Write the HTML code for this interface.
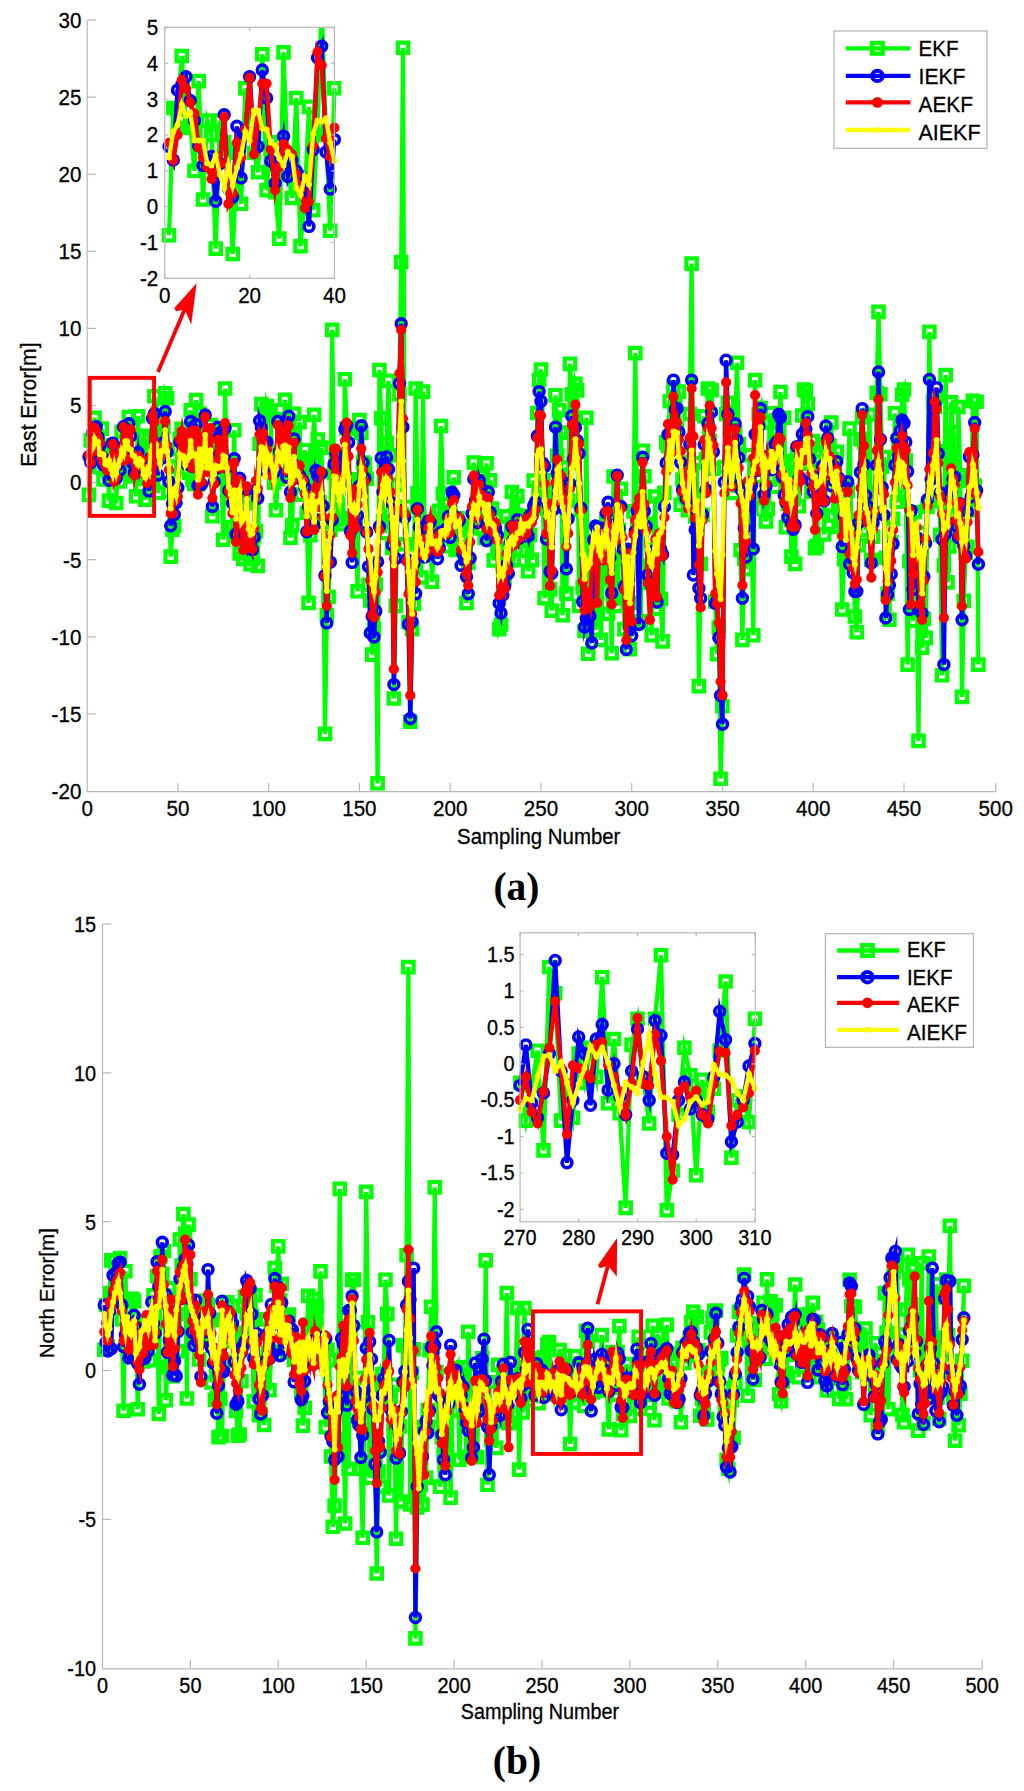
<!DOCTYPE html>
<html><head><meta charset="utf-8"><title>Error comparison</title>
<style>html,body{margin:0;padding:0;background:#fff}svg{display:block}</style></head>
<body>
<svg width="1024" height="1791" viewBox="0 0 1024 1791">
<rect width="1024" height="1791" fill="#fff"/>
<g id="chartA">
<clipPath id="mcA"><rect x="79.2" y="12" width="924.9" height="787.7"/></clipPath>
<g clip-path="url(#mcA)">
<polyline points="89,494.9 90.8,440.2 92.6,441 94.5,417.8 96.3,448.7 98.1,447.1 99.9,467.2 101.7,428.6 103.5,479.5 105.3,445.6 107.2,451.8 109,500.6 110.8,445.6 112.6,454.8 114.4,457.9 116.2,503 118.1,459.5 119.9,481.4 121.7,431.7 123.5,451.8 125.3,459.5 127.1,467.8 128.9,417.1 130.8,475.5 132.6,454.8 134.4,476.4 136.2,496.3 138,416.3 139.8,467.2 141.7,478.9 143.5,435.9 145.3,499.6 147.1,478 148.9,439.7 150.7,484.1 152.5,448.7 154.4,396.2 156.2,451.8 158,492.9 159.8,431.7 161.6,408.8 163.4,427 165.2,393.2 167.1,398.3 168.9,491.4 170.7,556.6 172.5,529.6 174.3,525.6 176.1,466.6 177.9,449.3 179.8,438.8 181.6,428.9 183.4,440.2 185.2,438 187,447.1 188.8,472.8 190.7,410.3 192.5,479.8 194.3,483.9 196.1,400.1 197.9,484.5 199.7,413.8 201.5,465.6 203.4,453.7 205.2,437.8 207,458.4 208.8,459.1 210.6,425.1 212.4,516.3 214.2,436 216.1,440.8 217.9,429.8 219.7,462.5 221.5,474 223.3,539.7 225.1,388.5 227,476.4 228.8,497.4 230.6,478.4 232.4,527.2 234.2,430.2 236,535 237.8,528.9 239.7,553.5 241.5,500.4 243.3,558.9 245.1,494.4 246.9,503.1 248.7,541.9 250.6,564.3 252.4,537.6 254.2,535.7 256,531.3 257.8,565.9 259.6,443.8 261.4,404.1 263.3,449.6 265.1,460.5 266.9,406 268.7,413.2 270.5,410.6 272.3,465.2 274.1,482.8 276,510.3 277.8,479.1 279.6,419.1 281.4,472.4 283.2,456.9 285,399.8 286.9,451 288.7,425.8 290.5,537.7 292.3,525.1 294.1,413.9 295.9,473.7 297.7,476.2 299.6,422.2 301.4,494.6 303.2,470.3 305,450.2 306.8,513 308.6,602.9 310.4,535.1 312.3,460.9 314.1,414.8 315.9,460.5 317.7,439.6 319.5,502.2 321.3,447.6 323.1,521.7 325,733.9 326.8,615.4 328.6,597 330.4,529.8 332.2,329.9 334,473.1 335.9,458.7 337.7,519.5 339.5,518.7 341.3,455.4 343.1,524.1 344.9,379.3 346.7,428.6 348.6,480.4 350.4,479.2 352.2,518.2 354,521.2 355.8,520 357.6,591.3 359.4,420 361.3,432.9 363.1,462.5 364.9,464.4 366.7,478.6 368.5,584.8 370.3,600.5 372.2,654.6 374,629.4 375.8,584.5 377.6,783.3 379.4,370 381.2,418.2 383,521.5 384.9,533 386.7,443.1 388.5,380.8 390.3,455.1 392.1,547.9 393.9,698.5 395.8,605.9 397.6,485 399.4,394.2 401.2,262.1 403,47.8 404.8,544.3 406.6,506.7 408.5,622.1 410.3,721.6 412.1,629.1 413.9,604 415.7,388.5 417.5,493.4 419.3,540.6 421.2,577.5 423,391.6 424.8,555.2 426.6,550.7 428.4,533.8 430.2,531.9 432,581.8 433.9,547.8 435.7,537.2 437.5,526.7 439.3,510.9 441.1,426 442.9,493.9 444.8,531.7 446.6,512.2 448.4,546.3 450.2,513.5 452,522.3 453.8,477.4 455.6,549.9 457.5,518.2 459.3,527.3 461.1,541.2 462.9,546.7 464.7,557.3 466.5,602.9 468.3,563 470.2,528.2 472,525.9 473.8,462.6 475.6,519.4 477.4,507.5 479.2,480.7 481.1,491.3 482.9,476 484.7,538 486.5,463.3 488.3,531.3 490.1,480.4 491.9,508.6 493.8,560.4 495.6,516.8 497.4,549 499.2,629.2 501,624.5 502.8,563.2 504.6,578.3 506.5,516.4 508.3,560.9 510.1,547.9 511.9,492 513.7,559.9 515.5,515.3 517.4,496.1 519.2,526.1 521,521.2 522.8,515.8 524.6,517.7 526.4,550.6 528.2,571.3 530.1,534.9 531.9,559.9 533.7,480.6 535.5,508.4 537.3,413 539.1,380.1 541,369.5 542.8,485.8 544.6,598.2 546.4,496.9 548.2,490.6 550,589.4 551.8,610.6 553.7,480.4 555.5,395.2 557.3,455.7 559.1,410.3 560.9,432.6 562.7,615.2 564.5,467.6 566.4,593.6 568.2,500.5 570,363.9 571.8,394.3 573.6,463 575.4,383.9 577.2,390.4 579.1,606 580.9,509.9 582.7,587.2 584.5,631 586.3,417.8 588.1,653.8 590,622.6 591.8,612.4 593.6,621.4 595.4,571.5 597.2,573.3 599,562.6 600.8,639.9 602.7,578.1 604.5,567.5 606.3,518.7 608.1,613.7 609.9,555.3 611.7,653.2 613.6,476.5 615.4,585.8 617.2,606 619,529.9 620.8,488.7 622.6,559.8 624.4,629.1 626.3,598.2 628.1,575.1 629.9,649.1 631.7,602.9 633.5,511.4 635.3,353.1 637.1,524.7 639,519.9 640.8,621.4 642.6,450.7 644.4,476.3 646.2,523.8 648,582.9 649.9,565.9 651.7,635.3 653.5,549.6 655.3,496.5 657.1,609 658.9,534.6 660.7,598.9 662.6,641.4 664.4,492.7 666.2,442.4 668,446 669.8,401.2 671.6,446.7 673.4,387 675.3,405.3 677.1,428.8 678.9,391.6 680.7,504.8 682.5,479.6 684.3,491 686.1,455 688,510.3 689.8,414 691.6,263.6 693.4,496 695.2,516.5 697,463 698.9,686.1 700.7,563.9 702.5,514.9 704.3,416.3 706.1,458.9 707.9,388.5 709.7,441.1 711.6,390.1 713.4,468.8 715.2,601.5 717,654.1 718.8,627.5 720.6,778.7 722.5,706.2 724.3,467 726.1,414.2 727.9,402.7 729.7,429 731.5,445.1 733.3,493 735.2,432.8 737,362.8 738.8,444 740.6,550.3 742.4,639.9 744.2,558.7 746,569.2 747.9,507.9 749.7,455.3 751.5,508.7 753.3,635.3 755.1,380.1 756.9,476.7 758.8,414.2 760.6,408 762.4,460 764.2,498.3 766,521.5 767.8,508.7 769.6,422.6 771.5,413.2 773.3,451.8 775.1,486.8 776.9,446.6 778.7,443 780.5,392 782.3,475.1 784.2,417.8 786,527.1 787.8,503.9 789.6,461.4 791.4,556.6 793.2,465.5 795.1,563.9 796.9,454.2 798.7,506.3 800.5,463.8 802.3,415.5 804.1,389.5 805.9,390.9 807.8,404.1 809.6,458 811.4,491.8 813.2,441.1 815,548.1 816.8,545.9 818.6,494.8 820.5,461.5 822.3,445.3 824.1,534.4 825.9,479.4 827.7,452 829.5,445.6 831.4,422.5 833.2,515.5 835,464.9 836.8,451.8 838.6,527 840.4,520.8 842.2,609.5 844.1,559.1 845.9,541.8 847.7,490.4 849.5,428.6 851.3,520.8 853.1,528.3 854.9,616.5 856.8,632.2 858.6,545.1 860.4,439.1 862.2,417.5 864,442.2 865.8,530 867.6,492.3 869.5,414.8 871.3,559.7 873.1,536.6 874.9,512.8 876.7,392.9 878.5,311.9 880.4,394.3 882.2,466.8 884,457.1 885.8,557.7 887.6,593.6 889.4,619.8 891.2,542 893.1,518.9 894.9,413.2 896.7,501.8 898.5,448.8 900.3,495.3 902.1,394.8 904,389.5 905.8,460.2 907.6,664.6 909.4,561.3 911.2,522.9 913,620.8 914.8,512 916.7,553 918.5,740.9 920.3,532.8 922.1,647.7 923.9,619 925.7,637.9 927.5,506.8 929.4,331.9 931.2,501.1 933,401.6 934.8,406.8 936.6,396.2 938.4,451.3 940.2,534.9 942.1,675.4 943.9,565.4 945.7,375.1 947.5,582.4 949.3,546.4 951.1,402.4 953,432.2 954.8,528.4 956.6,506 958.4,407 960.2,475.3 962,696.9 963.8,600.9 965.7,552.7 967.5,546.7 969.3,481 971.1,510.4 972.9,400.8 974.7,485.5 976.6,401.8 978.4,664.6" fill="none" stroke="#00ff00" stroke-width="4.3" stroke-linejoin="miter" stroke-miterlimit="8"/>
<path d="M83.8,489.7h10.4v10.4h-10.4zM85.6,435h10.4v10.4h-10.4zM87.4,435.8h10.4v10.4h-10.4zM89.3,412.6h10.4v10.4h-10.4zM91.1,443.5h10.4v10.4h-10.4zM92.9,441.9h10.4v10.4h-10.4zM94.7,462h10.4v10.4h-10.4zM96.5,423.4h10.4v10.4h-10.4zM98.3,474.3h10.4v10.4h-10.4zM100.1,440.4h10.4v10.4h-10.4zM102,446.6h10.4v10.4h-10.4zM103.8,495.4h10.4v10.4h-10.4zM105.6,440.4h10.4v10.4h-10.4zM107.4,449.6h10.4v10.4h-10.4zM109.2,452.7h10.4v10.4h-10.4zM111,497.8h10.4v10.4h-10.4zM112.9,454.3h10.4v10.4h-10.4zM114.7,476.2h10.4v10.4h-10.4zM116.5,426.5h10.4v10.4h-10.4zM118.3,446.6h10.4v10.4h-10.4zM120.1,454.3h10.4v10.4h-10.4zM121.9,462.6h10.4v10.4h-10.4zM123.7,411.9h10.4v10.4h-10.4zM125.6,470.3h10.4v10.4h-10.4zM127.4,449.6h10.4v10.4h-10.4zM129.2,471.2h10.4v10.4h-10.4zM131,491.1h10.4v10.4h-10.4zM132.8,411.1h10.4v10.4h-10.4zM134.6,462h10.4v10.4h-10.4zM136.5,473.7h10.4v10.4h-10.4zM138.3,430.7h10.4v10.4h-10.4zM140.1,494.4h10.4v10.4h-10.4zM141.9,472.8h10.4v10.4h-10.4zM143.7,434.5h10.4v10.4h-10.4zM145.5,478.9h10.4v10.4h-10.4zM147.3,443.5h10.4v10.4h-10.4zM149.2,391h10.4v10.4h-10.4zM151,446.6h10.4v10.4h-10.4zM152.8,487.7h10.4v10.4h-10.4zM154.6,426.5h10.4v10.4h-10.4zM156.4,403.6h10.4v10.4h-10.4zM158.2,421.8h10.4v10.4h-10.4zM160,388h10.4v10.4h-10.4zM161.9,393.1h10.4v10.4h-10.4zM163.7,486.2h10.4v10.4h-10.4zM165.5,551.4h10.4v10.4h-10.4zM167.3,524.4h10.4v10.4h-10.4zM169.1,520.4h10.4v10.4h-10.4zM170.9,461.4h10.4v10.4h-10.4zM172.8,444.1h10.4v10.4h-10.4zM174.6,433.6h10.4v10.4h-10.4zM176.4,423.7h10.4v10.4h-10.4zM178.2,435h10.4v10.4h-10.4zM180,432.8h10.4v10.4h-10.4zM181.8,441.9h10.4v10.4h-10.4zM183.6,467.6h10.4v10.4h-10.4zM185.5,405.1h10.4v10.4h-10.4zM187.3,474.6h10.4v10.4h-10.4zM189.1,478.7h10.4v10.4h-10.4zM190.9,394.9h10.4v10.4h-10.4zM192.7,479.3h10.4v10.4h-10.4zM194.5,408.6h10.4v10.4h-10.4zM196.3,460.4h10.4v10.4h-10.4zM198.2,448.5h10.4v10.4h-10.4zM200,432.6h10.4v10.4h-10.4zM201.8,453.2h10.4v10.4h-10.4zM203.6,453.9h10.4v10.4h-10.4zM205.4,419.9h10.4v10.4h-10.4zM207.2,511.1h10.4v10.4h-10.4zM209.1,430.8h10.4v10.4h-10.4zM210.9,435.6h10.4v10.4h-10.4zM212.7,424.6h10.4v10.4h-10.4zM214.5,457.3h10.4v10.4h-10.4zM216.3,468.8h10.4v10.4h-10.4zM218.1,534.5h10.4v10.4h-10.4zM219.9,383.3h10.4v10.4h-10.4zM221.8,471.2h10.4v10.4h-10.4zM223.6,492.2h10.4v10.4h-10.4zM225.4,473.2h10.4v10.4h-10.4zM227.2,522h10.4v10.4h-10.4zM229,425h10.4v10.4h-10.4zM230.8,529.8h10.4v10.4h-10.4zM232.6,523.7h10.4v10.4h-10.4zM234.5,548.3h10.4v10.4h-10.4zM236.3,495.2h10.4v10.4h-10.4zM238.1,553.7h10.4v10.4h-10.4zM239.9,489.2h10.4v10.4h-10.4zM241.7,497.9h10.4v10.4h-10.4zM243.5,536.7h10.4v10.4h-10.4zM245.4,559.1h10.4v10.4h-10.4zM247.2,532.4h10.4v10.4h-10.4zM249,530.5h10.4v10.4h-10.4zM250.8,526.1h10.4v10.4h-10.4zM252.6,560.7h10.4v10.4h-10.4zM254.4,438.6h10.4v10.4h-10.4zM256.2,398.9h10.4v10.4h-10.4zM258.1,444.4h10.4v10.4h-10.4zM259.9,455.3h10.4v10.4h-10.4zM261.7,400.8h10.4v10.4h-10.4zM263.5,408h10.4v10.4h-10.4zM265.3,405.4h10.4v10.4h-10.4zM267.1,460h10.4v10.4h-10.4zM268.9,477.6h10.4v10.4h-10.4zM270.8,505.1h10.4v10.4h-10.4zM272.6,473.9h10.4v10.4h-10.4zM274.4,413.9h10.4v10.4h-10.4zM276.2,467.2h10.4v10.4h-10.4zM278,451.7h10.4v10.4h-10.4zM279.8,394.6h10.4v10.4h-10.4zM281.7,445.8h10.4v10.4h-10.4zM283.5,420.6h10.4v10.4h-10.4zM285.3,532.5h10.4v10.4h-10.4zM287.1,519.9h10.4v10.4h-10.4zM288.9,408.7h10.4v10.4h-10.4zM290.7,468.5h10.4v10.4h-10.4zM292.5,471h10.4v10.4h-10.4zM294.4,417h10.4v10.4h-10.4zM296.2,489.4h10.4v10.4h-10.4zM298,465.1h10.4v10.4h-10.4zM299.8,445h10.4v10.4h-10.4zM301.6,507.8h10.4v10.4h-10.4zM303.4,597.7h10.4v10.4h-10.4zM305.2,529.9h10.4v10.4h-10.4zM307.1,455.7h10.4v10.4h-10.4zM308.9,409.6h10.4v10.4h-10.4zM310.7,455.3h10.4v10.4h-10.4zM312.5,434.4h10.4v10.4h-10.4zM314.3,497h10.4v10.4h-10.4zM316.1,442.4h10.4v10.4h-10.4zM317.9,516.5h10.4v10.4h-10.4zM319.8,728.7h10.4v10.4h-10.4zM321.6,610.2h10.4v10.4h-10.4zM323.4,591.8h10.4v10.4h-10.4zM325.2,524.6h10.4v10.4h-10.4zM327,324.7h10.4v10.4h-10.4zM328.8,467.9h10.4v10.4h-10.4zM330.7,453.5h10.4v10.4h-10.4zM332.5,514.3h10.4v10.4h-10.4zM334.3,513.5h10.4v10.4h-10.4zM336.1,450.2h10.4v10.4h-10.4zM337.9,518.9h10.4v10.4h-10.4zM339.7,374.1h10.4v10.4h-10.4zM341.5,423.4h10.4v10.4h-10.4zM343.4,475.2h10.4v10.4h-10.4zM345.2,474h10.4v10.4h-10.4zM347,513h10.4v10.4h-10.4zM348.8,516h10.4v10.4h-10.4zM350.6,514.8h10.4v10.4h-10.4zM352.4,586.1h10.4v10.4h-10.4zM354.2,414.8h10.4v10.4h-10.4zM356.1,427.7h10.4v10.4h-10.4zM357.9,457.3h10.4v10.4h-10.4zM359.7,459.2h10.4v10.4h-10.4zM361.5,473.4h10.4v10.4h-10.4zM363.3,579.6h10.4v10.4h-10.4zM365.1,595.3h10.4v10.4h-10.4zM367,649.4h10.4v10.4h-10.4zM368.8,624.2h10.4v10.4h-10.4zM370.6,579.3h10.4v10.4h-10.4zM372.4,778.1h10.4v10.4h-10.4zM374.2,364.8h10.4v10.4h-10.4zM376,413h10.4v10.4h-10.4zM377.8,516.3h10.4v10.4h-10.4zM379.7,527.8h10.4v10.4h-10.4zM381.5,437.9h10.4v10.4h-10.4zM383.3,375.6h10.4v10.4h-10.4zM385.1,449.9h10.4v10.4h-10.4zM386.9,542.7h10.4v10.4h-10.4zM388.7,693.3h10.4v10.4h-10.4zM390.6,600.7h10.4v10.4h-10.4zM392.4,479.8h10.4v10.4h-10.4zM394.2,389h10.4v10.4h-10.4zM396,256.9h10.4v10.4h-10.4zM397.8,42.6h10.4v10.4h-10.4zM399.6,539.1h10.4v10.4h-10.4zM401.4,501.5h10.4v10.4h-10.4zM403.3,616.9h10.4v10.4h-10.4zM405.1,716.4h10.4v10.4h-10.4zM406.9,623.9h10.4v10.4h-10.4zM408.7,598.8h10.4v10.4h-10.4zM410.5,383.3h10.4v10.4h-10.4zM412.3,488.2h10.4v10.4h-10.4zM414.1,535.4h10.4v10.4h-10.4zM416,572.3h10.4v10.4h-10.4zM417.8,386.4h10.4v10.4h-10.4zM419.6,550h10.4v10.4h-10.4zM421.4,545.5h10.4v10.4h-10.4zM423.2,528.6h10.4v10.4h-10.4zM425,526.7h10.4v10.4h-10.4zM426.8,576.6h10.4v10.4h-10.4zM428.7,542.6h10.4v10.4h-10.4zM430.5,532h10.4v10.4h-10.4zM432.3,521.5h10.4v10.4h-10.4zM434.1,505.7h10.4v10.4h-10.4zM435.9,420.8h10.4v10.4h-10.4zM437.7,488.7h10.4v10.4h-10.4zM439.6,526.5h10.4v10.4h-10.4zM441.4,507h10.4v10.4h-10.4zM443.2,541.1h10.4v10.4h-10.4zM445,508.3h10.4v10.4h-10.4zM446.8,517.1h10.4v10.4h-10.4zM448.6,472.2h10.4v10.4h-10.4zM450.4,544.7h10.4v10.4h-10.4zM452.3,513h10.4v10.4h-10.4zM454.1,522.1h10.4v10.4h-10.4zM455.9,536h10.4v10.4h-10.4zM457.7,541.5h10.4v10.4h-10.4zM459.5,552.1h10.4v10.4h-10.4zM461.3,597.7h10.4v10.4h-10.4zM463.1,557.8h10.4v10.4h-10.4zM465,523h10.4v10.4h-10.4zM466.8,520.7h10.4v10.4h-10.4zM468.6,457.4h10.4v10.4h-10.4zM470.4,514.2h10.4v10.4h-10.4zM472.2,502.3h10.4v10.4h-10.4zM474,475.5h10.4v10.4h-10.4zM475.9,486.1h10.4v10.4h-10.4zM477.7,470.8h10.4v10.4h-10.4zM479.5,532.8h10.4v10.4h-10.4zM481.3,458.1h10.4v10.4h-10.4zM483.1,526.1h10.4v10.4h-10.4zM484.9,475.2h10.4v10.4h-10.4zM486.7,503.4h10.4v10.4h-10.4zM488.6,555.2h10.4v10.4h-10.4zM490.4,511.6h10.4v10.4h-10.4zM492.2,543.8h10.4v10.4h-10.4zM494,624h10.4v10.4h-10.4zM495.8,619.3h10.4v10.4h-10.4zM497.6,558h10.4v10.4h-10.4zM499.4,573.1h10.4v10.4h-10.4zM501.3,511.2h10.4v10.4h-10.4zM503.1,555.7h10.4v10.4h-10.4zM504.9,542.7h10.4v10.4h-10.4zM506.7,486.8h10.4v10.4h-10.4zM508.5,554.7h10.4v10.4h-10.4zM510.3,510.1h10.4v10.4h-10.4zM512.2,490.9h10.4v10.4h-10.4zM514,520.9h10.4v10.4h-10.4zM515.8,516h10.4v10.4h-10.4zM517.6,510.6h10.4v10.4h-10.4zM519.4,512.5h10.4v10.4h-10.4zM521.2,545.4h10.4v10.4h-10.4zM523,566.1h10.4v10.4h-10.4zM524.9,529.7h10.4v10.4h-10.4zM526.7,554.7h10.4v10.4h-10.4zM528.5,475.4h10.4v10.4h-10.4zM530.3,503.2h10.4v10.4h-10.4zM532.1,407.8h10.4v10.4h-10.4zM533.9,374.9h10.4v10.4h-10.4zM535.8,364.3h10.4v10.4h-10.4zM537.6,480.6h10.4v10.4h-10.4zM539.4,593h10.4v10.4h-10.4zM541.2,491.7h10.4v10.4h-10.4zM543,485.4h10.4v10.4h-10.4zM544.8,584.2h10.4v10.4h-10.4zM546.6,605.4h10.4v10.4h-10.4zM548.5,475.2h10.4v10.4h-10.4zM550.3,390h10.4v10.4h-10.4zM552.1,450.5h10.4v10.4h-10.4zM553.9,405.1h10.4v10.4h-10.4zM555.7,427.4h10.4v10.4h-10.4zM557.5,610h10.4v10.4h-10.4zM559.3,462.4h10.4v10.4h-10.4zM561.2,588.4h10.4v10.4h-10.4zM563,495.3h10.4v10.4h-10.4zM564.8,358.7h10.4v10.4h-10.4zM566.6,389.1h10.4v10.4h-10.4zM568.4,457.8h10.4v10.4h-10.4zM570.2,378.7h10.4v10.4h-10.4zM572,385.2h10.4v10.4h-10.4zM573.9,600.8h10.4v10.4h-10.4zM575.7,504.7h10.4v10.4h-10.4zM577.5,582h10.4v10.4h-10.4zM579.3,625.8h10.4v10.4h-10.4zM581.1,412.6h10.4v10.4h-10.4zM582.9,648.6h10.4v10.4h-10.4zM584.8,617.4h10.4v10.4h-10.4zM586.6,607.2h10.4v10.4h-10.4zM588.4,616.2h10.4v10.4h-10.4zM590.2,566.3h10.4v10.4h-10.4zM592,568.1h10.4v10.4h-10.4zM593.8,557.4h10.4v10.4h-10.4zM595.6,634.7h10.4v10.4h-10.4zM597.5,572.9h10.4v10.4h-10.4zM599.3,562.3h10.4v10.4h-10.4zM601.1,513.5h10.4v10.4h-10.4zM602.9,608.5h10.4v10.4h-10.4zM604.7,550.1h10.4v10.4h-10.4zM606.5,648h10.4v10.4h-10.4zM608.4,471.3h10.4v10.4h-10.4zM610.2,580.6h10.4v10.4h-10.4zM612,600.8h10.4v10.4h-10.4zM613.8,524.7h10.4v10.4h-10.4zM615.6,483.5h10.4v10.4h-10.4zM617.4,554.6h10.4v10.4h-10.4zM619.2,623.9h10.4v10.4h-10.4zM621.1,593h10.4v10.4h-10.4zM622.9,569.9h10.4v10.4h-10.4zM624.7,643.9h10.4v10.4h-10.4zM626.5,597.7h10.4v10.4h-10.4zM628.3,506.2h10.4v10.4h-10.4zM630.1,347.9h10.4v10.4h-10.4zM631.9,519.5h10.4v10.4h-10.4zM633.8,514.7h10.4v10.4h-10.4zM635.6,616.2h10.4v10.4h-10.4zM637.4,445.5h10.4v10.4h-10.4zM639.2,471.1h10.4v10.4h-10.4zM641,518.6h10.4v10.4h-10.4zM642.8,577.7h10.4v10.4h-10.4zM644.6,560.7h10.4v10.4h-10.4zM646.5,630.1h10.4v10.4h-10.4zM648.3,544.4h10.4v10.4h-10.4zM650.1,491.3h10.4v10.4h-10.4zM651.9,603.8h10.4v10.4h-10.4zM653.7,529.4h10.4v10.4h-10.4zM655.5,593.7h10.4v10.4h-10.4zM657.4,636.2h10.4v10.4h-10.4zM659.2,487.5h10.4v10.4h-10.4zM661,437.2h10.4v10.4h-10.4zM662.8,440.8h10.4v10.4h-10.4zM664.6,396h10.4v10.4h-10.4zM666.4,441.5h10.4v10.4h-10.4zM668.2,381.8h10.4v10.4h-10.4zM670.1,400.1h10.4v10.4h-10.4zM671.9,423.6h10.4v10.4h-10.4zM673.7,386.4h10.4v10.4h-10.4zM675.5,499.6h10.4v10.4h-10.4zM677.3,474.4h10.4v10.4h-10.4zM679.1,485.8h10.4v10.4h-10.4zM680.9,449.8h10.4v10.4h-10.4zM682.8,505.1h10.4v10.4h-10.4zM684.6,408.8h10.4v10.4h-10.4zM686.4,258.4h10.4v10.4h-10.4zM688.2,490.8h10.4v10.4h-10.4zM690,511.3h10.4v10.4h-10.4zM691.8,457.8h10.4v10.4h-10.4zM693.7,680.9h10.4v10.4h-10.4zM695.5,558.7h10.4v10.4h-10.4zM697.3,509.7h10.4v10.4h-10.4zM699.1,411.1h10.4v10.4h-10.4zM700.9,453.7h10.4v10.4h-10.4zM702.7,383.3h10.4v10.4h-10.4zM704.5,435.9h10.4v10.4h-10.4zM706.4,384.9h10.4v10.4h-10.4zM708.2,463.6h10.4v10.4h-10.4zM710,596.3h10.4v10.4h-10.4zM711.8,648.9h10.4v10.4h-10.4zM713.6,622.3h10.4v10.4h-10.4zM715.4,773.5h10.4v10.4h-10.4zM717.2,701h10.4v10.4h-10.4zM719.1,461.8h10.4v10.4h-10.4zM720.9,409h10.4v10.4h-10.4zM722.7,397.5h10.4v10.4h-10.4zM724.5,423.8h10.4v10.4h-10.4zM726.3,439.9h10.4v10.4h-10.4zM728.1,487.8h10.4v10.4h-10.4zM730,427.6h10.4v10.4h-10.4zM731.8,357.6h10.4v10.4h-10.4zM733.6,438.8h10.4v10.4h-10.4zM735.4,545.1h10.4v10.4h-10.4zM737.2,634.7h10.4v10.4h-10.4zM739,553.5h10.4v10.4h-10.4zM740.8,564h10.4v10.4h-10.4zM742.7,502.7h10.4v10.4h-10.4zM744.5,450.1h10.4v10.4h-10.4zM746.3,503.5h10.4v10.4h-10.4zM748.1,630.1h10.4v10.4h-10.4zM749.9,374.9h10.4v10.4h-10.4zM751.7,471.5h10.4v10.4h-10.4zM753.5,409h10.4v10.4h-10.4zM755.4,402.8h10.4v10.4h-10.4zM757.2,454.8h10.4v10.4h-10.4zM759,493.1h10.4v10.4h-10.4zM760.8,516.3h10.4v10.4h-10.4zM762.6,503.5h10.4v10.4h-10.4zM764.4,417.4h10.4v10.4h-10.4zM766.3,408h10.4v10.4h-10.4zM768.1,446.6h10.4v10.4h-10.4zM769.9,481.6h10.4v10.4h-10.4zM771.7,441.4h10.4v10.4h-10.4zM773.5,437.8h10.4v10.4h-10.4zM775.3,386.8h10.4v10.4h-10.4zM777.1,469.9h10.4v10.4h-10.4zM779,412.6h10.4v10.4h-10.4zM780.8,521.9h10.4v10.4h-10.4zM782.6,498.7h10.4v10.4h-10.4zM784.4,456.2h10.4v10.4h-10.4zM786.2,551.4h10.4v10.4h-10.4zM788,460.3h10.4v10.4h-10.4zM789.9,558.7h10.4v10.4h-10.4zM791.7,449h10.4v10.4h-10.4zM793.5,501.1h10.4v10.4h-10.4zM795.3,458.6h10.4v10.4h-10.4zM797.1,410.3h10.4v10.4h-10.4zM798.9,384.3h10.4v10.4h-10.4zM800.7,385.7h10.4v10.4h-10.4zM802.6,398.9h10.4v10.4h-10.4zM804.4,452.8h10.4v10.4h-10.4zM806.2,486.6h10.4v10.4h-10.4zM808,435.9h10.4v10.4h-10.4zM809.8,542.9h10.4v10.4h-10.4zM811.6,540.7h10.4v10.4h-10.4zM813.4,489.6h10.4v10.4h-10.4zM815.3,456.3h10.4v10.4h-10.4zM817.1,440.1h10.4v10.4h-10.4zM818.9,529.2h10.4v10.4h-10.4zM820.7,474.2h10.4v10.4h-10.4zM822.5,446.8h10.4v10.4h-10.4zM824.3,440.4h10.4v10.4h-10.4zM826.1,417.3h10.4v10.4h-10.4zM828,510.3h10.4v10.4h-10.4zM829.8,459.7h10.4v10.4h-10.4zM831.6,446.6h10.4v10.4h-10.4zM833.4,521.8h10.4v10.4h-10.4zM835.2,515.6h10.4v10.4h-10.4zM837,604.3h10.4v10.4h-10.4zM838.9,553.9h10.4v10.4h-10.4zM840.7,536.6h10.4v10.4h-10.4zM842.5,485.2h10.4v10.4h-10.4zM844.3,423.4h10.4v10.4h-10.4zM846.1,515.6h10.4v10.4h-10.4zM847.9,523.1h10.4v10.4h-10.4zM849.7,611.3h10.4v10.4h-10.4zM851.6,627h10.4v10.4h-10.4zM853.4,539.9h10.4v10.4h-10.4zM855.2,433.9h10.4v10.4h-10.4zM857,412.3h10.4v10.4h-10.4zM858.8,437h10.4v10.4h-10.4zM860.6,524.8h10.4v10.4h-10.4zM862.4,487.1h10.4v10.4h-10.4zM864.3,409.6h10.4v10.4h-10.4zM866.1,554.5h10.4v10.4h-10.4zM867.9,531.4h10.4v10.4h-10.4zM869.7,507.6h10.4v10.4h-10.4zM871.5,387.7h10.4v10.4h-10.4zM873.3,306.7h10.4v10.4h-10.4zM875.2,389.1h10.4v10.4h-10.4zM877,461.6h10.4v10.4h-10.4zM878.8,451.9h10.4v10.4h-10.4zM880.6,552.5h10.4v10.4h-10.4zM882.4,588.4h10.4v10.4h-10.4zM884.2,614.6h10.4v10.4h-10.4zM886,536.8h10.4v10.4h-10.4zM887.9,513.7h10.4v10.4h-10.4zM889.7,408h10.4v10.4h-10.4zM891.5,496.6h10.4v10.4h-10.4zM893.3,443.6h10.4v10.4h-10.4zM895.1,490.1h10.4v10.4h-10.4zM896.9,389.6h10.4v10.4h-10.4zM898.8,384.3h10.4v10.4h-10.4zM900.6,455h10.4v10.4h-10.4zM902.4,659.4h10.4v10.4h-10.4zM904.2,556.1h10.4v10.4h-10.4zM906,517.7h10.4v10.4h-10.4zM907.8,615.6h10.4v10.4h-10.4zM909.6,506.8h10.4v10.4h-10.4zM911.5,547.8h10.4v10.4h-10.4zM913.3,735.7h10.4v10.4h-10.4zM915.1,527.6h10.4v10.4h-10.4zM916.9,642.5h10.4v10.4h-10.4zM918.7,613.8h10.4v10.4h-10.4zM920.5,632.7h10.4v10.4h-10.4zM922.3,501.6h10.4v10.4h-10.4zM924.2,326.7h10.4v10.4h-10.4zM926,495.9h10.4v10.4h-10.4zM927.8,396.4h10.4v10.4h-10.4zM929.6,401.6h10.4v10.4h-10.4zM931.4,391h10.4v10.4h-10.4zM933.2,446.1h10.4v10.4h-10.4zM935,529.7h10.4v10.4h-10.4zM936.9,670.1h10.4v10.4h-10.4zM938.7,560.2h10.4v10.4h-10.4zM940.5,369.9h10.4v10.4h-10.4zM942.3,577.2h10.4v10.4h-10.4zM944.1,541.2h10.4v10.4h-10.4zM945.9,397.2h10.4v10.4h-10.4zM947.8,427h10.4v10.4h-10.4zM949.6,523.2h10.4v10.4h-10.4zM951.4,500.8h10.4v10.4h-10.4zM953.2,401.8h10.4v10.4h-10.4zM955,470.1h10.4v10.4h-10.4zM956.8,691.7h10.4v10.4h-10.4zM958.6,595.7h10.4v10.4h-10.4zM960.5,547.5h10.4v10.4h-10.4zM962.3,541.5h10.4v10.4h-10.4zM964.1,475.8h10.4v10.4h-10.4zM965.9,505.2h10.4v10.4h-10.4zM967.7,395.6h10.4v10.4h-10.4zM969.5,480.3h10.4v10.4h-10.4zM971.4,396.6h10.4v10.4h-10.4zM973.2,659.4h10.4v10.4h-10.4z" fill="none" stroke="#00ff00" stroke-width="4.2"/>
</g>
<g clip-path="url(#mcA)">
<polyline points="89,456.7 90.8,462.6 92.6,432.5 94.5,430.2 96.3,426.8 98.1,437 99.9,445.6 101.7,456.4 103.5,464.9 105.3,462.6 107.2,461 109,480.3 110.8,464.1 112.6,443.1 114.4,474.9 116.2,478.4 118.1,448.1 119.9,470.3 121.7,451.8 123.5,426.8 125.3,453.3 127.1,456.7 128.9,423.8 130.8,435.9 132.6,463 134.4,472.6 136.2,464.1 138,452.4 139.8,469.6 141.7,462.6 143.5,467.2 145.3,469.5 147.1,473.3 148.9,491.1 150.7,458.1 152.5,418.6 154.4,413.7 156.2,459.2 158,475 159.8,453.8 161.6,458.3 163.4,442.6 165.2,411.4 167.1,451.9 168.9,481.4 170.7,525.8 172.5,503.7 174.3,514.4 176.1,502.8 177.9,487.8 179.8,442 181.6,441.4 183.4,435.9 185.2,436.9 187,464.3 188.8,439.9 190.7,421.5 192.5,466.6 194.3,444.3 196.1,424.4 197.9,485.6 199.7,453.6 201.5,484.6 203.4,468.4 205.2,415 207,464.3 208.8,453.2 210.6,433.3 212.4,506.5 214.2,481.8 216.1,468.4 217.9,427.3 219.7,462.8 221.5,466.1 223.3,429.9 225.1,428 227,467 228.8,490.6 230.6,489.4 232.4,503 234.2,458.6 236,534.3 237.8,511.2 239.7,478.2 241.5,528 243.3,539.1 245.1,532.2 246.9,489.2 248.7,547.3 250.6,542.8 252.4,549.7 254.2,536.9 256,489.9 257.8,498.2 259.6,420.8 261.4,427.7 263.3,441.6 265.1,470.7 266.9,441.9 268.7,463.3 270.5,467.3 272.3,463.9 274.1,472.2 276,469.1 277.8,421.5 279.6,451.3 281.4,457 283.2,436.4 285,424 286.9,477.2 288.7,416.2 290.5,492.1 292.3,463.2 294.1,438.9 295.9,477.1 297.7,472.8 299.6,475.4 301.4,479.1 303.2,481.3 305,487.4 306.8,531.7 308.6,506.3 310.4,499.9 312.3,506.3 314.1,525.6 315.9,470.5 317.7,475.8 319.5,510.7 321.3,473.5 323.1,506 325,575.6 326.8,622.9 328.6,562.3 330.4,562.1 332.2,520 334,464 335.9,453.5 337.7,481.2 339.5,482.5 341.3,469.2 343.1,463.5 344.9,428.9 346.7,425.3 348.6,442.4 350.4,530.9 352.2,562.4 354,495.8 355.8,524.8 357.6,515.6 359.4,486.2 361.3,425.8 363.1,462.7 364.9,478 366.7,532 368.5,566.6 370.3,632.9 372.2,616.5 374,637.1 375.8,610.9 377.6,561.7 379.4,526.5 381.2,457.9 383,492.2 384.9,486.1 386.7,456.9 388.5,469.2 390.3,501.8 392.1,545.1 393.9,684.6 395.8,558.5 397.6,509.6 399.4,383.6 401.2,323.8 403,427.1 404.8,517.6 406.6,559.2 408.5,624.2 410.3,718.5 412.1,621.4 413.9,563.6 415.7,593.8 417.5,508.8 419.3,527 421.2,528.5 423,552.7 424.8,557.1 426.6,551.7 428.4,520.9 430.2,522.3 432,547.6 433.9,549 435.7,536 437.5,558.8 439.3,547.7 441.1,532.1 442.9,532.4 444.8,535.3 446.6,528.4 448.4,516.4 450.2,537.4 452,492.2 453.8,495.3 455.6,517.2 457.5,522.8 459.3,520.2 461.1,565.4 462.9,553.7 464.7,554.1 466.5,576.8 468.3,593.8 470.2,558 472,513.4 473.8,479.1 475.6,500.4 477.4,522.6 479.2,480.5 481.1,488.4 482.9,498.9 484.7,499.7 486.5,540.7 488.3,491.9 490.1,512.1 491.9,526 493.8,531 495.6,527.7 497.4,535.3 499.2,603.2 501,612.9 502.8,594.9 504.6,586.2 506.5,564.9 508.3,573.5 510.1,544 511.9,526.7 513.7,539.8 515.5,538.1 517.4,519.7 519.2,538.2 521,530.5 522.8,527.2 524.6,534.5 526.4,529.3 528.2,536.1 530.1,515.3 531.9,516.5 533.7,505.8 535.5,501.7 537.3,435.9 539.1,391.6 541,401.2 542.8,463.2 544.6,466.5 546.4,539 548.2,505.4 550,571.5 551.8,573.2 553.7,509.2 555.5,427.1 557.3,473 559.1,477.1 560.9,479.8 562.7,488 564.5,509.3 566.4,568.9 568.2,518.7 570,483.8 571.8,416 573.6,459.1 575.4,427.4 577.2,440.5 579.1,453.4 580.9,508 582.7,601.7 584.5,626.9 586.3,618.3 588.1,617.4 590,616 591.8,643 593.6,539.8 595.4,526 597.2,529.4 599,546.6 600.8,528.3 602.7,558.6 604.5,545 606.3,512.9 608.1,502.3 609.9,557.8 611.7,593.1 613.6,540.2 615.4,524.2 617.2,475.3 619,528.5 620.8,506.5 622.6,548.5 624.4,586.3 626.3,649.4 628.1,549.2 629.9,627.7 631.7,635.8 633.5,549.8 635.3,531.4 637.1,510.8 639,624.5 640.8,509.1 642.6,457.1 644.4,511 646.2,526.3 648,575 649.9,582.8 651.7,585.9 653.5,581.8 655.3,550.1 657.1,602.1 658.9,538.3 660.7,549 662.6,554.6 664.4,506.8 666.2,463 668,434.6 669.8,432.7 671.6,448.2 673.4,380.1 675.3,409.6 677.1,408.4 678.9,432 680.7,462.4 682.5,489.8 684.3,487.1 686.1,498.5 688,499.2 689.8,443.9 691.6,380.1 693.4,575.1 695.2,529.8 697,518.4 698.9,588.2 700.7,598.2 702.5,514.4 704.3,444.4 706.1,489.7 707.9,423.5 709.7,441.1 711.6,412 713.4,451.8 715.2,603.2 717,601.2 718.8,637.8 720.6,695.4 722.5,724.2 724.3,482.2 726.1,360.2 727.9,414 729.7,454.4 731.5,479.8 733.3,448.2 735.2,423.8 737,440.1 738.8,457.7 740.6,488.9 742.4,598.2 744.2,527.9 746,557.1 747.9,484.1 749.7,497.8 751.5,485.4 753.3,548.9 755.1,434.2 756.9,470.5 758.8,426.1 760.6,408.8 762.4,459.5 764.2,494.6 766,486.2 767.8,456.4 769.6,463.7 771.5,469.7 773.3,467.7 775.1,444.2 776.9,441.8 778.7,414.2 780.5,417.4 782.3,476.9 784.2,494.9 786,502.7 787.8,517.3 789.6,494.5 791.4,523 793.2,529.3 795.1,524.9 796.9,446.6 798.7,478.9 800.5,478.2 802.3,434.1 804.1,439.9 805.9,429 807.8,416.6 809.6,459.1 811.4,481.2 813.2,491.8 815,476.6 816.8,513.5 818.6,495.5 820.5,482.2 822.3,465.9 824.1,500.8 825.9,425.9 827.7,438 829.5,463.6 831.4,485.8 833.2,474.7 835,479.9 836.8,461.6 838.6,478 840.4,480.5 842.2,546.8 844.1,515.9 845.9,539.6 847.7,481.8 849.5,563.9 851.3,530.1 853.1,572.8 854.9,591.5 856.8,591.3 858.6,522.8 860.4,472.3 862.2,408.6 864,464.6 865.8,495.5 867.6,506.3 869.5,521.6 871.3,563.1 873.1,523 874.9,515.8 876.7,465.2 878.5,371.9 880.4,439.4 882.2,487.4 884,515 885.8,618 887.6,594.5 889.4,585 891.2,574 893.1,543.7 894.9,465.1 896.7,438.1 898.5,456 900.3,430.8 902.1,420 904,423.3 905.8,442.1 907.6,471.4 909.4,609.5 911.2,510.6 913,589.6 914.8,549.6 916.7,537.6 918.5,609.5 920.3,572.1 922.1,613.2 923.9,576.8 925.7,543.1 927.5,499.6 929.4,379.4 931.2,479.6 933,437.2 934.8,404.2 936.6,387.6 938.4,453.8 940.2,492.8 942.1,539.2 943.9,664.6 945.7,533.6 947.5,522.7 949.3,497.9 951.1,489.3 953,479.1 954.8,476.9 956.6,526.2 958.4,537.8 960.2,503.6 962,619.8 963.8,545.8 965.7,556 967.5,512 969.3,456.8 971.1,496.7 972.9,454.7 974.7,422.5 976.6,490.4 978.4,564.3" fill="none" stroke="#0000ff" stroke-width="4.3" stroke-linejoin="miter" stroke-miterlimit="8"/>
<g fill="none" stroke="#0000ff" stroke-width="3.6"><circle cx="89" cy="456.7" r="4.9"/><circle cx="90.8" cy="462.6" r="4.9"/><circle cx="92.6" cy="432.5" r="4.9"/><circle cx="94.5" cy="430.2" r="4.9"/><circle cx="96.3" cy="426.8" r="4.9"/><circle cx="98.1" cy="437" r="4.9"/><circle cx="99.9" cy="445.6" r="4.9"/><circle cx="101.7" cy="456.4" r="4.9"/><circle cx="103.5" cy="464.9" r="4.9"/><circle cx="105.3" cy="462.6" r="4.9"/><circle cx="107.2" cy="461" r="4.9"/><circle cx="109" cy="480.3" r="4.9"/><circle cx="110.8" cy="464.1" r="4.9"/><circle cx="112.6" cy="443.1" r="4.9"/><circle cx="114.4" cy="474.9" r="4.9"/><circle cx="116.2" cy="478.4" r="4.9"/><circle cx="118.1" cy="448.1" r="4.9"/><circle cx="119.9" cy="470.3" r="4.9"/><circle cx="121.7" cy="451.8" r="4.9"/><circle cx="123.5" cy="426.8" r="4.9"/><circle cx="125.3" cy="453.3" r="4.9"/><circle cx="127.1" cy="456.7" r="4.9"/><circle cx="128.9" cy="423.8" r="4.9"/><circle cx="130.8" cy="435.9" r="4.9"/><circle cx="132.6" cy="463" r="4.9"/><circle cx="134.4" cy="472.6" r="4.9"/><circle cx="136.2" cy="464.1" r="4.9"/><circle cx="138" cy="452.4" r="4.9"/><circle cx="139.8" cy="469.6" r="4.9"/><circle cx="141.7" cy="462.6" r="4.9"/><circle cx="143.5" cy="467.2" r="4.9"/><circle cx="145.3" cy="469.5" r="4.9"/><circle cx="147.1" cy="473.3" r="4.9"/><circle cx="148.9" cy="491.1" r="4.9"/><circle cx="150.7" cy="458.1" r="4.9"/><circle cx="152.5" cy="418.6" r="4.9"/><circle cx="154.4" cy="413.7" r="4.9"/><circle cx="156.2" cy="459.2" r="4.9"/><circle cx="158" cy="475" r="4.9"/><circle cx="159.8" cy="453.8" r="4.9"/><circle cx="161.6" cy="458.3" r="4.9"/><circle cx="163.4" cy="442.6" r="4.9"/><circle cx="165.2" cy="411.4" r="4.9"/><circle cx="167.1" cy="451.9" r="4.9"/><circle cx="168.9" cy="481.4" r="4.9"/><circle cx="170.7" cy="525.8" r="4.9"/><circle cx="172.5" cy="503.7" r="4.9"/><circle cx="174.3" cy="514.4" r="4.9"/><circle cx="176.1" cy="502.8" r="4.9"/><circle cx="177.9" cy="487.8" r="4.9"/><circle cx="179.8" cy="442" r="4.9"/><circle cx="181.6" cy="441.4" r="4.9"/><circle cx="183.4" cy="435.9" r="4.9"/><circle cx="185.2" cy="436.9" r="4.9"/><circle cx="187" cy="464.3" r="4.9"/><circle cx="188.8" cy="439.9" r="4.9"/><circle cx="190.7" cy="421.5" r="4.9"/><circle cx="192.5" cy="466.6" r="4.9"/><circle cx="194.3" cy="444.3" r="4.9"/><circle cx="196.1" cy="424.4" r="4.9"/><circle cx="197.9" cy="485.6" r="4.9"/><circle cx="199.7" cy="453.6" r="4.9"/><circle cx="201.5" cy="484.6" r="4.9"/><circle cx="203.4" cy="468.4" r="4.9"/><circle cx="205.2" cy="415" r="4.9"/><circle cx="207" cy="464.3" r="4.9"/><circle cx="208.8" cy="453.2" r="4.9"/><circle cx="210.6" cy="433.3" r="4.9"/><circle cx="212.4" cy="506.5" r="4.9"/><circle cx="214.2" cy="481.8" r="4.9"/><circle cx="216.1" cy="468.4" r="4.9"/><circle cx="217.9" cy="427.3" r="4.9"/><circle cx="219.7" cy="462.8" r="4.9"/><circle cx="221.5" cy="466.1" r="4.9"/><circle cx="223.3" cy="429.9" r="4.9"/><circle cx="225.1" cy="428" r="4.9"/><circle cx="227" cy="467" r="4.9"/><circle cx="228.8" cy="490.6" r="4.9"/><circle cx="230.6" cy="489.4" r="4.9"/><circle cx="232.4" cy="503" r="4.9"/><circle cx="234.2" cy="458.6" r="4.9"/><circle cx="236" cy="534.3" r="4.9"/><circle cx="237.8" cy="511.2" r="4.9"/><circle cx="239.7" cy="478.2" r="4.9"/><circle cx="241.5" cy="528" r="4.9"/><circle cx="243.3" cy="539.1" r="4.9"/><circle cx="245.1" cy="532.2" r="4.9"/><circle cx="246.9" cy="489.2" r="4.9"/><circle cx="248.7" cy="547.3" r="4.9"/><circle cx="250.6" cy="542.8" r="4.9"/><circle cx="252.4" cy="549.7" r="4.9"/><circle cx="254.2" cy="536.9" r="4.9"/><circle cx="256" cy="489.9" r="4.9"/><circle cx="257.8" cy="498.2" r="4.9"/><circle cx="259.6" cy="420.8" r="4.9"/><circle cx="261.4" cy="427.7" r="4.9"/><circle cx="263.3" cy="441.6" r="4.9"/><circle cx="265.1" cy="470.7" r="4.9"/><circle cx="266.9" cy="441.9" r="4.9"/><circle cx="268.7" cy="463.3" r="4.9"/><circle cx="270.5" cy="467.3" r="4.9"/><circle cx="272.3" cy="463.9" r="4.9"/><circle cx="274.1" cy="472.2" r="4.9"/><circle cx="276" cy="469.1" r="4.9"/><circle cx="277.8" cy="421.5" r="4.9"/><circle cx="279.6" cy="451.3" r="4.9"/><circle cx="281.4" cy="457" r="4.9"/><circle cx="283.2" cy="436.4" r="4.9"/><circle cx="285" cy="424" r="4.9"/><circle cx="286.9" cy="477.2" r="4.9"/><circle cx="288.7" cy="416.2" r="4.9"/><circle cx="290.5" cy="492.1" r="4.9"/><circle cx="292.3" cy="463.2" r="4.9"/><circle cx="294.1" cy="438.9" r="4.9"/><circle cx="295.9" cy="477.1" r="4.9"/><circle cx="297.7" cy="472.8" r="4.9"/><circle cx="299.6" cy="475.4" r="4.9"/><circle cx="301.4" cy="479.1" r="4.9"/><circle cx="303.2" cy="481.3" r="4.9"/><circle cx="305" cy="487.4" r="4.9"/><circle cx="306.8" cy="531.7" r="4.9"/><circle cx="308.6" cy="506.3" r="4.9"/><circle cx="310.4" cy="499.9" r="4.9"/><circle cx="312.3" cy="506.3" r="4.9"/><circle cx="314.1" cy="525.6" r="4.9"/><circle cx="315.9" cy="470.5" r="4.9"/><circle cx="317.7" cy="475.8" r="4.9"/><circle cx="319.5" cy="510.7" r="4.9"/><circle cx="321.3" cy="473.5" r="4.9"/><circle cx="323.1" cy="506" r="4.9"/><circle cx="325" cy="575.6" r="4.9"/><circle cx="326.8" cy="622.9" r="4.9"/><circle cx="328.6" cy="562.3" r="4.9"/><circle cx="330.4" cy="562.1" r="4.9"/><circle cx="332.2" cy="520" r="4.9"/><circle cx="334" cy="464" r="4.9"/><circle cx="335.9" cy="453.5" r="4.9"/><circle cx="337.7" cy="481.2" r="4.9"/><circle cx="339.5" cy="482.5" r="4.9"/><circle cx="341.3" cy="469.2" r="4.9"/><circle cx="343.1" cy="463.5" r="4.9"/><circle cx="344.9" cy="428.9" r="4.9"/><circle cx="346.7" cy="425.3" r="4.9"/><circle cx="348.6" cy="442.4" r="4.9"/><circle cx="350.4" cy="530.9" r="4.9"/><circle cx="352.2" cy="562.4" r="4.9"/><circle cx="354" cy="495.8" r="4.9"/><circle cx="355.8" cy="524.8" r="4.9"/><circle cx="357.6" cy="515.6" r="4.9"/><circle cx="359.4" cy="486.2" r="4.9"/><circle cx="361.3" cy="425.8" r="4.9"/><circle cx="363.1" cy="462.7" r="4.9"/><circle cx="364.9" cy="478" r="4.9"/><circle cx="366.7" cy="532" r="4.9"/><circle cx="368.5" cy="566.6" r="4.9"/><circle cx="370.3" cy="632.9" r="4.9"/><circle cx="372.2" cy="616.5" r="4.9"/><circle cx="374" cy="637.1" r="4.9"/><circle cx="375.8" cy="610.9" r="4.9"/><circle cx="377.6" cy="561.7" r="4.9"/><circle cx="379.4" cy="526.5" r="4.9"/><circle cx="381.2" cy="457.9" r="4.9"/><circle cx="383" cy="492.2" r="4.9"/><circle cx="384.9" cy="486.1" r="4.9"/><circle cx="386.7" cy="456.9" r="4.9"/><circle cx="388.5" cy="469.2" r="4.9"/><circle cx="390.3" cy="501.8" r="4.9"/><circle cx="392.1" cy="545.1" r="4.9"/><circle cx="393.9" cy="684.6" r="4.9"/><circle cx="395.8" cy="558.5" r="4.9"/><circle cx="397.6" cy="509.6" r="4.9"/><circle cx="399.4" cy="383.6" r="4.9"/><circle cx="401.2" cy="323.8" r="4.9"/><circle cx="403" cy="427.1" r="4.9"/><circle cx="404.8" cy="517.6" r="4.9"/><circle cx="406.6" cy="559.2" r="4.9"/><circle cx="408.5" cy="624.2" r="4.9"/><circle cx="410.3" cy="718.5" r="4.9"/><circle cx="412.1" cy="621.4" r="4.9"/><circle cx="413.9" cy="563.6" r="4.9"/><circle cx="415.7" cy="593.8" r="4.9"/><circle cx="417.5" cy="508.8" r="4.9"/><circle cx="419.3" cy="527" r="4.9"/><circle cx="421.2" cy="528.5" r="4.9"/><circle cx="423" cy="552.7" r="4.9"/><circle cx="424.8" cy="557.1" r="4.9"/><circle cx="426.6" cy="551.7" r="4.9"/><circle cx="428.4" cy="520.9" r="4.9"/><circle cx="430.2" cy="522.3" r="4.9"/><circle cx="432" cy="547.6" r="4.9"/><circle cx="433.9" cy="549" r="4.9"/><circle cx="435.7" cy="536" r="4.9"/><circle cx="437.5" cy="558.8" r="4.9"/><circle cx="439.3" cy="547.7" r="4.9"/><circle cx="441.1" cy="532.1" r="4.9"/><circle cx="442.9" cy="532.4" r="4.9"/><circle cx="444.8" cy="535.3" r="4.9"/><circle cx="446.6" cy="528.4" r="4.9"/><circle cx="448.4" cy="516.4" r="4.9"/><circle cx="450.2" cy="537.4" r="4.9"/><circle cx="452" cy="492.2" r="4.9"/><circle cx="453.8" cy="495.3" r="4.9"/><circle cx="455.6" cy="517.2" r="4.9"/><circle cx="457.5" cy="522.8" r="4.9"/><circle cx="459.3" cy="520.2" r="4.9"/><circle cx="461.1" cy="565.4" r="4.9"/><circle cx="462.9" cy="553.7" r="4.9"/><circle cx="464.7" cy="554.1" r="4.9"/><circle cx="466.5" cy="576.8" r="4.9"/><circle cx="468.3" cy="593.8" r="4.9"/><circle cx="470.2" cy="558" r="4.9"/><circle cx="472" cy="513.4" r="4.9"/><circle cx="473.8" cy="479.1" r="4.9"/><circle cx="475.6" cy="500.4" r="4.9"/><circle cx="477.4" cy="522.6" r="4.9"/><circle cx="479.2" cy="480.5" r="4.9"/><circle cx="481.1" cy="488.4" r="4.9"/><circle cx="482.9" cy="498.9" r="4.9"/><circle cx="484.7" cy="499.7" r="4.9"/><circle cx="486.5" cy="540.7" r="4.9"/><circle cx="488.3" cy="491.9" r="4.9"/><circle cx="490.1" cy="512.1" r="4.9"/><circle cx="491.9" cy="526" r="4.9"/><circle cx="493.8" cy="531" r="4.9"/><circle cx="495.6" cy="527.7" r="4.9"/><circle cx="497.4" cy="535.3" r="4.9"/><circle cx="499.2" cy="603.2" r="4.9"/><circle cx="501" cy="612.9" r="4.9"/><circle cx="502.8" cy="594.9" r="4.9"/><circle cx="504.6" cy="586.2" r="4.9"/><circle cx="506.5" cy="564.9" r="4.9"/><circle cx="508.3" cy="573.5" r="4.9"/><circle cx="510.1" cy="544" r="4.9"/><circle cx="511.9" cy="526.7" r="4.9"/><circle cx="513.7" cy="539.8" r="4.9"/><circle cx="515.5" cy="538.1" r="4.9"/><circle cx="517.4" cy="519.7" r="4.9"/><circle cx="519.2" cy="538.2" r="4.9"/><circle cx="521" cy="530.5" r="4.9"/><circle cx="522.8" cy="527.2" r="4.9"/><circle cx="524.6" cy="534.5" r="4.9"/><circle cx="526.4" cy="529.3" r="4.9"/><circle cx="528.2" cy="536.1" r="4.9"/><circle cx="530.1" cy="515.3" r="4.9"/><circle cx="531.9" cy="516.5" r="4.9"/><circle cx="533.7" cy="505.8" r="4.9"/><circle cx="535.5" cy="501.7" r="4.9"/><circle cx="537.3" cy="435.9" r="4.9"/><circle cx="539.1" cy="391.6" r="4.9"/><circle cx="541" cy="401.2" r="4.9"/><circle cx="542.8" cy="463.2" r="4.9"/><circle cx="544.6" cy="466.5" r="4.9"/><circle cx="546.4" cy="539" r="4.9"/><circle cx="548.2" cy="505.4" r="4.9"/><circle cx="550" cy="571.5" r="4.9"/><circle cx="551.8" cy="573.2" r="4.9"/><circle cx="553.7" cy="509.2" r="4.9"/><circle cx="555.5" cy="427.1" r="4.9"/><circle cx="557.3" cy="473" r="4.9"/><circle cx="559.1" cy="477.1" r="4.9"/><circle cx="560.9" cy="479.8" r="4.9"/><circle cx="562.7" cy="488" r="4.9"/><circle cx="564.5" cy="509.3" r="4.9"/><circle cx="566.4" cy="568.9" r="4.9"/><circle cx="568.2" cy="518.7" r="4.9"/><circle cx="570" cy="483.8" r="4.9"/><circle cx="571.8" cy="416" r="4.9"/><circle cx="573.6" cy="459.1" r="4.9"/><circle cx="575.4" cy="427.4" r="4.9"/><circle cx="577.2" cy="440.5" r="4.9"/><circle cx="579.1" cy="453.4" r="4.9"/><circle cx="580.9" cy="508" r="4.9"/><circle cx="582.7" cy="601.7" r="4.9"/><circle cx="584.5" cy="626.9" r="4.9"/><circle cx="586.3" cy="618.3" r="4.9"/><circle cx="588.1" cy="617.4" r="4.9"/><circle cx="590" cy="616" r="4.9"/><circle cx="591.8" cy="643" r="4.9"/><circle cx="593.6" cy="539.8" r="4.9"/><circle cx="595.4" cy="526" r="4.9"/><circle cx="597.2" cy="529.4" r="4.9"/><circle cx="599" cy="546.6" r="4.9"/><circle cx="600.8" cy="528.3" r="4.9"/><circle cx="602.7" cy="558.6" r="4.9"/><circle cx="604.5" cy="545" r="4.9"/><circle cx="606.3" cy="512.9" r="4.9"/><circle cx="608.1" cy="502.3" r="4.9"/><circle cx="609.9" cy="557.8" r="4.9"/><circle cx="611.7" cy="593.1" r="4.9"/><circle cx="613.6" cy="540.2" r="4.9"/><circle cx="615.4" cy="524.2" r="4.9"/><circle cx="617.2" cy="475.3" r="4.9"/><circle cx="619" cy="528.5" r="4.9"/><circle cx="620.8" cy="506.5" r="4.9"/><circle cx="622.6" cy="548.5" r="4.9"/><circle cx="624.4" cy="586.3" r="4.9"/><circle cx="626.3" cy="649.4" r="4.9"/><circle cx="628.1" cy="549.2" r="4.9"/><circle cx="629.9" cy="627.7" r="4.9"/><circle cx="631.7" cy="635.8" r="4.9"/><circle cx="633.5" cy="549.8" r="4.9"/><circle cx="635.3" cy="531.4" r="4.9"/><circle cx="637.1" cy="510.8" r="4.9"/><circle cx="639" cy="624.5" r="4.9"/><circle cx="640.8" cy="509.1" r="4.9"/><circle cx="642.6" cy="457.1" r="4.9"/><circle cx="644.4" cy="511" r="4.9"/><circle cx="646.2" cy="526.3" r="4.9"/><circle cx="648" cy="575" r="4.9"/><circle cx="649.9" cy="582.8" r="4.9"/><circle cx="651.7" cy="585.9" r="4.9"/><circle cx="653.5" cy="581.8" r="4.9"/><circle cx="655.3" cy="550.1" r="4.9"/><circle cx="657.1" cy="602.1" r="4.9"/><circle cx="658.9" cy="538.3" r="4.9"/><circle cx="660.7" cy="549" r="4.9"/><circle cx="662.6" cy="554.6" r="4.9"/><circle cx="664.4" cy="506.8" r="4.9"/><circle cx="666.2" cy="463" r="4.9"/><circle cx="668" cy="434.6" r="4.9"/><circle cx="669.8" cy="432.7" r="4.9"/><circle cx="671.6" cy="448.2" r="4.9"/><circle cx="673.4" cy="380.1" r="4.9"/><circle cx="675.3" cy="409.6" r="4.9"/><circle cx="677.1" cy="408.4" r="4.9"/><circle cx="678.9" cy="432" r="4.9"/><circle cx="680.7" cy="462.4" r="4.9"/><circle cx="682.5" cy="489.8" r="4.9"/><circle cx="684.3" cy="487.1" r="4.9"/><circle cx="686.1" cy="498.5" r="4.9"/><circle cx="688" cy="499.2" r="4.9"/><circle cx="689.8" cy="443.9" r="4.9"/><circle cx="691.6" cy="380.1" r="4.9"/><circle cx="693.4" cy="575.1" r="4.9"/><circle cx="695.2" cy="529.8" r="4.9"/><circle cx="697" cy="518.4" r="4.9"/><circle cx="698.9" cy="588.2" r="4.9"/><circle cx="700.7" cy="598.2" r="4.9"/><circle cx="702.5" cy="514.4" r="4.9"/><circle cx="704.3" cy="444.4" r="4.9"/><circle cx="706.1" cy="489.7" r="4.9"/><circle cx="707.9" cy="423.5" r="4.9"/><circle cx="709.7" cy="441.1" r="4.9"/><circle cx="711.6" cy="412" r="4.9"/><circle cx="713.4" cy="451.8" r="4.9"/><circle cx="715.2" cy="603.2" r="4.9"/><circle cx="717" cy="601.2" r="4.9"/><circle cx="718.8" cy="637.8" r="4.9"/><circle cx="720.6" cy="695.4" r="4.9"/><circle cx="722.5" cy="724.2" r="4.9"/><circle cx="724.3" cy="482.2" r="4.9"/><circle cx="726.1" cy="360.2" r="4.9"/><circle cx="727.9" cy="414" r="4.9"/><circle cx="729.7" cy="454.4" r="4.9"/><circle cx="731.5" cy="479.8" r="4.9"/><circle cx="733.3" cy="448.2" r="4.9"/><circle cx="735.2" cy="423.8" r="4.9"/><circle cx="737" cy="440.1" r="4.9"/><circle cx="738.8" cy="457.7" r="4.9"/><circle cx="740.6" cy="488.9" r="4.9"/><circle cx="742.4" cy="598.2" r="4.9"/><circle cx="744.2" cy="527.9" r="4.9"/><circle cx="746" cy="557.1" r="4.9"/><circle cx="747.9" cy="484.1" r="4.9"/><circle cx="749.7" cy="497.8" r="4.9"/><circle cx="751.5" cy="485.4" r="4.9"/><circle cx="753.3" cy="548.9" r="4.9"/><circle cx="755.1" cy="434.2" r="4.9"/><circle cx="756.9" cy="470.5" r="4.9"/><circle cx="758.8" cy="426.1" r="4.9"/><circle cx="760.6" cy="408.8" r="4.9"/><circle cx="762.4" cy="459.5" r="4.9"/><circle cx="764.2" cy="494.6" r="4.9"/><circle cx="766" cy="486.2" r="4.9"/><circle cx="767.8" cy="456.4" r="4.9"/><circle cx="769.6" cy="463.7" r="4.9"/><circle cx="771.5" cy="469.7" r="4.9"/><circle cx="773.3" cy="467.7" r="4.9"/><circle cx="775.1" cy="444.2" r="4.9"/><circle cx="776.9" cy="441.8" r="4.9"/><circle cx="778.7" cy="414.2" r="4.9"/><circle cx="780.5" cy="417.4" r="4.9"/><circle cx="782.3" cy="476.9" r="4.9"/><circle cx="784.2" cy="494.9" r="4.9"/><circle cx="786" cy="502.7" r="4.9"/><circle cx="787.8" cy="517.3" r="4.9"/><circle cx="789.6" cy="494.5" r="4.9"/><circle cx="791.4" cy="523" r="4.9"/><circle cx="793.2" cy="529.3" r="4.9"/><circle cx="795.1" cy="524.9" r="4.9"/><circle cx="796.9" cy="446.6" r="4.9"/><circle cx="798.7" cy="478.9" r="4.9"/><circle cx="800.5" cy="478.2" r="4.9"/><circle cx="802.3" cy="434.1" r="4.9"/><circle cx="804.1" cy="439.9" r="4.9"/><circle cx="805.9" cy="429" r="4.9"/><circle cx="807.8" cy="416.6" r="4.9"/><circle cx="809.6" cy="459.1" r="4.9"/><circle cx="811.4" cy="481.2" r="4.9"/><circle cx="813.2" cy="491.8" r="4.9"/><circle cx="815" cy="476.6" r="4.9"/><circle cx="816.8" cy="513.5" r="4.9"/><circle cx="818.6" cy="495.5" r="4.9"/><circle cx="820.5" cy="482.2" r="4.9"/><circle cx="822.3" cy="465.9" r="4.9"/><circle cx="824.1" cy="500.8" r="4.9"/><circle cx="825.9" cy="425.9" r="4.9"/><circle cx="827.7" cy="438" r="4.9"/><circle cx="829.5" cy="463.6" r="4.9"/><circle cx="831.4" cy="485.8" r="4.9"/><circle cx="833.2" cy="474.7" r="4.9"/><circle cx="835" cy="479.9" r="4.9"/><circle cx="836.8" cy="461.6" r="4.9"/><circle cx="838.6" cy="478" r="4.9"/><circle cx="840.4" cy="480.5" r="4.9"/><circle cx="842.2" cy="546.8" r="4.9"/><circle cx="844.1" cy="515.9" r="4.9"/><circle cx="845.9" cy="539.6" r="4.9"/><circle cx="847.7" cy="481.8" r="4.9"/><circle cx="849.5" cy="563.9" r="4.9"/><circle cx="851.3" cy="530.1" r="4.9"/><circle cx="853.1" cy="572.8" r="4.9"/><circle cx="854.9" cy="591.5" r="4.9"/><circle cx="856.8" cy="591.3" r="4.9"/><circle cx="858.6" cy="522.8" r="4.9"/><circle cx="860.4" cy="472.3" r="4.9"/><circle cx="862.2" cy="408.6" r="4.9"/><circle cx="864" cy="464.6" r="4.9"/><circle cx="865.8" cy="495.5" r="4.9"/><circle cx="867.6" cy="506.3" r="4.9"/><circle cx="869.5" cy="521.6" r="4.9"/><circle cx="871.3" cy="563.1" r="4.9"/><circle cx="873.1" cy="523" r="4.9"/><circle cx="874.9" cy="515.8" r="4.9"/><circle cx="876.7" cy="465.2" r="4.9"/><circle cx="878.5" cy="371.9" r="4.9"/><circle cx="880.4" cy="439.4" r="4.9"/><circle cx="882.2" cy="487.4" r="4.9"/><circle cx="884" cy="515" r="4.9"/><circle cx="885.8" cy="618" r="4.9"/><circle cx="887.6" cy="594.5" r="4.9"/><circle cx="889.4" cy="585" r="4.9"/><circle cx="891.2" cy="574" r="4.9"/><circle cx="893.1" cy="543.7" r="4.9"/><circle cx="894.9" cy="465.1" r="4.9"/><circle cx="896.7" cy="438.1" r="4.9"/><circle cx="898.5" cy="456" r="4.9"/><circle cx="900.3" cy="430.8" r="4.9"/><circle cx="902.1" cy="420" r="4.9"/><circle cx="904" cy="423.3" r="4.9"/><circle cx="905.8" cy="442.1" r="4.9"/><circle cx="907.6" cy="471.4" r="4.9"/><circle cx="909.4" cy="609.5" r="4.9"/><circle cx="911.2" cy="510.6" r="4.9"/><circle cx="913" cy="589.6" r="4.9"/><circle cx="914.8" cy="549.6" r="4.9"/><circle cx="916.7" cy="537.6" r="4.9"/><circle cx="918.5" cy="609.5" r="4.9"/><circle cx="920.3" cy="572.1" r="4.9"/><circle cx="922.1" cy="613.2" r="4.9"/><circle cx="923.9" cy="576.8" r="4.9"/><circle cx="925.7" cy="543.1" r="4.9"/><circle cx="927.5" cy="499.6" r="4.9"/><circle cx="929.4" cy="379.4" r="4.9"/><circle cx="931.2" cy="479.6" r="4.9"/><circle cx="933" cy="437.2" r="4.9"/><circle cx="934.8" cy="404.2" r="4.9"/><circle cx="936.6" cy="387.6" r="4.9"/><circle cx="938.4" cy="453.8" r="4.9"/><circle cx="940.2" cy="492.8" r="4.9"/><circle cx="942.1" cy="539.2" r="4.9"/><circle cx="943.9" cy="664.6" r="4.9"/><circle cx="945.7" cy="533.6" r="4.9"/><circle cx="947.5" cy="522.7" r="4.9"/><circle cx="949.3" cy="497.9" r="4.9"/><circle cx="951.1" cy="489.3" r="4.9"/><circle cx="953" cy="479.1" r="4.9"/><circle cx="954.8" cy="476.9" r="4.9"/><circle cx="956.6" cy="526.2" r="4.9"/><circle cx="958.4" cy="537.8" r="4.9"/><circle cx="960.2" cy="503.6" r="4.9"/><circle cx="962" cy="619.8" r="4.9"/><circle cx="963.8" cy="545.8" r="4.9"/><circle cx="965.7" cy="556" r="4.9"/><circle cx="967.5" cy="512" r="4.9"/><circle cx="969.3" cy="456.8" r="4.9"/><circle cx="971.1" cy="496.7" r="4.9"/><circle cx="972.9" cy="454.7" r="4.9"/><circle cx="974.7" cy="422.5" r="4.9"/><circle cx="976.6" cy="490.4" r="4.9"/><circle cx="978.4" cy="564.3" r="4.9"/></g>
</g>
<g clip-path="url(#mcA)">
<polyline points="89,455.2 90.8,462.6 92.6,451.8 94.5,428.2 96.3,431.7 98.1,437.9 99.9,442.7 101.7,457.2 103.5,461.5 105.3,465.6 107.2,470.7 109,467.8 110.8,464.1 112.6,444.1 114.4,481.4 116.2,476.9 118.1,455.2 119.9,461.5 121.7,449.4 123.5,427.2 125.3,460.1 127.1,445.6 128.9,429.7 130.8,429.7 132.6,457.9 134.4,475.5 136.2,465.6 138,455.8 139.8,458.1 141.7,460.1 143.5,468.7 145.3,474.9 147.1,483.2 148.9,480.3 150.7,456.4 152.5,416.1 154.4,421.8 156.2,453.3 158,461 159.8,448.7 161.6,454.9 163.4,452.6 165.2,421.2 167.1,445.7 168.9,469.8 170.7,513.4 172.5,513.7 174.3,501.4 176.1,493.3 177.9,496.6 179.8,439.4 181.6,431.1 183.4,448.3 185.2,436.9 187,459.1 188.8,436 190.7,431.8 192.5,467.8 194.3,447.9 196.1,430.7 197.9,494.6 199.7,437.2 201.5,482 203.4,467.5 205.2,416.9 207,472.2 208.8,463.3 210.6,428.1 212.4,498.1 214.2,484.2 216.1,463.2 217.9,439.9 219.7,466.8 221.5,468.5 223.3,440.3 225.1,423.2 227,467.2 228.8,491 230.6,495.7 232.4,513.4 234.2,462.9 236,542 237.8,510.6 239.7,480.4 241.5,523.9 243.3,550 245.1,526 246.9,486.3 248.7,545.9 250.6,542.1 252.4,548.9 254.2,528.6 256,480.5 257.8,488.3 259.6,434.5 261.4,439.4 263.3,433.6 265.1,464.2 266.9,449.8 268.7,460 270.5,459.9 272.3,475.9 274.1,465.9 276,465.7 277.8,425.2 279.6,445.9 281.4,458.2 283.2,438.8 285,430.4 286.9,470.7 288.7,425.6 290.5,498 292.3,481.7 294.1,442.7 295.9,474.5 297.7,469.4 299.6,465.7 301.4,478.7 303.2,480.5 305,494.2 306.8,531.6 308.6,497.1 310.4,508.2 312.3,503.8 314.1,530 315.9,487.9 317.7,493 319.5,507.2 321.3,471.6 323.1,517 325,576.2 326.8,606 328.6,562.9 330.4,535 332.2,516.7 334,448.9 335.9,448.5 337.7,479.2 339.5,488.7 341.3,487.4 343.1,477.3 344.9,441.1 346.7,422.7 348.6,456.3 350.4,535.3 352.2,553.2 354,489.7 355.8,527.9 357.6,504.3 359.4,493.6 361.3,448.5 363.1,470.3 364.9,481.6 366.7,532.3 368.5,548.9 370.3,580.6 372.2,615.2 374,617.4 375.8,592 377.6,572.3 379.4,530.1 381.2,472.2 383,487.2 384.9,492.2 386.7,468.5 388.5,479.1 390.3,492 392.1,539.1 393.9,669.2 395.8,543.9 397.6,509.2 399.4,373.6 401.2,329.9 403,418.5 404.8,513.8 406.6,561.4 408.5,593.9 410.3,695.4 412.1,613.7 413.9,562.7 415.7,582 417.5,509.5 419.3,538.3 421.2,538.6 423,554.8 424.8,554.7 426.6,551.4 428.4,528.2 430.2,519 432,541.8 433.9,547.5 435.7,539.1 437.5,552 439.3,549.4 441.1,534.6 442.9,532.9 444.8,533.3 446.6,534.4 448.4,519 450.2,532.5 452,503 453.8,500.3 455.6,520.9 457.5,521.8 459.3,518.2 461.1,549.7 462.9,548.2 464.7,550.7 466.5,573.4 468.3,585.3 470.2,542 472,506.4 473.8,475.7 475.6,509.7 477.4,517 479.2,484.5 481.1,494.9 482.9,505.9 484.7,500.5 486.5,529 488.3,498.6 490.1,514.7 491.9,531.3 493.8,526.2 495.6,522.8 497.4,540.5 499.2,595.2 501,585.9 502.8,581.9 504.6,588.7 506.5,553.9 508.3,570.3 510.1,546.6 511.9,525.7 513.7,545.3 515.5,541.6 517.4,528.2 519.2,538.1 521,529.7 522.8,525.5 524.6,520.4 526.4,533.3 528.2,526.9 530.1,517.5 531.9,522.3 533.7,515.7 535.5,509.7 537.3,438.2 539.1,414.8 541,415.6 542.8,465.3 544.6,483.7 546.4,533.3 548.2,504.1 550,585.9 551.8,570.7 553.7,503.4 555.5,482.5 557.3,459.6 559.1,474.7 560.9,475.5 562.7,496.8 564.5,503.3 566.4,546.3 568.2,533.3 570,488.7 571.8,425.2 573.6,427.1 575.4,404.7 577.2,442.1 579.1,444 580.9,510.4 582.7,581.4 584.5,610.1 586.3,592.2 588.1,599.8 590,606.7 591.8,563.6 593.6,551.5 595.4,539.8 597.2,602.9 599,550.1 600.8,534.2 602.7,550.4 604.5,560.3 606.3,511.4 608.1,511.1 609.9,579.8 611.7,604.4 613.6,527.3 615.4,540.8 617.2,476 619,532.6 620.8,508.7 622.6,537.6 624.4,589.9 626.3,640.2 628.1,553.5 629.9,620.4 631.7,621.4 633.5,534.3 635.3,520.2 637.1,506.4 639,498.4 640.8,518.1 642.6,462.3 644.4,503.9 646.2,531.1 648,583.1 649.9,619.8 651.7,592.3 653.5,582.3 655.3,539.2 657.1,596.7 658.9,533.7 660.7,552.7 662.6,555.9 664.4,517.3 666.2,471.7 668,424 669.8,426 671.6,453 673.4,396.7 675.3,431.7 677.1,422.3 678.9,439.6 680.7,451.2 682.5,491.6 684.3,472.7 686.1,498.9 688,508.7 689.8,437.7 691.6,388.5 693.4,436.4 695.2,518 697,505.8 698.9,564.8 700.7,607.5 702.5,520.2 704.3,440.2 706.1,493.2 707.9,428.5 709.7,405.5 711.6,428.2 713.4,445.3 715.2,593.9 717,603.6 718.8,623.2 720.6,681.5 722.5,695.4 724.3,493.1 726.1,382.4 727.9,416 729.7,441.9 731.5,486.4 733.3,461.3 735.2,429.3 737,468.1 738.8,468 740.6,503.2 742.4,585.3 744.2,534.9 746,541.6 747.9,481.2 749.7,495.7 751.5,480.8 753.3,458.1 755.1,395.2 756.9,471.4 758.8,439.2 760.6,417.2 762.4,464.4 764.2,500.7 766,483.8 767.8,455.6 769.6,464.2 771.5,465.6 773.3,462.4 775.1,453.5 776.9,444 778.7,437.6 780.5,438.9 782.3,474.2 784.2,501.5 786,485.8 787.8,509.3 789.6,482.5 791.4,526.4 793.2,506.2 795.1,527.1 796.9,446.2 798.7,473.4 800.5,481.2 802.3,446.1 804.1,460.2 805.9,422.8 807.8,435.8 809.6,443.4 811.4,473.1 813.2,486.3 815,529.8 816.8,516.4 818.6,498.6 820.5,495.7 822.3,468.7 824.1,501.5 825.9,442.4 827.7,438.4 829.5,456.2 831.4,473.3 833.2,477.6 835,498.7 836.8,469.8 838.6,478.4 840.4,491.9 842.2,536 844.1,522.1 845.9,532.1 847.7,491.7 849.5,554 851.3,534.4 853.1,568 854.9,583.7 856.8,579.7 858.6,515.2 860.4,488 862.2,414.8 864,445.8 865.8,515.8 867.6,522.4 869.5,524.6 871.3,577.6 873.1,529.6 874.9,510.5 876.7,450.5 878.5,399.3 880.4,439.4 882.2,491.1 884,494.2 885.8,600.2 887.6,581.3 889.4,568.1 891.2,560.8 893.1,529.8 894.9,482.4 896.7,448.1 898.5,474.7 900.3,455.9 902.1,436.1 904,446.7 905.8,450.2 907.6,485.3 909.4,509.9 911.2,604.4 913,573.9 914.8,543.8 916.7,527.1 918.5,559.8 920.3,604.4 922.1,619.9 923.9,580.4 925.7,538.9 927.5,506 929.4,469.2 931.2,473.8 933,452.9 934.8,401.8 936.6,409.2 938.4,463.2 940.2,496.5 942.1,514.1 943.9,617.8 945.7,527.3 947.5,523.1 949.3,502.5 951.1,468.4 953,478.6 954.8,485 956.6,519.6 958.4,535.7 960.2,502.5 962,606 963.8,539.2 965.7,558.7 967.5,521.9 969.3,452.2 971.1,490.2 972.9,453.7 974.7,428.6 976.6,494.9 978.4,552" fill="none" stroke="#ff0000" stroke-width="4.3" stroke-linejoin="miter" stroke-miterlimit="8"/>
<g fill="#ff0000"><circle cx="89" cy="455.2" r="5.1"/><circle cx="90.8" cy="462.6" r="5.1"/><circle cx="92.6" cy="451.8" r="5.1"/><circle cx="94.5" cy="428.2" r="5.1"/><circle cx="96.3" cy="431.7" r="5.1"/><circle cx="98.1" cy="437.9" r="5.1"/><circle cx="99.9" cy="442.7" r="5.1"/><circle cx="101.7" cy="457.2" r="5.1"/><circle cx="103.5" cy="461.5" r="5.1"/><circle cx="105.3" cy="465.6" r="5.1"/><circle cx="107.2" cy="470.7" r="5.1"/><circle cx="109" cy="467.8" r="5.1"/><circle cx="110.8" cy="464.1" r="5.1"/><circle cx="112.6" cy="444.1" r="5.1"/><circle cx="114.4" cy="481.4" r="5.1"/><circle cx="116.2" cy="476.9" r="5.1"/><circle cx="118.1" cy="455.2" r="5.1"/><circle cx="119.9" cy="461.5" r="5.1"/><circle cx="121.7" cy="449.4" r="5.1"/><circle cx="123.5" cy="427.2" r="5.1"/><circle cx="125.3" cy="460.1" r="5.1"/><circle cx="127.1" cy="445.6" r="5.1"/><circle cx="128.9" cy="429.7" r="5.1"/><circle cx="130.8" cy="429.7" r="5.1"/><circle cx="132.6" cy="457.9" r="5.1"/><circle cx="134.4" cy="475.5" r="5.1"/><circle cx="136.2" cy="465.6" r="5.1"/><circle cx="138" cy="455.8" r="5.1"/><circle cx="139.8" cy="458.1" r="5.1"/><circle cx="141.7" cy="460.1" r="5.1"/><circle cx="143.5" cy="468.7" r="5.1"/><circle cx="145.3" cy="474.9" r="5.1"/><circle cx="147.1" cy="483.2" r="5.1"/><circle cx="148.9" cy="480.3" r="5.1"/><circle cx="150.7" cy="456.4" r="5.1"/><circle cx="152.5" cy="416.1" r="5.1"/><circle cx="154.4" cy="421.8" r="5.1"/><circle cx="156.2" cy="453.3" r="5.1"/><circle cx="158" cy="461" r="5.1"/><circle cx="159.8" cy="448.7" r="5.1"/><circle cx="161.6" cy="454.9" r="5.1"/><circle cx="163.4" cy="452.6" r="5.1"/><circle cx="165.2" cy="421.2" r="5.1"/><circle cx="167.1" cy="445.7" r="5.1"/><circle cx="168.9" cy="469.8" r="5.1"/><circle cx="170.7" cy="513.4" r="5.1"/><circle cx="172.5" cy="513.7" r="5.1"/><circle cx="174.3" cy="501.4" r="5.1"/><circle cx="176.1" cy="493.3" r="5.1"/><circle cx="177.9" cy="496.6" r="5.1"/><circle cx="179.8" cy="439.4" r="5.1"/><circle cx="181.6" cy="431.1" r="5.1"/><circle cx="183.4" cy="448.3" r="5.1"/><circle cx="185.2" cy="436.9" r="5.1"/><circle cx="187" cy="459.1" r="5.1"/><circle cx="188.8" cy="436" r="5.1"/><circle cx="190.7" cy="431.8" r="5.1"/><circle cx="192.5" cy="467.8" r="5.1"/><circle cx="194.3" cy="447.9" r="5.1"/><circle cx="196.1" cy="430.7" r="5.1"/><circle cx="197.9" cy="494.6" r="5.1"/><circle cx="199.7" cy="437.2" r="5.1"/><circle cx="201.5" cy="482" r="5.1"/><circle cx="203.4" cy="467.5" r="5.1"/><circle cx="205.2" cy="416.9" r="5.1"/><circle cx="207" cy="472.2" r="5.1"/><circle cx="208.8" cy="463.3" r="5.1"/><circle cx="210.6" cy="428.1" r="5.1"/><circle cx="212.4" cy="498.1" r="5.1"/><circle cx="214.2" cy="484.2" r="5.1"/><circle cx="216.1" cy="463.2" r="5.1"/><circle cx="217.9" cy="439.9" r="5.1"/><circle cx="219.7" cy="466.8" r="5.1"/><circle cx="221.5" cy="468.5" r="5.1"/><circle cx="223.3" cy="440.3" r="5.1"/><circle cx="225.1" cy="423.2" r="5.1"/><circle cx="227" cy="467.2" r="5.1"/><circle cx="228.8" cy="491" r="5.1"/><circle cx="230.6" cy="495.7" r="5.1"/><circle cx="232.4" cy="513.4" r="5.1"/><circle cx="234.2" cy="462.9" r="5.1"/><circle cx="236" cy="542" r="5.1"/><circle cx="237.8" cy="510.6" r="5.1"/><circle cx="239.7" cy="480.4" r="5.1"/><circle cx="241.5" cy="523.9" r="5.1"/><circle cx="243.3" cy="550" r="5.1"/><circle cx="245.1" cy="526" r="5.1"/><circle cx="246.9" cy="486.3" r="5.1"/><circle cx="248.7" cy="545.9" r="5.1"/><circle cx="250.6" cy="542.1" r="5.1"/><circle cx="252.4" cy="548.9" r="5.1"/><circle cx="254.2" cy="528.6" r="5.1"/><circle cx="256" cy="480.5" r="5.1"/><circle cx="257.8" cy="488.3" r="5.1"/><circle cx="259.6" cy="434.5" r="5.1"/><circle cx="261.4" cy="439.4" r="5.1"/><circle cx="263.3" cy="433.6" r="5.1"/><circle cx="265.1" cy="464.2" r="5.1"/><circle cx="266.9" cy="449.8" r="5.1"/><circle cx="268.7" cy="460" r="5.1"/><circle cx="270.5" cy="459.9" r="5.1"/><circle cx="272.3" cy="475.9" r="5.1"/><circle cx="274.1" cy="465.9" r="5.1"/><circle cx="276" cy="465.7" r="5.1"/><circle cx="277.8" cy="425.2" r="5.1"/><circle cx="279.6" cy="445.9" r="5.1"/><circle cx="281.4" cy="458.2" r="5.1"/><circle cx="283.2" cy="438.8" r="5.1"/><circle cx="285" cy="430.4" r="5.1"/><circle cx="286.9" cy="470.7" r="5.1"/><circle cx="288.7" cy="425.6" r="5.1"/><circle cx="290.5" cy="498" r="5.1"/><circle cx="292.3" cy="481.7" r="5.1"/><circle cx="294.1" cy="442.7" r="5.1"/><circle cx="295.9" cy="474.5" r="5.1"/><circle cx="297.7" cy="469.4" r="5.1"/><circle cx="299.6" cy="465.7" r="5.1"/><circle cx="301.4" cy="478.7" r="5.1"/><circle cx="303.2" cy="480.5" r="5.1"/><circle cx="305" cy="494.2" r="5.1"/><circle cx="306.8" cy="531.6" r="5.1"/><circle cx="308.6" cy="497.1" r="5.1"/><circle cx="310.4" cy="508.2" r="5.1"/><circle cx="312.3" cy="503.8" r="5.1"/><circle cx="314.1" cy="530" r="5.1"/><circle cx="315.9" cy="487.9" r="5.1"/><circle cx="317.7" cy="493" r="5.1"/><circle cx="319.5" cy="507.2" r="5.1"/><circle cx="321.3" cy="471.6" r="5.1"/><circle cx="323.1" cy="517" r="5.1"/><circle cx="325" cy="576.2" r="5.1"/><circle cx="326.8" cy="606" r="5.1"/><circle cx="328.6" cy="562.9" r="5.1"/><circle cx="330.4" cy="535" r="5.1"/><circle cx="332.2" cy="516.7" r="5.1"/><circle cx="334" cy="448.9" r="5.1"/><circle cx="335.9" cy="448.5" r="5.1"/><circle cx="337.7" cy="479.2" r="5.1"/><circle cx="339.5" cy="488.7" r="5.1"/><circle cx="341.3" cy="487.4" r="5.1"/><circle cx="343.1" cy="477.3" r="5.1"/><circle cx="344.9" cy="441.1" r="5.1"/><circle cx="346.7" cy="422.7" r="5.1"/><circle cx="348.6" cy="456.3" r="5.1"/><circle cx="350.4" cy="535.3" r="5.1"/><circle cx="352.2" cy="553.2" r="5.1"/><circle cx="354" cy="489.7" r="5.1"/><circle cx="355.8" cy="527.9" r="5.1"/><circle cx="357.6" cy="504.3" r="5.1"/><circle cx="359.4" cy="493.6" r="5.1"/><circle cx="361.3" cy="448.5" r="5.1"/><circle cx="363.1" cy="470.3" r="5.1"/><circle cx="364.9" cy="481.6" r="5.1"/><circle cx="366.7" cy="532.3" r="5.1"/><circle cx="368.5" cy="548.9" r="5.1"/><circle cx="370.3" cy="580.6" r="5.1"/><circle cx="372.2" cy="615.2" r="5.1"/><circle cx="374" cy="617.4" r="5.1"/><circle cx="375.8" cy="592" r="5.1"/><circle cx="377.6" cy="572.3" r="5.1"/><circle cx="379.4" cy="530.1" r="5.1"/><circle cx="381.2" cy="472.2" r="5.1"/><circle cx="383" cy="487.2" r="5.1"/><circle cx="384.9" cy="492.2" r="5.1"/><circle cx="386.7" cy="468.5" r="5.1"/><circle cx="388.5" cy="479.1" r="5.1"/><circle cx="390.3" cy="492" r="5.1"/><circle cx="392.1" cy="539.1" r="5.1"/><circle cx="393.9" cy="669.2" r="5.1"/><circle cx="395.8" cy="543.9" r="5.1"/><circle cx="397.6" cy="509.2" r="5.1"/><circle cx="399.4" cy="373.6" r="5.1"/><circle cx="401.2" cy="329.9" r="5.1"/><circle cx="403" cy="418.5" r="5.1"/><circle cx="404.8" cy="513.8" r="5.1"/><circle cx="406.6" cy="561.4" r="5.1"/><circle cx="408.5" cy="593.9" r="5.1"/><circle cx="410.3" cy="695.4" r="5.1"/><circle cx="412.1" cy="613.7" r="5.1"/><circle cx="413.9" cy="562.7" r="5.1"/><circle cx="415.7" cy="582" r="5.1"/><circle cx="417.5" cy="509.5" r="5.1"/><circle cx="419.3" cy="538.3" r="5.1"/><circle cx="421.2" cy="538.6" r="5.1"/><circle cx="423" cy="554.8" r="5.1"/><circle cx="424.8" cy="554.7" r="5.1"/><circle cx="426.6" cy="551.4" r="5.1"/><circle cx="428.4" cy="528.2" r="5.1"/><circle cx="430.2" cy="519" r="5.1"/><circle cx="432" cy="541.8" r="5.1"/><circle cx="433.9" cy="547.5" r="5.1"/><circle cx="435.7" cy="539.1" r="5.1"/><circle cx="437.5" cy="552" r="5.1"/><circle cx="439.3" cy="549.4" r="5.1"/><circle cx="441.1" cy="534.6" r="5.1"/><circle cx="442.9" cy="532.9" r="5.1"/><circle cx="444.8" cy="533.3" r="5.1"/><circle cx="446.6" cy="534.4" r="5.1"/><circle cx="448.4" cy="519" r="5.1"/><circle cx="450.2" cy="532.5" r="5.1"/><circle cx="452" cy="503" r="5.1"/><circle cx="453.8" cy="500.3" r="5.1"/><circle cx="455.6" cy="520.9" r="5.1"/><circle cx="457.5" cy="521.8" r="5.1"/><circle cx="459.3" cy="518.2" r="5.1"/><circle cx="461.1" cy="549.7" r="5.1"/><circle cx="462.9" cy="548.2" r="5.1"/><circle cx="464.7" cy="550.7" r="5.1"/><circle cx="466.5" cy="573.4" r="5.1"/><circle cx="468.3" cy="585.3" r="5.1"/><circle cx="470.2" cy="542" r="5.1"/><circle cx="472" cy="506.4" r="5.1"/><circle cx="473.8" cy="475.7" r="5.1"/><circle cx="475.6" cy="509.7" r="5.1"/><circle cx="477.4" cy="517" r="5.1"/><circle cx="479.2" cy="484.5" r="5.1"/><circle cx="481.1" cy="494.9" r="5.1"/><circle cx="482.9" cy="505.9" r="5.1"/><circle cx="484.7" cy="500.5" r="5.1"/><circle cx="486.5" cy="529" r="5.1"/><circle cx="488.3" cy="498.6" r="5.1"/><circle cx="490.1" cy="514.7" r="5.1"/><circle cx="491.9" cy="531.3" r="5.1"/><circle cx="493.8" cy="526.2" r="5.1"/><circle cx="495.6" cy="522.8" r="5.1"/><circle cx="497.4" cy="540.5" r="5.1"/><circle cx="499.2" cy="595.2" r="5.1"/><circle cx="501" cy="585.9" r="5.1"/><circle cx="502.8" cy="581.9" r="5.1"/><circle cx="504.6" cy="588.7" r="5.1"/><circle cx="506.5" cy="553.9" r="5.1"/><circle cx="508.3" cy="570.3" r="5.1"/><circle cx="510.1" cy="546.6" r="5.1"/><circle cx="511.9" cy="525.7" r="5.1"/><circle cx="513.7" cy="545.3" r="5.1"/><circle cx="515.5" cy="541.6" r="5.1"/><circle cx="517.4" cy="528.2" r="5.1"/><circle cx="519.2" cy="538.1" r="5.1"/><circle cx="521" cy="529.7" r="5.1"/><circle cx="522.8" cy="525.5" r="5.1"/><circle cx="524.6" cy="520.4" r="5.1"/><circle cx="526.4" cy="533.3" r="5.1"/><circle cx="528.2" cy="526.9" r="5.1"/><circle cx="530.1" cy="517.5" r="5.1"/><circle cx="531.9" cy="522.3" r="5.1"/><circle cx="533.7" cy="515.7" r="5.1"/><circle cx="535.5" cy="509.7" r="5.1"/><circle cx="537.3" cy="438.2" r="5.1"/><circle cx="539.1" cy="414.8" r="5.1"/><circle cx="541" cy="415.6" r="5.1"/><circle cx="542.8" cy="465.3" r="5.1"/><circle cx="544.6" cy="483.7" r="5.1"/><circle cx="546.4" cy="533.3" r="5.1"/><circle cx="548.2" cy="504.1" r="5.1"/><circle cx="550" cy="585.9" r="5.1"/><circle cx="551.8" cy="570.7" r="5.1"/><circle cx="553.7" cy="503.4" r="5.1"/><circle cx="555.5" cy="482.5" r="5.1"/><circle cx="557.3" cy="459.6" r="5.1"/><circle cx="559.1" cy="474.7" r="5.1"/><circle cx="560.9" cy="475.5" r="5.1"/><circle cx="562.7" cy="496.8" r="5.1"/><circle cx="564.5" cy="503.3" r="5.1"/><circle cx="566.4" cy="546.3" r="5.1"/><circle cx="568.2" cy="533.3" r="5.1"/><circle cx="570" cy="488.7" r="5.1"/><circle cx="571.8" cy="425.2" r="5.1"/><circle cx="573.6" cy="427.1" r="5.1"/><circle cx="575.4" cy="404.7" r="5.1"/><circle cx="577.2" cy="442.1" r="5.1"/><circle cx="579.1" cy="444" r="5.1"/><circle cx="580.9" cy="510.4" r="5.1"/><circle cx="582.7" cy="581.4" r="5.1"/><circle cx="584.5" cy="610.1" r="5.1"/><circle cx="586.3" cy="592.2" r="5.1"/><circle cx="588.1" cy="599.8" r="5.1"/><circle cx="590" cy="606.7" r="5.1"/><circle cx="591.8" cy="563.6" r="5.1"/><circle cx="593.6" cy="551.5" r="5.1"/><circle cx="595.4" cy="539.8" r="5.1"/><circle cx="597.2" cy="602.9" r="5.1"/><circle cx="599" cy="550.1" r="5.1"/><circle cx="600.8" cy="534.2" r="5.1"/><circle cx="602.7" cy="550.4" r="5.1"/><circle cx="604.5" cy="560.3" r="5.1"/><circle cx="606.3" cy="511.4" r="5.1"/><circle cx="608.1" cy="511.1" r="5.1"/><circle cx="609.9" cy="579.8" r="5.1"/><circle cx="611.7" cy="604.4" r="5.1"/><circle cx="613.6" cy="527.3" r="5.1"/><circle cx="615.4" cy="540.8" r="5.1"/><circle cx="617.2" cy="476" r="5.1"/><circle cx="619" cy="532.6" r="5.1"/><circle cx="620.8" cy="508.7" r="5.1"/><circle cx="622.6" cy="537.6" r="5.1"/><circle cx="624.4" cy="589.9" r="5.1"/><circle cx="626.3" cy="640.2" r="5.1"/><circle cx="628.1" cy="553.5" r="5.1"/><circle cx="629.9" cy="620.4" r="5.1"/><circle cx="631.7" cy="621.4" r="5.1"/><circle cx="633.5" cy="534.3" r="5.1"/><circle cx="635.3" cy="520.2" r="5.1"/><circle cx="637.1" cy="506.4" r="5.1"/><circle cx="639" cy="498.4" r="5.1"/><circle cx="640.8" cy="518.1" r="5.1"/><circle cx="642.6" cy="462.3" r="5.1"/><circle cx="644.4" cy="503.9" r="5.1"/><circle cx="646.2" cy="531.1" r="5.1"/><circle cx="648" cy="583.1" r="5.1"/><circle cx="649.9" cy="619.8" r="5.1"/><circle cx="651.7" cy="592.3" r="5.1"/><circle cx="653.5" cy="582.3" r="5.1"/><circle cx="655.3" cy="539.2" r="5.1"/><circle cx="657.1" cy="596.7" r="5.1"/><circle cx="658.9" cy="533.7" r="5.1"/><circle cx="660.7" cy="552.7" r="5.1"/><circle cx="662.6" cy="555.9" r="5.1"/><circle cx="664.4" cy="517.3" r="5.1"/><circle cx="666.2" cy="471.7" r="5.1"/><circle cx="668" cy="424" r="5.1"/><circle cx="669.8" cy="426" r="5.1"/><circle cx="671.6" cy="453" r="5.1"/><circle cx="673.4" cy="396.7" r="5.1"/><circle cx="675.3" cy="431.7" r="5.1"/><circle cx="677.1" cy="422.3" r="5.1"/><circle cx="678.9" cy="439.6" r="5.1"/><circle cx="680.7" cy="451.2" r="5.1"/><circle cx="682.5" cy="491.6" r="5.1"/><circle cx="684.3" cy="472.7" r="5.1"/><circle cx="686.1" cy="498.9" r="5.1"/><circle cx="688" cy="508.7" r="5.1"/><circle cx="689.8" cy="437.7" r="5.1"/><circle cx="691.6" cy="388.5" r="5.1"/><circle cx="693.4" cy="436.4" r="5.1"/><circle cx="695.2" cy="518" r="5.1"/><circle cx="697" cy="505.8" r="5.1"/><circle cx="698.9" cy="564.8" r="5.1"/><circle cx="700.7" cy="607.5" r="5.1"/><circle cx="702.5" cy="520.2" r="5.1"/><circle cx="704.3" cy="440.2" r="5.1"/><circle cx="706.1" cy="493.2" r="5.1"/><circle cx="707.9" cy="428.5" r="5.1"/><circle cx="709.7" cy="405.5" r="5.1"/><circle cx="711.6" cy="428.2" r="5.1"/><circle cx="713.4" cy="445.3" r="5.1"/><circle cx="715.2" cy="593.9" r="5.1"/><circle cx="717" cy="603.6" r="5.1"/><circle cx="718.8" cy="623.2" r="5.1"/><circle cx="720.6" cy="681.5" r="5.1"/><circle cx="722.5" cy="695.4" r="5.1"/><circle cx="724.3" cy="493.1" r="5.1"/><circle cx="726.1" cy="382.4" r="5.1"/><circle cx="727.9" cy="416" r="5.1"/><circle cx="729.7" cy="441.9" r="5.1"/><circle cx="731.5" cy="486.4" r="5.1"/><circle cx="733.3" cy="461.3" r="5.1"/><circle cx="735.2" cy="429.3" r="5.1"/><circle cx="737" cy="468.1" r="5.1"/><circle cx="738.8" cy="468" r="5.1"/><circle cx="740.6" cy="503.2" r="5.1"/><circle cx="742.4" cy="585.3" r="5.1"/><circle cx="744.2" cy="534.9" r="5.1"/><circle cx="746" cy="541.6" r="5.1"/><circle cx="747.9" cy="481.2" r="5.1"/><circle cx="749.7" cy="495.7" r="5.1"/><circle cx="751.5" cy="480.8" r="5.1"/><circle cx="753.3" cy="458.1" r="5.1"/><circle cx="755.1" cy="395.2" r="5.1"/><circle cx="756.9" cy="471.4" r="5.1"/><circle cx="758.8" cy="439.2" r="5.1"/><circle cx="760.6" cy="417.2" r="5.1"/><circle cx="762.4" cy="464.4" r="5.1"/><circle cx="764.2" cy="500.7" r="5.1"/><circle cx="766" cy="483.8" r="5.1"/><circle cx="767.8" cy="455.6" r="5.1"/><circle cx="769.6" cy="464.2" r="5.1"/><circle cx="771.5" cy="465.6" r="5.1"/><circle cx="773.3" cy="462.4" r="5.1"/><circle cx="775.1" cy="453.5" r="5.1"/><circle cx="776.9" cy="444" r="5.1"/><circle cx="778.7" cy="437.6" r="5.1"/><circle cx="780.5" cy="438.9" r="5.1"/><circle cx="782.3" cy="474.2" r="5.1"/><circle cx="784.2" cy="501.5" r="5.1"/><circle cx="786" cy="485.8" r="5.1"/><circle cx="787.8" cy="509.3" r="5.1"/><circle cx="789.6" cy="482.5" r="5.1"/><circle cx="791.4" cy="526.4" r="5.1"/><circle cx="793.2" cy="506.2" r="5.1"/><circle cx="795.1" cy="527.1" r="5.1"/><circle cx="796.9" cy="446.2" r="5.1"/><circle cx="798.7" cy="473.4" r="5.1"/><circle cx="800.5" cy="481.2" r="5.1"/><circle cx="802.3" cy="446.1" r="5.1"/><circle cx="804.1" cy="460.2" r="5.1"/><circle cx="805.9" cy="422.8" r="5.1"/><circle cx="807.8" cy="435.8" r="5.1"/><circle cx="809.6" cy="443.4" r="5.1"/><circle cx="811.4" cy="473.1" r="5.1"/><circle cx="813.2" cy="486.3" r="5.1"/><circle cx="815" cy="529.8" r="5.1"/><circle cx="816.8" cy="516.4" r="5.1"/><circle cx="818.6" cy="498.6" r="5.1"/><circle cx="820.5" cy="495.7" r="5.1"/><circle cx="822.3" cy="468.7" r="5.1"/><circle cx="824.1" cy="501.5" r="5.1"/><circle cx="825.9" cy="442.4" r="5.1"/><circle cx="827.7" cy="438.4" r="5.1"/><circle cx="829.5" cy="456.2" r="5.1"/><circle cx="831.4" cy="473.3" r="5.1"/><circle cx="833.2" cy="477.6" r="5.1"/><circle cx="835" cy="498.7" r="5.1"/><circle cx="836.8" cy="469.8" r="5.1"/><circle cx="838.6" cy="478.4" r="5.1"/><circle cx="840.4" cy="491.9" r="5.1"/><circle cx="842.2" cy="536" r="5.1"/><circle cx="844.1" cy="522.1" r="5.1"/><circle cx="845.9" cy="532.1" r="5.1"/><circle cx="847.7" cy="491.7" r="5.1"/><circle cx="849.5" cy="554" r="5.1"/><circle cx="851.3" cy="534.4" r="5.1"/><circle cx="853.1" cy="568" r="5.1"/><circle cx="854.9" cy="583.7" r="5.1"/><circle cx="856.8" cy="579.7" r="5.1"/><circle cx="858.6" cy="515.2" r="5.1"/><circle cx="860.4" cy="488" r="5.1"/><circle cx="862.2" cy="414.8" r="5.1"/><circle cx="864" cy="445.8" r="5.1"/><circle cx="865.8" cy="515.8" r="5.1"/><circle cx="867.6" cy="522.4" r="5.1"/><circle cx="869.5" cy="524.6" r="5.1"/><circle cx="871.3" cy="577.6" r="5.1"/><circle cx="873.1" cy="529.6" r="5.1"/><circle cx="874.9" cy="510.5" r="5.1"/><circle cx="876.7" cy="450.5" r="5.1"/><circle cx="878.5" cy="399.3" r="5.1"/><circle cx="880.4" cy="439.4" r="5.1"/><circle cx="882.2" cy="491.1" r="5.1"/><circle cx="884" cy="494.2" r="5.1"/><circle cx="885.8" cy="600.2" r="5.1"/><circle cx="887.6" cy="581.3" r="5.1"/><circle cx="889.4" cy="568.1" r="5.1"/><circle cx="891.2" cy="560.8" r="5.1"/><circle cx="893.1" cy="529.8" r="5.1"/><circle cx="894.9" cy="482.4" r="5.1"/><circle cx="896.7" cy="448.1" r="5.1"/><circle cx="898.5" cy="474.7" r="5.1"/><circle cx="900.3" cy="455.9" r="5.1"/><circle cx="902.1" cy="436.1" r="5.1"/><circle cx="904" cy="446.7" r="5.1"/><circle cx="905.8" cy="450.2" r="5.1"/><circle cx="907.6" cy="485.3" r="5.1"/><circle cx="909.4" cy="509.9" r="5.1"/><circle cx="911.2" cy="604.4" r="5.1"/><circle cx="913" cy="573.9" r="5.1"/><circle cx="914.8" cy="543.8" r="5.1"/><circle cx="916.7" cy="527.1" r="5.1"/><circle cx="918.5" cy="559.8" r="5.1"/><circle cx="920.3" cy="604.4" r="5.1"/><circle cx="922.1" cy="619.9" r="5.1"/><circle cx="923.9" cy="580.4" r="5.1"/><circle cx="925.7" cy="538.9" r="5.1"/><circle cx="927.5" cy="506" r="5.1"/><circle cx="929.4" cy="469.2" r="5.1"/><circle cx="931.2" cy="473.8" r="5.1"/><circle cx="933" cy="452.9" r="5.1"/><circle cx="934.8" cy="401.8" r="5.1"/><circle cx="936.6" cy="409.2" r="5.1"/><circle cx="938.4" cy="463.2" r="5.1"/><circle cx="940.2" cy="496.5" r="5.1"/><circle cx="942.1" cy="514.1" r="5.1"/><circle cx="943.9" cy="617.8" r="5.1"/><circle cx="945.7" cy="527.3" r="5.1"/><circle cx="947.5" cy="523.1" r="5.1"/><circle cx="949.3" cy="502.5" r="5.1"/><circle cx="951.1" cy="468.4" r="5.1"/><circle cx="953" cy="478.6" r="5.1"/><circle cx="954.8" cy="485" r="5.1"/><circle cx="956.6" cy="519.6" r="5.1"/><circle cx="958.4" cy="535.7" r="5.1"/><circle cx="960.2" cy="502.5" r="5.1"/><circle cx="962" cy="606" r="5.1"/><circle cx="963.8" cy="539.2" r="5.1"/><circle cx="965.7" cy="558.7" r="5.1"/><circle cx="967.5" cy="521.9" r="5.1"/><circle cx="969.3" cy="452.2" r="5.1"/><circle cx="971.1" cy="490.2" r="5.1"/><circle cx="972.9" cy="453.7" r="5.1"/><circle cx="974.7" cy="428.6" r="5.1"/><circle cx="976.6" cy="494.9" r="5.1"/><circle cx="978.4" cy="552" r="5.1"/></g>
</g>
<g clip-path="url(#mcA)">
<polyline points="89,461.5 90.8,450.4 92.6,447.4 94.5,438.8 96.3,443.6 98.1,442.2 99.9,454.2 101.7,454.2 103.5,454.2 105.3,463.9 107.2,464.9 109,460.5 110.8,468.7 112.6,474.6 114.4,464.9 116.2,473.5 118.1,465.8 119.9,460.1 121.7,450.4 123.5,454.2 125.3,441.3 127.1,441.3 128.9,449 130.8,449.4 132.6,455.2 134.4,456.2 136.2,461.9 138,464.9 139.8,459.2 141.7,461 143.5,474.6 145.3,477.5 147.1,469.6 148.9,473 150.7,451.3 152.5,445.6 154.4,446.1 156.2,444.7 158,455.2 159.8,463 161.6,451 163.4,450.8 165.2,430.3 167.1,450.9 168.9,464.4 170.7,508.5 172.5,491.8 174.3,488.7 176.1,495.2 177.9,479 179.8,454.5 181.6,456.9 183.4,456.3 185.2,465 187,460.6 188.8,457.5 190.7,441 192.5,455.5 194.3,454.2 196.1,454.6 197.9,479.7 199.7,449.2 201.5,468.1 203.4,459 205.2,435.1 207,467.7 208.8,467.8 210.6,450.2 212.4,479.4 214.2,474.2 216.1,466.1 217.9,468 219.7,466.9 221.5,467.3 223.3,455.8 225.1,457.2 227,467.9 228.8,487 230.6,493.9 232.4,512.2 234.2,490.3 236,518.7 237.8,495.7 239.7,489.8 241.5,522.1 243.3,519 245.1,514.4 246.9,499.1 248.7,528.9 250.6,534.8 252.4,533.3 254.2,525.2 256,489 257.8,490.2 259.6,459 261.4,447.3 263.3,448.6 265.1,476.6 266.9,453.9 268.7,461.3 270.5,457.8 272.3,466.5 274.1,481 276,468.9 277.8,452.2 279.6,457.6 281.4,461.5 283.2,446.4 285,445.5 286.9,470.6 288.7,447.6 290.5,482.7 292.3,479.7 294.1,457.1 295.9,474.4 297.7,472.3 299.6,476.4 301.4,485.9 303.2,483.1 305,494 306.8,516.2 308.6,503.1 310.4,507.5 312.3,495.4 314.1,521.8 315.9,502.1 317.7,502 319.5,500.9 321.3,493.6 323.1,524.2 325,566.6 326.8,591 328.6,547.6 330.4,533.4 332.2,511.6 334,476.4 335.9,477 337.7,491.8 339.5,500.8 341.3,484 343.1,488.4 344.9,444.8 346.7,463.5 348.6,477.3 350.4,506.3 352.2,510 354,505.7 355.8,512.8 357.6,510 359.4,485.6 361.3,467.6 363.1,474.9 364.9,496.6 366.7,524.2 368.5,554.7 370.3,557.6 372.2,583.8 374,591.7 375.8,576.8 377.6,541.8 379.4,511.3 381.2,497.1 383,485 384.9,495.1 386.7,478.4 388.5,481.1 390.3,501 392.1,519.1 393.9,565.5 395.8,547.2 397.6,502.7 399.4,436 401.2,401.4 403,461.1 404.8,521.4 406.6,535.7 408.5,571.7 410.3,602.6 412.1,613.9 413.9,558 415.7,562.1 417.5,519.8 419.3,537.9 421.2,544.1 423,554.2 424.8,557.7 426.6,550.9 428.4,537 430.2,525.2 432,543.5 433.9,543.3 435.7,541.5 437.5,547.5 439.3,543.4 441.1,531.4 442.9,530.9 444.8,534.7 446.6,522.6 448.4,528.4 450.2,520.5 452,510.8 453.8,508.1 455.6,526.3 457.5,525 459.3,521.7 461.1,543.5 462.9,546.7 464.7,555 466.5,561.4 468.3,557.7 470.2,534.8 472,513.3 473.8,505.6 475.6,508.7 477.4,514.8 479.2,496.8 481.1,503.2 482.9,503.6 484.7,511.1 486.5,519.9 488.3,504.7 490.1,523.6 491.9,523.6 493.8,526.1 495.6,534.4 497.4,539.1 499.2,575.5 501,571 502.8,575.8 504.6,568 506.5,548.1 508.3,555 510.1,540.5 511.9,537.5 513.7,543.7 515.5,538.8 517.4,532.9 519.2,532.9 521,523.7 522.8,530.3 524.6,524.6 526.4,524.2 528.2,525.9 530.1,522.3 531.9,520.3 533.7,517.8 535.5,495.5 537.3,455.2 539.1,450.2 541,449.4 542.8,472.5 544.6,500.3 546.4,515.7 548.2,513.6 550,529.5 551.8,547.2 553.7,508.1 555.5,490.7 557.3,470 559.1,467.2 560.9,497.3 562.7,507.1 564.5,517.6 566.4,546.5 568.2,521.9 570,497.5 571.8,468.4 573.6,465.2 575.4,439.2 577.2,458.2 579.1,483.7 580.9,515.6 582.7,554 584.5,578.9 586.3,561.3 588.1,566.9 590,563.6 591.8,547.4 593.6,535.9 595.4,540.3 597.2,527.3 599,550.9 600.8,555.6 602.7,537.7 604.5,542.9 606.3,529.9 608.1,543.7 609.9,560.9 611.7,573 613.6,532.1 615.4,538.7 617.2,504.9 619,524.7 620.8,517.3 622.6,537 624.4,561 626.3,597 628.1,557 629.9,603.2 631.7,583.4 633.5,552.4 635.3,535.9 637.1,521.6 639,516.6 640.8,526.6 642.6,492.1 644.4,521.3 646.2,533.8 648,549.5 649.9,562.1 651.7,566 653.5,553.7 655.3,539.4 657.1,553.8 658.9,534.7 660.7,532.3 662.6,527.6 664.4,503.7 666.2,501.9 668,459.1 669.8,441.1 671.6,469.5 673.4,431.6 675.3,432.3 677.1,432.9 678.9,457.5 680.7,461.8 682.5,483.3 684.3,491.6 686.1,498.3 688,505.8 689.8,472.1 691.6,450.6 693.4,475.1 695.2,510.5 697,500.7 698.9,545.8 700.7,533.7 702.5,520.3 704.3,462.2 706.1,478.9 707.9,438.2 709.7,443.5 711.6,457.1 713.4,478.4 715.2,550.7 717,573.9 718.8,585.4 720.6,599 722.5,554.7 724.3,487 726.1,467.9 727.9,447.9 729.7,464.6 731.5,486.3 733.3,470.4 735.2,442.7 737,460.8 738.8,477.2 740.6,492.1 742.4,500.7 744.2,515.3 746,536.4 747.9,485.5 749.7,491.9 751.5,479.9 753.3,469.8 755.1,461.8 756.9,460.6 758.8,445.8 760.6,427.2 762.4,465.6 764.2,488.1 766,461.9 767.8,466.9 769.6,466.2 771.5,451.7 773.3,471.3 775.1,457.7 776.9,454.6 778.7,447.5 780.5,449.7 782.3,468.2 784.2,478.1 786,476.2 787.8,498.5 789.6,480.1 791.4,503.5 793.2,494.9 795.1,491.9 796.9,459.9 798.7,466.1 800.5,467 802.3,451 804.1,451.9 805.9,439.2 807.8,438.5 809.6,465.8 811.4,469.8 813.2,476.7 815,476.8 816.8,485.7 818.6,482.9 820.5,481.2 822.3,466.4 824.1,474 825.9,451.6 827.7,459 829.5,458.8 831.4,473.9 833.2,481.3 835,486.9 836.8,471.6 838.6,489.3 840.4,494 842.2,514 844.1,501.6 845.9,539.9 847.7,500 849.5,524.1 851.3,528.6 853.1,557.5 854.9,564.4 856.8,547.3 858.6,532.8 860.4,500.4 862.2,476 864,469.4 865.8,508.2 867.6,513.2 869.5,527.8 871.3,537.6 873.1,531.7 874.9,511 876.7,471.9 878.5,461.8 880.4,473.7 882.2,509.7 884,508.4 885.8,568.7 887.6,583.5 889.4,545.6 891.2,534.5 893.1,525.7 894.9,492.7 896.7,477.4 898.5,463.4 900.3,476.3 902.1,463.3 904,465.9 905.8,482.7 907.6,485.5 909.4,514.2 911.2,513.7 913,555.3 914.8,526.9 916.7,524.1 918.5,554.2 920.3,550.6 922.1,593.5 923.9,554.7 925.7,547.2 927.5,501.8 929.4,482.4 931.2,488.9 933,465.6 934.8,456.7 936.6,440 938.4,491.2 940.2,503.1 942.1,514.4 943.9,529.4 945.7,524.3 947.5,526.1 949.3,506.4 951.1,471.1 953,481.4 954.8,488.8 956.6,515.5 958.4,514.1 960.2,523.2 962,541.7 963.8,532.8 965.7,539.4 967.5,517.2 969.3,487.6 971.1,485.4 972.9,464.5 974.7,471.4 976.6,492.7 978.4,507.7" fill="none" stroke="#ffff00" stroke-width="4.3" stroke-linejoin="miter" stroke-miterlimit="8"/>
<g fill="#ffff00"><circle cx="89" cy="461.5" r="3"/><circle cx="90.8" cy="450.4" r="3"/><circle cx="92.6" cy="447.4" r="3"/><circle cx="94.5" cy="438.8" r="3"/><circle cx="96.3" cy="443.6" r="3"/><circle cx="98.1" cy="442.2" r="3"/><circle cx="99.9" cy="454.2" r="3"/><circle cx="101.7" cy="454.2" r="3"/><circle cx="103.5" cy="454.2" r="3"/><circle cx="105.3" cy="463.9" r="3"/><circle cx="107.2" cy="464.9" r="3"/><circle cx="109" cy="460.5" r="3"/><circle cx="110.8" cy="468.7" r="3"/><circle cx="112.6" cy="474.6" r="3"/><circle cx="114.4" cy="464.9" r="3"/><circle cx="116.2" cy="473.5" r="3"/><circle cx="118.1" cy="465.8" r="3"/><circle cx="119.9" cy="460.1" r="3"/><circle cx="121.7" cy="450.4" r="3"/><circle cx="123.5" cy="454.2" r="3"/><circle cx="125.3" cy="441.3" r="3"/><circle cx="127.1" cy="441.3" r="3"/><circle cx="128.9" cy="449" r="3"/><circle cx="130.8" cy="449.4" r="3"/><circle cx="132.6" cy="455.2" r="3"/><circle cx="134.4" cy="456.2" r="3"/><circle cx="136.2" cy="461.9" r="3"/><circle cx="138" cy="464.9" r="3"/><circle cx="139.8" cy="459.2" r="3"/><circle cx="141.7" cy="461" r="3"/><circle cx="143.5" cy="474.6" r="3"/><circle cx="145.3" cy="477.5" r="3"/><circle cx="147.1" cy="469.6" r="3"/><circle cx="148.9" cy="473" r="3"/><circle cx="150.7" cy="451.3" r="3"/><circle cx="152.5" cy="445.6" r="3"/><circle cx="154.4" cy="446.1" r="3"/><circle cx="156.2" cy="444.7" r="3"/><circle cx="158" cy="455.2" r="3"/><circle cx="159.8" cy="463" r="3"/><circle cx="161.6" cy="451" r="3"/><circle cx="163.4" cy="450.8" r="3"/><circle cx="165.2" cy="430.3" r="3"/><circle cx="167.1" cy="450.9" r="3"/><circle cx="168.9" cy="464.4" r="3"/><circle cx="170.7" cy="508.5" r="3"/><circle cx="172.5" cy="491.8" r="3"/><circle cx="174.3" cy="488.7" r="3"/><circle cx="176.1" cy="495.2" r="3"/><circle cx="177.9" cy="479" r="3"/><circle cx="179.8" cy="454.5" r="3"/><circle cx="181.6" cy="456.9" r="3"/><circle cx="183.4" cy="456.3" r="3"/><circle cx="185.2" cy="465" r="3"/><circle cx="187" cy="460.6" r="3"/><circle cx="188.8" cy="457.5" r="3"/><circle cx="190.7" cy="441" r="3"/><circle cx="192.5" cy="455.5" r="3"/><circle cx="194.3" cy="454.2" r="3"/><circle cx="196.1" cy="454.6" r="3"/><circle cx="197.9" cy="479.7" r="3"/><circle cx="199.7" cy="449.2" r="3"/><circle cx="201.5" cy="468.1" r="3"/><circle cx="203.4" cy="459" r="3"/><circle cx="205.2" cy="435.1" r="3"/><circle cx="207" cy="467.7" r="3"/><circle cx="208.8" cy="467.8" r="3"/><circle cx="210.6" cy="450.2" r="3"/><circle cx="212.4" cy="479.4" r="3"/><circle cx="214.2" cy="474.2" r="3"/><circle cx="216.1" cy="466.1" r="3"/><circle cx="217.9" cy="468" r="3"/><circle cx="219.7" cy="466.9" r="3"/><circle cx="221.5" cy="467.3" r="3"/><circle cx="223.3" cy="455.8" r="3"/><circle cx="225.1" cy="457.2" r="3"/><circle cx="227" cy="467.9" r="3"/><circle cx="228.8" cy="487" r="3"/><circle cx="230.6" cy="493.9" r="3"/><circle cx="232.4" cy="512.2" r="3"/><circle cx="234.2" cy="490.3" r="3"/><circle cx="236" cy="518.7" r="3"/><circle cx="237.8" cy="495.7" r="3"/><circle cx="239.7" cy="489.8" r="3"/><circle cx="241.5" cy="522.1" r="3"/><circle cx="243.3" cy="519" r="3"/><circle cx="245.1" cy="514.4" r="3"/><circle cx="246.9" cy="499.1" r="3"/><circle cx="248.7" cy="528.9" r="3"/><circle cx="250.6" cy="534.8" r="3"/><circle cx="252.4" cy="533.3" r="3"/><circle cx="254.2" cy="525.2" r="3"/><circle cx="256" cy="489" r="3"/><circle cx="257.8" cy="490.2" r="3"/><circle cx="259.6" cy="459" r="3"/><circle cx="261.4" cy="447.3" r="3"/><circle cx="263.3" cy="448.6" r="3"/><circle cx="265.1" cy="476.6" r="3"/><circle cx="266.9" cy="453.9" r="3"/><circle cx="268.7" cy="461.3" r="3"/><circle cx="270.5" cy="457.8" r="3"/><circle cx="272.3" cy="466.5" r="3"/><circle cx="274.1" cy="481" r="3"/><circle cx="276" cy="468.9" r="3"/><circle cx="277.8" cy="452.2" r="3"/><circle cx="279.6" cy="457.6" r="3"/><circle cx="281.4" cy="461.5" r="3"/><circle cx="283.2" cy="446.4" r="3"/><circle cx="285" cy="445.5" r="3"/><circle cx="286.9" cy="470.6" r="3"/><circle cx="288.7" cy="447.6" r="3"/><circle cx="290.5" cy="482.7" r="3"/><circle cx="292.3" cy="479.7" r="3"/><circle cx="294.1" cy="457.1" r="3"/><circle cx="295.9" cy="474.4" r="3"/><circle cx="297.7" cy="472.3" r="3"/><circle cx="299.6" cy="476.4" r="3"/><circle cx="301.4" cy="485.9" r="3"/><circle cx="303.2" cy="483.1" r="3"/><circle cx="305" cy="494" r="3"/><circle cx="306.8" cy="516.2" r="3"/><circle cx="308.6" cy="503.1" r="3"/><circle cx="310.4" cy="507.5" r="3"/><circle cx="312.3" cy="495.4" r="3"/><circle cx="314.1" cy="521.8" r="3"/><circle cx="315.9" cy="502.1" r="3"/><circle cx="317.7" cy="502" r="3"/><circle cx="319.5" cy="500.9" r="3"/><circle cx="321.3" cy="493.6" r="3"/><circle cx="323.1" cy="524.2" r="3"/><circle cx="325" cy="566.6" r="3"/><circle cx="326.8" cy="591" r="3"/><circle cx="328.6" cy="547.6" r="3"/><circle cx="330.4" cy="533.4" r="3"/><circle cx="332.2" cy="511.6" r="3"/><circle cx="334" cy="476.4" r="3"/><circle cx="335.9" cy="477" r="3"/><circle cx="337.7" cy="491.8" r="3"/><circle cx="339.5" cy="500.8" r="3"/><circle cx="341.3" cy="484" r="3"/><circle cx="343.1" cy="488.4" r="3"/><circle cx="344.9" cy="444.8" r="3"/><circle cx="346.7" cy="463.5" r="3"/><circle cx="348.6" cy="477.3" r="3"/><circle cx="350.4" cy="506.3" r="3"/><circle cx="352.2" cy="510" r="3"/><circle cx="354" cy="505.7" r="3"/><circle cx="355.8" cy="512.8" r="3"/><circle cx="357.6" cy="510" r="3"/><circle cx="359.4" cy="485.6" r="3"/><circle cx="361.3" cy="467.6" r="3"/><circle cx="363.1" cy="474.9" r="3"/><circle cx="364.9" cy="496.6" r="3"/><circle cx="366.7" cy="524.2" r="3"/><circle cx="368.5" cy="554.7" r="3"/><circle cx="370.3" cy="557.6" r="3"/><circle cx="372.2" cy="583.8" r="3"/><circle cx="374" cy="591.7" r="3"/><circle cx="375.8" cy="576.8" r="3"/><circle cx="377.6" cy="541.8" r="3"/><circle cx="379.4" cy="511.3" r="3"/><circle cx="381.2" cy="497.1" r="3"/><circle cx="383" cy="485" r="3"/><circle cx="384.9" cy="495.1" r="3"/><circle cx="386.7" cy="478.4" r="3"/><circle cx="388.5" cy="481.1" r="3"/><circle cx="390.3" cy="501" r="3"/><circle cx="392.1" cy="519.1" r="3"/><circle cx="393.9" cy="565.5" r="3"/><circle cx="395.8" cy="547.2" r="3"/><circle cx="397.6" cy="502.7" r="3"/><circle cx="399.4" cy="436" r="3"/><circle cx="401.2" cy="401.4" r="3"/><circle cx="403" cy="461.1" r="3"/><circle cx="404.8" cy="521.4" r="3"/><circle cx="406.6" cy="535.7" r="3"/><circle cx="408.5" cy="571.7" r="3"/><circle cx="410.3" cy="602.6" r="3"/><circle cx="412.1" cy="613.9" r="3"/><circle cx="413.9" cy="558" r="3"/><circle cx="415.7" cy="562.1" r="3"/><circle cx="417.5" cy="519.8" r="3"/><circle cx="419.3" cy="537.9" r="3"/><circle cx="421.2" cy="544.1" r="3"/><circle cx="423" cy="554.2" r="3"/><circle cx="424.8" cy="557.7" r="3"/><circle cx="426.6" cy="550.9" r="3"/><circle cx="428.4" cy="537" r="3"/><circle cx="430.2" cy="525.2" r="3"/><circle cx="432" cy="543.5" r="3"/><circle cx="433.9" cy="543.3" r="3"/><circle cx="435.7" cy="541.5" r="3"/><circle cx="437.5" cy="547.5" r="3"/><circle cx="439.3" cy="543.4" r="3"/><circle cx="441.1" cy="531.4" r="3"/><circle cx="442.9" cy="530.9" r="3"/><circle cx="444.8" cy="534.7" r="3"/><circle cx="446.6" cy="522.6" r="3"/><circle cx="448.4" cy="528.4" r="3"/><circle cx="450.2" cy="520.5" r="3"/><circle cx="452" cy="510.8" r="3"/><circle cx="453.8" cy="508.1" r="3"/><circle cx="455.6" cy="526.3" r="3"/><circle cx="457.5" cy="525" r="3"/><circle cx="459.3" cy="521.7" r="3"/><circle cx="461.1" cy="543.5" r="3"/><circle cx="462.9" cy="546.7" r="3"/><circle cx="464.7" cy="555" r="3"/><circle cx="466.5" cy="561.4" r="3"/><circle cx="468.3" cy="557.7" r="3"/><circle cx="470.2" cy="534.8" r="3"/><circle cx="472" cy="513.3" r="3"/><circle cx="473.8" cy="505.6" r="3"/><circle cx="475.6" cy="508.7" r="3"/><circle cx="477.4" cy="514.8" r="3"/><circle cx="479.2" cy="496.8" r="3"/><circle cx="481.1" cy="503.2" r="3"/><circle cx="482.9" cy="503.6" r="3"/><circle cx="484.7" cy="511.1" r="3"/><circle cx="486.5" cy="519.9" r="3"/><circle cx="488.3" cy="504.7" r="3"/><circle cx="490.1" cy="523.6" r="3"/><circle cx="491.9" cy="523.6" r="3"/><circle cx="493.8" cy="526.1" r="3"/><circle cx="495.6" cy="534.4" r="3"/><circle cx="497.4" cy="539.1" r="3"/><circle cx="499.2" cy="575.5" r="3"/><circle cx="501" cy="571" r="3"/><circle cx="502.8" cy="575.8" r="3"/><circle cx="504.6" cy="568" r="3"/><circle cx="506.5" cy="548.1" r="3"/><circle cx="508.3" cy="555" r="3"/><circle cx="510.1" cy="540.5" r="3"/><circle cx="511.9" cy="537.5" r="3"/><circle cx="513.7" cy="543.7" r="3"/><circle cx="515.5" cy="538.8" r="3"/><circle cx="517.4" cy="532.9" r="3"/><circle cx="519.2" cy="532.9" r="3"/><circle cx="521" cy="523.7" r="3"/><circle cx="522.8" cy="530.3" r="3"/><circle cx="524.6" cy="524.6" r="3"/><circle cx="526.4" cy="524.2" r="3"/><circle cx="528.2" cy="525.9" r="3"/><circle cx="530.1" cy="522.3" r="3"/><circle cx="531.9" cy="520.3" r="3"/><circle cx="533.7" cy="517.8" r="3"/><circle cx="535.5" cy="495.5" r="3"/><circle cx="537.3" cy="455.2" r="3"/><circle cx="539.1" cy="450.2" r="3"/><circle cx="541" cy="449.4" r="3"/><circle cx="542.8" cy="472.5" r="3"/><circle cx="544.6" cy="500.3" r="3"/><circle cx="546.4" cy="515.7" r="3"/><circle cx="548.2" cy="513.6" r="3"/><circle cx="550" cy="529.5" r="3"/><circle cx="551.8" cy="547.2" r="3"/><circle cx="553.7" cy="508.1" r="3"/><circle cx="555.5" cy="490.7" r="3"/><circle cx="557.3" cy="470" r="3"/><circle cx="559.1" cy="467.2" r="3"/><circle cx="560.9" cy="497.3" r="3"/><circle cx="562.7" cy="507.1" r="3"/><circle cx="564.5" cy="517.6" r="3"/><circle cx="566.4" cy="546.5" r="3"/><circle cx="568.2" cy="521.9" r="3"/><circle cx="570" cy="497.5" r="3"/><circle cx="571.8" cy="468.4" r="3"/><circle cx="573.6" cy="465.2" r="3"/><circle cx="575.4" cy="439.2" r="3"/><circle cx="577.2" cy="458.2" r="3"/><circle cx="579.1" cy="483.7" r="3"/><circle cx="580.9" cy="515.6" r="3"/><circle cx="582.7" cy="554" r="3"/><circle cx="584.5" cy="578.9" r="3"/><circle cx="586.3" cy="561.3" r="3"/><circle cx="588.1" cy="566.9" r="3"/><circle cx="590" cy="563.6" r="3"/><circle cx="591.8" cy="547.4" r="3"/><circle cx="593.6" cy="535.9" r="3"/><circle cx="595.4" cy="540.3" r="3"/><circle cx="597.2" cy="527.3" r="3"/><circle cx="599" cy="550.9" r="3"/><circle cx="600.8" cy="555.6" r="3"/><circle cx="602.7" cy="537.7" r="3"/><circle cx="604.5" cy="542.9" r="3"/><circle cx="606.3" cy="529.9" r="3"/><circle cx="608.1" cy="543.7" r="3"/><circle cx="609.9" cy="560.9" r="3"/><circle cx="611.7" cy="573" r="3"/><circle cx="613.6" cy="532.1" r="3"/><circle cx="615.4" cy="538.7" r="3"/><circle cx="617.2" cy="504.9" r="3"/><circle cx="619" cy="524.7" r="3"/><circle cx="620.8" cy="517.3" r="3"/><circle cx="622.6" cy="537" r="3"/><circle cx="624.4" cy="561" r="3"/><circle cx="626.3" cy="597" r="3"/><circle cx="628.1" cy="557" r="3"/><circle cx="629.9" cy="603.2" r="3"/><circle cx="631.7" cy="583.4" r="3"/><circle cx="633.5" cy="552.4" r="3"/><circle cx="635.3" cy="535.9" r="3"/><circle cx="637.1" cy="521.6" r="3"/><circle cx="639" cy="516.6" r="3"/><circle cx="640.8" cy="526.6" r="3"/><circle cx="642.6" cy="492.1" r="3"/><circle cx="644.4" cy="521.3" r="3"/><circle cx="646.2" cy="533.8" r="3"/><circle cx="648" cy="549.5" r="3"/><circle cx="649.9" cy="562.1" r="3"/><circle cx="651.7" cy="566" r="3"/><circle cx="653.5" cy="553.7" r="3"/><circle cx="655.3" cy="539.4" r="3"/><circle cx="657.1" cy="553.8" r="3"/><circle cx="658.9" cy="534.7" r="3"/><circle cx="660.7" cy="532.3" r="3"/><circle cx="662.6" cy="527.6" r="3"/><circle cx="664.4" cy="503.7" r="3"/><circle cx="666.2" cy="501.9" r="3"/><circle cx="668" cy="459.1" r="3"/><circle cx="669.8" cy="441.1" r="3"/><circle cx="671.6" cy="469.5" r="3"/><circle cx="673.4" cy="431.6" r="3"/><circle cx="675.3" cy="432.3" r="3"/><circle cx="677.1" cy="432.9" r="3"/><circle cx="678.9" cy="457.5" r="3"/><circle cx="680.7" cy="461.8" r="3"/><circle cx="682.5" cy="483.3" r="3"/><circle cx="684.3" cy="491.6" r="3"/><circle cx="686.1" cy="498.3" r="3"/><circle cx="688" cy="505.8" r="3"/><circle cx="689.8" cy="472.1" r="3"/><circle cx="691.6" cy="450.6" r="3"/><circle cx="693.4" cy="475.1" r="3"/><circle cx="695.2" cy="510.5" r="3"/><circle cx="697" cy="500.7" r="3"/><circle cx="698.9" cy="545.8" r="3"/><circle cx="700.7" cy="533.7" r="3"/><circle cx="702.5" cy="520.3" r="3"/><circle cx="704.3" cy="462.2" r="3"/><circle cx="706.1" cy="478.9" r="3"/><circle cx="707.9" cy="438.2" r="3"/><circle cx="709.7" cy="443.5" r="3"/><circle cx="711.6" cy="457.1" r="3"/><circle cx="713.4" cy="478.4" r="3"/><circle cx="715.2" cy="550.7" r="3"/><circle cx="717" cy="573.9" r="3"/><circle cx="718.8" cy="585.4" r="3"/><circle cx="720.6" cy="599" r="3"/><circle cx="722.5" cy="554.7" r="3"/><circle cx="724.3" cy="487" r="3"/><circle cx="726.1" cy="467.9" r="3"/><circle cx="727.9" cy="447.9" r="3"/><circle cx="729.7" cy="464.6" r="3"/><circle cx="731.5" cy="486.3" r="3"/><circle cx="733.3" cy="470.4" r="3"/><circle cx="735.2" cy="442.7" r="3"/><circle cx="737" cy="460.8" r="3"/><circle cx="738.8" cy="477.2" r="3"/><circle cx="740.6" cy="492.1" r="3"/><circle cx="742.4" cy="500.7" r="3"/><circle cx="744.2" cy="515.3" r="3"/><circle cx="746" cy="536.4" r="3"/><circle cx="747.9" cy="485.5" r="3"/><circle cx="749.7" cy="491.9" r="3"/><circle cx="751.5" cy="479.9" r="3"/><circle cx="753.3" cy="469.8" r="3"/><circle cx="755.1" cy="461.8" r="3"/><circle cx="756.9" cy="460.6" r="3"/><circle cx="758.8" cy="445.8" r="3"/><circle cx="760.6" cy="427.2" r="3"/><circle cx="762.4" cy="465.6" r="3"/><circle cx="764.2" cy="488.1" r="3"/><circle cx="766" cy="461.9" r="3"/><circle cx="767.8" cy="466.9" r="3"/><circle cx="769.6" cy="466.2" r="3"/><circle cx="771.5" cy="451.7" r="3"/><circle cx="773.3" cy="471.3" r="3"/><circle cx="775.1" cy="457.7" r="3"/><circle cx="776.9" cy="454.6" r="3"/><circle cx="778.7" cy="447.5" r="3"/><circle cx="780.5" cy="449.7" r="3"/><circle cx="782.3" cy="468.2" r="3"/><circle cx="784.2" cy="478.1" r="3"/><circle cx="786" cy="476.2" r="3"/><circle cx="787.8" cy="498.5" r="3"/><circle cx="789.6" cy="480.1" r="3"/><circle cx="791.4" cy="503.5" r="3"/><circle cx="793.2" cy="494.9" r="3"/><circle cx="795.1" cy="491.9" r="3"/><circle cx="796.9" cy="459.9" r="3"/><circle cx="798.7" cy="466.1" r="3"/><circle cx="800.5" cy="467" r="3"/><circle cx="802.3" cy="451" r="3"/><circle cx="804.1" cy="451.9" r="3"/><circle cx="805.9" cy="439.2" r="3"/><circle cx="807.8" cy="438.5" r="3"/><circle cx="809.6" cy="465.8" r="3"/><circle cx="811.4" cy="469.8" r="3"/><circle cx="813.2" cy="476.7" r="3"/><circle cx="815" cy="476.8" r="3"/><circle cx="816.8" cy="485.7" r="3"/><circle cx="818.6" cy="482.9" r="3"/><circle cx="820.5" cy="481.2" r="3"/><circle cx="822.3" cy="466.4" r="3"/><circle cx="824.1" cy="474" r="3"/><circle cx="825.9" cy="451.6" r="3"/><circle cx="827.7" cy="459" r="3"/><circle cx="829.5" cy="458.8" r="3"/><circle cx="831.4" cy="473.9" r="3"/><circle cx="833.2" cy="481.3" r="3"/><circle cx="835" cy="486.9" r="3"/><circle cx="836.8" cy="471.6" r="3"/><circle cx="838.6" cy="489.3" r="3"/><circle cx="840.4" cy="494" r="3"/><circle cx="842.2" cy="514" r="3"/><circle cx="844.1" cy="501.6" r="3"/><circle cx="845.9" cy="539.9" r="3"/><circle cx="847.7" cy="500" r="3"/><circle cx="849.5" cy="524.1" r="3"/><circle cx="851.3" cy="528.6" r="3"/><circle cx="853.1" cy="557.5" r="3"/><circle cx="854.9" cy="564.4" r="3"/><circle cx="856.8" cy="547.3" r="3"/><circle cx="858.6" cy="532.8" r="3"/><circle cx="860.4" cy="500.4" r="3"/><circle cx="862.2" cy="476" r="3"/><circle cx="864" cy="469.4" r="3"/><circle cx="865.8" cy="508.2" r="3"/><circle cx="867.6" cy="513.2" r="3"/><circle cx="869.5" cy="527.8" r="3"/><circle cx="871.3" cy="537.6" r="3"/><circle cx="873.1" cy="531.7" r="3"/><circle cx="874.9" cy="511" r="3"/><circle cx="876.7" cy="471.9" r="3"/><circle cx="878.5" cy="461.8" r="3"/><circle cx="880.4" cy="473.7" r="3"/><circle cx="882.2" cy="509.7" r="3"/><circle cx="884" cy="508.4" r="3"/><circle cx="885.8" cy="568.7" r="3"/><circle cx="887.6" cy="583.5" r="3"/><circle cx="889.4" cy="545.6" r="3"/><circle cx="891.2" cy="534.5" r="3"/><circle cx="893.1" cy="525.7" r="3"/><circle cx="894.9" cy="492.7" r="3"/><circle cx="896.7" cy="477.4" r="3"/><circle cx="898.5" cy="463.4" r="3"/><circle cx="900.3" cy="476.3" r="3"/><circle cx="902.1" cy="463.3" r="3"/><circle cx="904" cy="465.9" r="3"/><circle cx="905.8" cy="482.7" r="3"/><circle cx="907.6" cy="485.5" r="3"/><circle cx="909.4" cy="514.2" r="3"/><circle cx="911.2" cy="513.7" r="3"/><circle cx="913" cy="555.3" r="3"/><circle cx="914.8" cy="526.9" r="3"/><circle cx="916.7" cy="524.1" r="3"/><circle cx="918.5" cy="554.2" r="3"/><circle cx="920.3" cy="550.6" r="3"/><circle cx="922.1" cy="593.5" r="3"/><circle cx="923.9" cy="554.7" r="3"/><circle cx="925.7" cy="547.2" r="3"/><circle cx="927.5" cy="501.8" r="3"/><circle cx="929.4" cy="482.4" r="3"/><circle cx="931.2" cy="488.9" r="3"/><circle cx="933" cy="465.6" r="3"/><circle cx="934.8" cy="456.7" r="3"/><circle cx="936.6" cy="440" r="3"/><circle cx="938.4" cy="491.2" r="3"/><circle cx="940.2" cy="503.1" r="3"/><circle cx="942.1" cy="514.4" r="3"/><circle cx="943.9" cy="529.4" r="3"/><circle cx="945.7" cy="524.3" r="3"/><circle cx="947.5" cy="526.1" r="3"/><circle cx="949.3" cy="506.4" r="3"/><circle cx="951.1" cy="471.1" r="3"/><circle cx="953" cy="481.4" r="3"/><circle cx="954.8" cy="488.8" r="3"/><circle cx="956.6" cy="515.5" r="3"/><circle cx="958.4" cy="514.1" r="3"/><circle cx="960.2" cy="523.2" r="3"/><circle cx="962" cy="541.7" r="3"/><circle cx="963.8" cy="532.8" r="3"/><circle cx="965.7" cy="539.4" r="3"/><circle cx="967.5" cy="517.2" r="3"/><circle cx="969.3" cy="487.6" r="3"/><circle cx="971.1" cy="485.4" r="3"/><circle cx="972.9" cy="464.5" r="3"/><circle cx="974.7" cy="471.4" r="3"/><circle cx="976.6" cy="492.7" r="3"/><circle cx="978.4" cy="507.7" r="3"/></g>
</g>
<g stroke="#b8b8b8" stroke-width="1.2" fill="none">
<path d="M87.2,20V791.7H996.1"/>
<path d="M87.2,20h8.8"/>
<path d="M87.2,97.1h8.8"/>
<path d="M87.2,174.2h8.8"/>
<path d="M87.2,251.3h8.8"/>
<path d="M87.2,328.4h8.8"/>
<path d="M87.2,405.5h8.8"/>
<path d="M87.2,482.6h8.8"/>
<path d="M87.2,559.7h8.8"/>
<path d="M87.2,636.8h8.8"/>
<path d="M87.2,713.9h8.8"/>
<path d="M177.9,791.7v-8.8"/>
<path d="M268.7,791.7v-8.8"/>
<path d="M359.4,791.7v-8.8"/>
<path d="M450.2,791.7v-8.8"/>
<path d="M541,791.7v-8.8"/>
<path d="M631.7,791.7v-8.8"/>
<path d="M722.5,791.7v-8.8"/>
<path d="M813.2,791.7v-8.8"/>
<path d="M904,791.7v-8.8"/>
<path d="M995.8,791.7v-8.8"/>
</g>
<g font-family="'Liberation Sans', Arial, sans-serif" font-size="22.4" fill="#000" stroke="#000" stroke-width="0.3">
<text transform="translate(81.4,27.8) scale(0.92,1)" text-anchor="end">30</text>
<text transform="translate(81.4,104.9) scale(0.92,1)" text-anchor="end">25</text>
<text transform="translate(81.4,182) scale(0.92,1)" text-anchor="end">20</text>
<text transform="translate(81.4,259.1) scale(0.92,1)" text-anchor="end">15</text>
<text transform="translate(81.4,336.2) scale(0.92,1)" text-anchor="end">10</text>
<text transform="translate(81.4,413.3) scale(0.92,1)" text-anchor="end">5</text>
<text transform="translate(81.4,490.4) scale(0.92,1)" text-anchor="end">0</text>
<text transform="translate(81.4,567.5) scale(0.92,1)" text-anchor="end">-5</text>
<text transform="translate(81.4,644.6) scale(0.92,1)" text-anchor="end">-10</text>
<text transform="translate(81.4,721.7) scale(0.92,1)" text-anchor="end">-15</text>
<text transform="translate(81.4,798.8) scale(0.92,1)" text-anchor="end">-20</text>
<text transform="translate(87.2,816.3) scale(0.92,1)" text-anchor="middle">0</text>
<text transform="translate(177.9,816.3) scale(0.92,1)" text-anchor="middle">50</text>
<text transform="translate(268.7,816.3) scale(0.92,1)" text-anchor="middle">100</text>
<text transform="translate(359.4,816.3) scale(0.92,1)" text-anchor="middle">150</text>
<text transform="translate(450.2,816.3) scale(0.92,1)" text-anchor="middle">200</text>
<text transform="translate(541,816.3) scale(0.92,1)" text-anchor="middle">250</text>
<text transform="translate(631.7,816.3) scale(0.92,1)" text-anchor="middle">300</text>
<text transform="translate(722.5,816.3) scale(0.92,1)" text-anchor="middle">350</text>
<text transform="translate(813.2,816.3) scale(0.92,1)" text-anchor="middle">400</text>
<text transform="translate(904,816.3) scale(0.92,1)" text-anchor="middle">450</text>
<text transform="translate(995.8,816.3) scale(0.92,1)" text-anchor="middle">500</text>
<text transform="translate(538.7,843.7) scale(0.908,1)" text-anchor="middle" font-size="22.5">Sampling Number</text>
<text transform="translate(36.0,404.6) rotate(-90)" x="-62.1" textLength="124.2" lengthAdjust="spacingAndGlyphs" font-size="21.4">East Error[m]</text>
</g>
<rect x="89.75" y="377.85" width="64.30000000000001" height="138.0" fill="none" stroke="#ff0000" stroke-width="3.9"/>
<path d="M158,372L184.7,309.3" stroke="#ff0000" stroke-width="3.8" fill="none"/>
<polygon points="196.6,283.3 174.4,307.9 175.9,311.2 184.9,309.6 191.2,324.7" fill="#ff0000"/>
<rect x="164.8" y="27.3" width="169.64999999999998" height="251.09999999999997" fill="#fff"/>
<clipPath id="icA"><rect x="157.8" y="27.3" width="183.64999999999998" height="251.09999999999997"/></clipPath>
<g clip-path="url(#icA)">
<polyline points="169,235.3 173.3,108 177.5,109.8 181.8,56 186,127.7 190.2,124.1 194.5,170.8 198.7,81.1 203,199.5 207.2,120.6 211.5,134.9 215.7,248.6 219.9,120.6 224.2,142.1 228.4,149.3 232.7,254 236.9,152.8 241.1,203.8 245.4,88.3 249.6,134.9 253.9,152.8 258.1,172.2 262.3,54.2 266.6,190.1 270.8,142.1 275.1,192.3 279.3,238.6 283.5,52.4 287.8,170.8 292,198 296.3,98 300.5,246.1 304.8,195.9 309,106.9 313.2,210.2 317.5,127.7 321.7,5.8 326,134.9 330.2,230.7 334.4,88.3" fill="none" stroke="#00ff00" stroke-width="4.3" stroke-linejoin="miter" stroke-miterlimit="8"/>
<path d="M163.8,230.1h10.4v10.4h-10.4zM168.1,102.8h10.4v10.4h-10.4zM172.3,104.6h10.4v10.4h-10.4zM176.6,50.8h10.4v10.4h-10.4zM180.8,122.5h10.4v10.4h-10.4zM185,118.9h10.4v10.4h-10.4zM189.3,165.6h10.4v10.4h-10.4zM193.5,75.9h10.4v10.4h-10.4zM197.8,194.3h10.4v10.4h-10.4zM202,115.4h10.4v10.4h-10.4zM206.3,129.7h10.4v10.4h-10.4zM210.5,243.4h10.4v10.4h-10.4zM214.7,115.4h10.4v10.4h-10.4zM219,136.9h10.4v10.4h-10.4zM223.2,144.1h10.4v10.4h-10.4zM227.5,248.8h10.4v10.4h-10.4zM231.7,147.6h10.4v10.4h-10.4zM235.9,198.6h10.4v10.4h-10.4zM240.2,83.1h10.4v10.4h-10.4zM244.4,129.7h10.4v10.4h-10.4zM248.7,147.6h10.4v10.4h-10.4zM252.9,167h10.4v10.4h-10.4zM257.1,49h10.4v10.4h-10.4zM261.4,184.9h10.4v10.4h-10.4zM265.6,136.9h10.4v10.4h-10.4zM269.9,187.1h10.4v10.4h-10.4zM274.1,233.4h10.4v10.4h-10.4zM278.3,47.2h10.4v10.4h-10.4zM282.6,165.6h10.4v10.4h-10.4zM286.8,192.8h10.4v10.4h-10.4zM291.1,92.8h10.4v10.4h-10.4zM295.3,240.9h10.4v10.4h-10.4zM299.6,190.7h10.4v10.4h-10.4zM303.8,101.7h10.4v10.4h-10.4zM308,205h10.4v10.4h-10.4zM312.3,122.5h10.4v10.4h-10.4zM316.5,0.6h10.4v10.4h-10.4zM320.8,129.7h10.4v10.4h-10.4zM325,225.5h10.4v10.4h-10.4zM329.2,83.1h10.4v10.4h-10.4z" fill="none" stroke="#00ff00" stroke-width="4.2"/>
</g>
<g clip-path="url(#icA)">
<polyline points="169,146.4 173.3,160 177.5,90.1 181.8,84.7 186,76.8 190.2,100.5 194.5,120.6 198.7,145.7 203,165.4 207.2,160 211.5,156.4 215.7,201.3 219.9,163.6 224.2,114.8 228.4,188.7 232.7,197 236.9,126.3 241.1,178 245.4,134.9 249.6,76.8 253.9,138.5 258.1,146.4 262.3,70 266.6,98 270.8,161.1 275.1,183.3 279.3,163.6 283.5,136.3 287.8,176.5 292,160 296.3,170.8 300.5,176.2 304.8,185.1 309,226.4 313.2,149.6 317.5,57.8 321.7,46.3 326,152.1 330.2,189.1 334.4,139.6" fill="none" stroke="#0000ff" stroke-width="4.3" stroke-linejoin="miter" stroke-miterlimit="8"/>
<g fill="none" stroke="#0000ff" stroke-width="3.6"><circle cx="169" cy="146.4" r="4.9"/><circle cx="173.3" cy="160" r="4.9"/><circle cx="177.5" cy="90.1" r="4.9"/><circle cx="181.8" cy="84.7" r="4.9"/><circle cx="186" cy="76.8" r="4.9"/><circle cx="190.2" cy="100.5" r="4.9"/><circle cx="194.5" cy="120.6" r="4.9"/><circle cx="198.7" cy="145.7" r="4.9"/><circle cx="203" cy="165.4" r="4.9"/><circle cx="207.2" cy="160" r="4.9"/><circle cx="211.5" cy="156.4" r="4.9"/><circle cx="215.7" cy="201.3" r="4.9"/><circle cx="219.9" cy="163.6" r="4.9"/><circle cx="224.2" cy="114.8" r="4.9"/><circle cx="228.4" cy="188.7" r="4.9"/><circle cx="232.7" cy="197" r="4.9"/><circle cx="236.9" cy="126.3" r="4.9"/><circle cx="241.1" cy="178" r="4.9"/><circle cx="245.4" cy="134.9" r="4.9"/><circle cx="249.6" cy="76.8" r="4.9"/><circle cx="253.9" cy="138.5" r="4.9"/><circle cx="258.1" cy="146.4" r="4.9"/><circle cx="262.3" cy="70" r="4.9"/><circle cx="266.6" cy="98" r="4.9"/><circle cx="270.8" cy="161.1" r="4.9"/><circle cx="275.1" cy="183.3" r="4.9"/><circle cx="279.3" cy="163.6" r="4.9"/><circle cx="283.5" cy="136.3" r="4.9"/><circle cx="287.8" cy="176.5" r="4.9"/><circle cx="292" cy="160" r="4.9"/><circle cx="296.3" cy="170.8" r="4.9"/><circle cx="300.5" cy="176.2" r="4.9"/><circle cx="304.8" cy="185.1" r="4.9"/><circle cx="309" cy="226.4" r="4.9"/><circle cx="313.2" cy="149.6" r="4.9"/><circle cx="317.5" cy="57.8" r="4.9"/><circle cx="321.7" cy="46.3" r="4.9"/><circle cx="326" cy="152.1" r="4.9"/><circle cx="330.2" cy="189.1" r="4.9"/><circle cx="334.4" cy="139.6" r="4.9"/></g>
</g>
<g clip-path="url(#icA)">
<polyline points="169,142.8 173.3,160 177.5,134.9 181.8,80 186,88.3 190.2,102.6 194.5,113.7 198.7,147.5 203,157.5 207.2,167.2 211.5,179 215.7,172.2 219.9,163.6 224.2,117 228.4,203.8 232.7,193.4 236.9,142.8 241.1,157.5 245.4,129.5 249.6,77.9 253.9,154.3 258.1,120.6 262.3,83.6 266.6,83.6 270.8,149.3 275.1,190.1 279.3,167.2 283.5,144.2 287.8,149.6 292,154.3 296.3,174.4 300.5,188.7 304.8,208.1 309,201.3 313.2,145.7 317.5,52.1 321.7,65.3 326,138.5 330.2,156.4 334.4,127.7" fill="none" stroke="#ff0000" stroke-width="4.3" stroke-linejoin="miter" stroke-miterlimit="8"/>
<g fill="#ff0000"><circle cx="169" cy="142.8" r="5.1"/><circle cx="173.3" cy="160" r="5.1"/><circle cx="177.5" cy="134.9" r="5.1"/><circle cx="181.8" cy="80" r="5.1"/><circle cx="186" cy="88.3" r="5.1"/><circle cx="190.2" cy="102.6" r="5.1"/><circle cx="194.5" cy="113.7" r="5.1"/><circle cx="198.7" cy="147.5" r="5.1"/><circle cx="203" cy="157.5" r="5.1"/><circle cx="207.2" cy="167.2" r="5.1"/><circle cx="211.5" cy="179" r="5.1"/><circle cx="215.7" cy="172.2" r="5.1"/><circle cx="219.9" cy="163.6" r="5.1"/><circle cx="224.2" cy="117" r="5.1"/><circle cx="228.4" cy="203.8" r="5.1"/><circle cx="232.7" cy="193.4" r="5.1"/><circle cx="236.9" cy="142.8" r="5.1"/><circle cx="241.1" cy="157.5" r="5.1"/><circle cx="245.4" cy="129.5" r="5.1"/><circle cx="249.6" cy="77.9" r="5.1"/><circle cx="253.9" cy="154.3" r="5.1"/><circle cx="258.1" cy="120.6" r="5.1"/><circle cx="262.3" cy="83.6" r="5.1"/><circle cx="266.6" cy="83.6" r="5.1"/><circle cx="270.8" cy="149.3" r="5.1"/><circle cx="275.1" cy="190.1" r="5.1"/><circle cx="279.3" cy="167.2" r="5.1"/><circle cx="283.5" cy="144.2" r="5.1"/><circle cx="287.8" cy="149.6" r="5.1"/><circle cx="292" cy="154.3" r="5.1"/><circle cx="296.3" cy="174.4" r="5.1"/><circle cx="300.5" cy="188.7" r="5.1"/><circle cx="304.8" cy="208.1" r="5.1"/><circle cx="309" cy="201.3" r="5.1"/><circle cx="313.2" cy="145.7" r="5.1"/><circle cx="317.5" cy="52.1" r="5.1"/><circle cx="321.7" cy="65.3" r="5.1"/><circle cx="326" cy="138.5" r="5.1"/><circle cx="330.2" cy="156.4" r="5.1"/><circle cx="334.4" cy="127.7" r="5.1"/></g>
</g>
<g clip-path="url(#icA)">
<polyline points="169,157.5 173.3,131.7 177.5,124.9 181.8,104.8 186,115.9 190.2,112.7 194.5,140.6 198.7,140.6 203,140.6 207.2,163.2 211.5,165.4 215.7,155.4 219.9,174.4 224.2,188 228.4,165.4 232.7,185.5 236.9,167.6 241.1,154.3 245.4,131.7 249.6,140.6 253.9,110.5 258.1,110.5 262.3,128.5 266.6,129.5 270.8,142.8 275.1,145.3 279.3,158.6 283.5,165.4 287.8,152.1 292,156.4 296.3,188 300.5,194.8 304.8,176.5 309,184.4 313.2,133.8 317.5,120.6 321.7,121.6 326,118.4 330.2,142.8 334.4,161.1" fill="none" stroke="#ffff00" stroke-width="4.3" stroke-linejoin="miter" stroke-miterlimit="8"/>
<g fill="#ffff00"><circle cx="169" cy="157.5" r="3"/><circle cx="173.3" cy="131.7" r="3"/><circle cx="177.5" cy="124.9" r="3"/><circle cx="181.8" cy="104.8" r="3"/><circle cx="186" cy="115.9" r="3"/><circle cx="190.2" cy="112.7" r="3"/><circle cx="194.5" cy="140.6" r="3"/><circle cx="198.7" cy="140.6" r="3"/><circle cx="203" cy="140.6" r="3"/><circle cx="207.2" cy="163.2" r="3"/><circle cx="211.5" cy="165.4" r="3"/><circle cx="215.7" cy="155.4" r="3"/><circle cx="219.9" cy="174.4" r="3"/><circle cx="224.2" cy="188" r="3"/><circle cx="228.4" cy="165.4" r="3"/><circle cx="232.7" cy="185.5" r="3"/><circle cx="236.9" cy="167.6" r="3"/><circle cx="241.1" cy="154.3" r="3"/><circle cx="245.4" cy="131.7" r="3"/><circle cx="249.6" cy="140.6" r="3"/><circle cx="253.9" cy="110.5" r="3"/><circle cx="258.1" cy="110.5" r="3"/><circle cx="262.3" cy="128.5" r="3"/><circle cx="266.6" cy="129.5" r="3"/><circle cx="270.8" cy="142.8" r="3"/><circle cx="275.1" cy="145.3" r="3"/><circle cx="279.3" cy="158.6" r="3"/><circle cx="283.5" cy="165.4" r="3"/><circle cx="287.8" cy="152.1" r="3"/><circle cx="292" cy="156.4" r="3"/><circle cx="296.3" cy="188" r="3"/><circle cx="300.5" cy="194.8" r="3"/><circle cx="304.8" cy="176.5" r="3"/><circle cx="309" cy="184.4" r="3"/><circle cx="313.2" cy="133.8" r="3"/><circle cx="317.5" cy="120.6" r="3"/><circle cx="321.7" cy="121.6" r="3"/><circle cx="326" cy="118.4" r="3"/><circle cx="330.2" cy="142.8" r="3"/><circle cx="334.4" cy="161.1" r="3"/></g>
</g>
<g stroke="#b8b8b8" stroke-width="1.2" fill="none">
<rect x="164.8" y="27.3" width="169.64999999999998" height="251.09999999999997"/>
<path d="M164.8,27.3h3.5M334.45,27.3h-3.5"/>
<path d="M164.8,63.2h3.5M334.45,63.2h-3.5"/>
<path d="M164.8,99h3.5M334.45,99h-3.5"/>
<path d="M164.8,134.9h3.5M334.45,134.9h-3.5"/>
<path d="M164.8,170.8h3.5M334.45,170.8h-3.5"/>
<path d="M164.8,206.7h3.5M334.45,206.7h-3.5"/>
<path d="M164.8,242.5h3.5M334.45,242.5h-3.5"/>
<path d="M164.8,278.4h3.5M334.45,278.4h-3.5"/>
<path d="M164.8,278.4v-3.5M164.8,27.3v3.5"/>
<path d="M249.6,278.4v-3.5M249.6,27.3v3.5"/>
<path d="M334.4,278.4v-3.5M334.4,27.3v3.5"/>
</g>
<g font-family="'Liberation Sans', Arial, sans-serif" font-size="22.4" fill="#000" stroke="#000" stroke-width="0.3">
<text transform="translate(158.3,34.8) scale(0.92,1)" text-anchor="end">5</text>
<text transform="translate(158.3,70.7) scale(0.92,1)" text-anchor="end">4</text>
<text transform="translate(158.3,106.5) scale(0.92,1)" text-anchor="end">3</text>
<text transform="translate(158.3,142.4) scale(0.92,1)" text-anchor="end">2</text>
<text transform="translate(158.3,178.3) scale(0.92,1)" text-anchor="end">1</text>
<text transform="translate(158.3,214.2) scale(0.92,1)" text-anchor="end">0</text>
<text transform="translate(158.3,250) scale(0.92,1)" text-anchor="end">-1</text>
<text transform="translate(158.3,285.9) scale(0.92,1)" text-anchor="end">-2</text>
<text transform="translate(164.8,303.0) scale(0.92,1)" text-anchor="middle">0</text>
<text transform="translate(249.6,303.0) scale(0.92,1)" text-anchor="middle">20</text>
<text transform="translate(334.4,303.0) scale(0.92,1)" text-anchor="middle">40</text>
</g>
<rect x="834" y="31" width="153" height="117.30000000000001" fill="#fff" stroke="#b8b8b8" stroke-width="1.3"/>
<g font-family="'Liberation Sans', Arial, sans-serif" font-size="22.0" fill="#000" stroke="#000" stroke-width="0.3">
<path d="M845.8,48.3H910.4" stroke="#00ff00" stroke-width="4.3" fill="none"/>
<rect x="872.05" y="42.949999999999996" width="10.7" height="10.7" fill="none" stroke="#00ff00" stroke-width="4.3"/>
<text transform="translate(918.5,55.7) scale(0.9345,1)" text-anchor="start">EKF</text>
<path d="M845.8,75.9H910.4" stroke="#0000ff" stroke-width="4.3" fill="none"/>
<circle cx="877.4" cy="75.9" r="5.2" fill="none" stroke="#0000ff" stroke-width="4"/>
<text transform="translate(918.5,83.9) scale(0.9625,1)" text-anchor="start">IEKF</text>
<path d="M845.8,102.4H910.4" stroke="#ff0000" stroke-width="4.3" fill="none"/>
<circle cx="877.4" cy="102.4" r="5.4" fill="#ff0000" stroke="none"/>
<text transform="translate(918.5,112.1) scale(0.9485,1)" text-anchor="start">AEKF</text>
<path d="M845.8,130H910.4" stroke="#ffff00" stroke-width="4.3" fill="none"/>
<circle cx="877.4" cy="130" r="3" fill="#ffff00" stroke="none"/>
<text transform="translate(918.5,139.7) scale(0.9766,1)" text-anchor="start">AIEKF</text>
</g>
<text x="516.5" y="899.5" text-anchor="middle" font-family="'Liberation Serif', 'Times New Roman', serif" font-weight="bold" font-size="39.5">(a)</text>
</g>
<g id="chartB">
<clipPath id="mcB"><rect x="94.5" y="915.9" width="895.9" height="760.9"/></clipPath>
<g clip-path="url(#mcB)">
<polyline points="104.3,1349.7 106,1305 107.8,1346.7 109.5,1293.1 111.3,1260.4 113,1297.3 114.8,1261.2 116.6,1278.4 118.3,1277.6 120.1,1258 121.8,1319.3 123.6,1410.7 125.4,1271.2 127.1,1339.8 128.9,1343.9 130.6,1319 132.4,1298.9 134.1,1301.1 135.9,1321 137.7,1409.2 139.4,1344.1 141.2,1326.4 142.9,1361.5 144.7,1338.3 146.4,1337.9 148.2,1332.7 150,1360.3 151.7,1329.9 153.5,1295.2 155.2,1323.6 157,1276.1 158.8,1414 160.5,1256.5 162.3,1273.9 164,1251 165.8,1400.3 167.5,1367.1 169.3,1288.4 171.1,1329.1 172.8,1376.3 174.6,1319.3 176.3,1314 178.1,1351.1 179.9,1239.5 181.6,1265.6 183.4,1214.1 185.1,1233.6 186.9,1398.5 188.6,1224.6 190.4,1279.3 192.2,1340.6 193.9,1338.9 195.7,1313.7 197.4,1323.7 199.2,1359.4 200.9,1335.2 202.7,1336.8 204.5,1312.1 206.2,1300.6 208,1305 209.7,1320 211.5,1382.5 213.3,1319.9 215,1399.9 216.8,1397.8 218.5,1437.2 220.3,1398.8 222,1436 223.8,1361.5 225.6,1341.6 227.3,1302.4 229.1,1327.1 230.8,1333.1 232.6,1306.1 234.3,1336.5 236.1,1410.9 237.9,1435.7 239.6,1434.5 241.4,1381.3 243.1,1332.7 244.9,1296.9 246.7,1313.9 248.4,1305 250.2,1295 251.9,1316.2 253.7,1401.4 255.4,1295.1 257.2,1360.4 259,1415.1 260.7,1414.5 262.5,1388.5 264.2,1425 266,1319.4 267.8,1352.6 269.5,1390.3 271.3,1351.7 273,1323.2 274.8,1268.1 276.5,1286 278.3,1246.4 280.1,1300.1 281.8,1283.9 283.6,1315.8 285.3,1317.4 287.1,1352.5 288.8,1314.6 290.6,1341.1 292.4,1351.3 294.1,1359.9 295.9,1359.9 297.6,1350.4 299.4,1365.3 301.2,1392.2 302.9,1425.6 304.7,1407.7 306.4,1357.4 308.2,1295.7 309.9,1324.9 311.7,1359.6 313.5,1299.1 315.2,1357.4 317,1306.2 318.7,1342 320.5,1271.4 322.2,1344.7 324,1350.6 325.8,1427.1 327.5,1349.5 329.3,1360.2 331,1456.5 332.8,1526.8 334.6,1505.6 336.3,1438.9 338.1,1403.1 339.8,1188.9 341.6,1409.6 343.3,1362.5 345.1,1523.5 346.9,1380.7 348.6,1468.7 350.4,1332.7 352.1,1279.7 353.9,1279.6 355.7,1397 357.4,1377.7 359.2,1420.7 360.9,1468.7 362.7,1537.8 364.4,1404.7 366.2,1191.9 368,1322.4 369.7,1477.7 371.5,1385.1 373.2,1411.5 375,1444.1 376.7,1573.5 378.5,1471.5 380.3,1486.6 382,1374 383.8,1379.2 385.5,1279.7 387.3,1313.9 389.1,1495.5 390.8,1396.6 392.6,1384.9 394.3,1413.3 396.1,1538.7 397.8,1413.7 399.6,1426.5 401.4,1501.5 403.1,1345.2 404.9,1345.5 406.6,1255.3 408.4,967.1 410.1,1504.5 411.9,1373.2 413.7,1349.3 415.4,1638.4 417.2,1507.4 418.9,1489.6 420.7,1484.7 422.5,1504.5 424.2,1426.7 426,1477.7 427.7,1410.1 429.5,1350.3 431.2,1306.8 433,1346.7 434.8,1187.4 436.5,1372 438.3,1426.9 440,1486.6 441.8,1437.2 443.6,1455.1 445.3,1427.4 447.1,1449 448.8,1398.9 450.6,1497.6 452.3,1410.4 454.1,1401.2 455.9,1374.1 457.6,1368.2 459.4,1459.8 461.1,1397.4 462.9,1367.4 464.6,1391.9 466.4,1456.9 468.2,1331.8 469.9,1374.9 471.7,1427.8 473.4,1417.1 475.2,1456.8 477,1457.3 478.7,1393.6 480.5,1377.3 482.2,1358.3 484,1418.8 485.7,1260.4 487.5,1484.8 489.3,1382.3 491,1439.5 492.8,1421.7 494.5,1419.8 496.3,1447.9 498.1,1364.9 499.8,1407.3 501.6,1408 503.3,1380.9 505.1,1383.4 506.8,1293.1 508.6,1423.3 510.4,1384.7 512.1,1423 513.9,1379.3 515.6,1377.3 517.4,1308 519.1,1469.6 520.9,1392 522.7,1412.4 524.4,1308.1 526.2,1367.4 527.9,1400.2 529.7,1394.6 531.5,1375.5 533.2,1386.7 535,1378.6 536.7,1389 538.5,1403.2 540.2,1358.2 542,1358.4 543.8,1357.2 545.5,1375.1 547.3,1344.5 549,1342 550.8,1379.5 552.5,1380.4 554.3,1394.7 556.1,1383.2 557.8,1379.5 559.6,1350.1 561.3,1383.1 563.1,1381.4 564.9,1355.7 566.6,1393.9 568.4,1370.5 570.1,1444 571.9,1385.1 573.6,1402.5 575.4,1356.2 577.2,1378.2 578.9,1393.7 580.7,1379.4 582.4,1365.1 584.2,1405.9 586,1330.9 587.7,1341.6 589.5,1393.7 591.2,1379.4 593,1392.5 594.7,1366.3 596.5,1378.2 598.3,1364 600,1375.9 601.8,1335.1 603.5,1386.6 605.3,1360.4 607,1390.7 608.8,1429.4 610.6,1362.8 612.3,1352 614.1,1376.5 615.8,1394.9 617.6,1352 619.4,1326.1 621.1,1430.3 622.9,1414.3 624.6,1391.3 626.4,1364 628.1,1375.3 629.9,1416 631.7,1377 633.4,1390.1 635.2,1380.6 636.9,1365.1 638.7,1336.9 640.4,1408.9 642.2,1385.4 644,1383.9 645.7,1394.3 647.5,1352 649.2,1402.5 651,1365.1 652.8,1325.8 654.5,1420.3 656.3,1347.9 658,1334.2 659.8,1389.1 661.5,1391.6 663.3,1389.8 665.1,1357.8 666.8,1324.9 668.6,1398.5 670.3,1384.5 672.1,1362.7 673.9,1393.7 675.6,1400.2 677.4,1401.5 679.1,1353.6 680.9,1422.3 682.6,1347.9 684.4,1362.9 686.2,1347.2 687.9,1356 689.7,1337.5 691.4,1321.9 693.2,1311.7 694.9,1352.6 696.7,1316.9 698.5,1350.3 700.2,1415.8 702,1398.7 703.7,1412.2 705.5,1372.1 707.3,1419.4 709,1374 710.8,1332.4 712.5,1317.9 714.3,1310.7 716,1310.6 717.8,1365.6 719.6,1359.6 721.3,1358 723.1,1388.4 724.8,1412.2 726.6,1459.8 728.3,1468.7 730.1,1441.9 731.9,1400.3 733.6,1437.7 735.4,1383.1 737.1,1335.5 738.9,1311.7 740.7,1328.8 742.4,1308 744.2,1274.6 745.9,1311 747.7,1395.8 749.4,1346.4 751.2,1323.3 753,1360.8 754.7,1380 756.5,1334.5 758.2,1339.8 760,1323.5 761.8,1325.8 763.5,1302.8 765.3,1358.8 767,1279.4 768.8,1342.1 770.5,1301.3 772.3,1314.7 774.1,1305 775.8,1305.4 777.6,1348.8 779.3,1394.3 781.1,1401.1 782.8,1381.4 784.6,1376 786.4,1373.4 788.1,1354.7 789.9,1350.2 791.6,1339.2 793.4,1336.8 795.2,1284.5 796.9,1352.1 798.7,1377.1 800.4,1342.3 802.2,1318.6 803.9,1314.6 805.7,1343.1 807.5,1320.7 809.2,1361.3 811,1368.4 812.7,1302.9 814.5,1356.6 816.2,1321.9 818,1329.9 819.8,1377.1 821.5,1355.6 823.3,1347.4 825,1372.8 826.8,1390.5 828.6,1337.5 830.3,1336.4 832.1,1339.8 833.8,1378.7 835.6,1376.6 837.3,1361.9 839.1,1398.9 840.9,1351.6 842.6,1366.2 844.4,1382.9 846.1,1399.1 847.9,1344.4 849.6,1279.7 851.4,1306.2 853.2,1349.5 854.9,1306.7 856.7,1333.5 858.4,1334.4 860.2,1341.5 862,1372.3 863.7,1369.5 865.5,1328.5 867.2,1369.7 869,1362.6 870.7,1415.2 872.5,1364.4 874.3,1361.4 876,1343.3 877.8,1427.1 879.5,1387.6 881.3,1393 883.1,1391.6 884.8,1293.1 886.6,1332.5 888.3,1409.2 890.1,1293.1 891.8,1281.2 893.6,1272.3 895.4,1260.4 897.1,1266.3 898.9,1350.2 900.6,1334.6 902.4,1414.9 904.1,1422.3 905.9,1309.5 907.7,1254.7 909.4,1279.2 911.2,1304.2 912.9,1269.3 914.7,1333.9 916.5,1319.1 918.2,1430.6 920,1370.1 921.7,1263.3 923.5,1423.4 925.2,1376.8 927,1392 928.8,1256.5 930.5,1347.7 932.3,1393.1 934,1337.9 935.8,1284.2 937.5,1397.7 939.3,1419 941.1,1340.8 942.8,1355 944.6,1297.5 946.3,1279.8 948.1,1335.2 949.9,1225.8 951.6,1372.7 953.4,1397.5 955.1,1440.7 956.9,1381.1 958.6,1425.2 960.4,1393.7 962.2,1360.8 963.9,1285.7" fill="none" stroke="#00ff00" stroke-width="4.3" stroke-linejoin="miter" stroke-miterlimit="8"/>
<path d="M99.1,1344.5h10.4v10.4h-10.4zM100.8,1299.8h10.4v10.4h-10.4zM102.6,1341.5h10.4v10.4h-10.4zM104.3,1287.9h10.4v10.4h-10.4zM106.1,1255.2h10.4v10.4h-10.4zM107.8,1292.1h10.4v10.4h-10.4zM109.6,1256h10.4v10.4h-10.4zM111.4,1273.2h10.4v10.4h-10.4zM113.1,1272.4h10.4v10.4h-10.4zM114.9,1252.8h10.4v10.4h-10.4zM116.6,1314.1h10.4v10.4h-10.4zM118.4,1405.5h10.4v10.4h-10.4zM120.2,1266h10.4v10.4h-10.4zM121.9,1334.6h10.4v10.4h-10.4zM123.7,1338.7h10.4v10.4h-10.4zM125.4,1313.8h10.4v10.4h-10.4zM127.2,1293.7h10.4v10.4h-10.4zM128.9,1295.9h10.4v10.4h-10.4zM130.7,1315.8h10.4v10.4h-10.4zM132.5,1404h10.4v10.4h-10.4zM134.2,1338.9h10.4v10.4h-10.4zM136,1321.2h10.4v10.4h-10.4zM137.7,1356.3h10.4v10.4h-10.4zM139.5,1333.1h10.4v10.4h-10.4zM141.2,1332.7h10.4v10.4h-10.4zM143,1327.5h10.4v10.4h-10.4zM144.8,1355.1h10.4v10.4h-10.4zM146.5,1324.7h10.4v10.4h-10.4zM148.3,1290h10.4v10.4h-10.4zM150,1318.4h10.4v10.4h-10.4zM151.8,1270.9h10.4v10.4h-10.4zM153.6,1408.8h10.4v10.4h-10.4zM155.3,1251.3h10.4v10.4h-10.4zM157.1,1268.7h10.4v10.4h-10.4zM158.8,1245.8h10.4v10.4h-10.4zM160.6,1395.1h10.4v10.4h-10.4zM162.3,1361.9h10.4v10.4h-10.4zM164.1,1283.2h10.4v10.4h-10.4zM165.9,1323.9h10.4v10.4h-10.4zM167.6,1371.1h10.4v10.4h-10.4zM169.4,1314.1h10.4v10.4h-10.4zM171.1,1308.8h10.4v10.4h-10.4zM172.9,1345.9h10.4v10.4h-10.4zM174.7,1234.3h10.4v10.4h-10.4zM176.4,1260.4h10.4v10.4h-10.4zM178.2,1208.9h10.4v10.4h-10.4zM179.9,1228.4h10.4v10.4h-10.4zM181.7,1393.3h10.4v10.4h-10.4zM183.4,1219.4h10.4v10.4h-10.4zM185.2,1274.1h10.4v10.4h-10.4zM187,1335.4h10.4v10.4h-10.4zM188.7,1333.7h10.4v10.4h-10.4zM190.5,1308.5h10.4v10.4h-10.4zM192.2,1318.5h10.4v10.4h-10.4zM194,1354.2h10.4v10.4h-10.4zM195.7,1330h10.4v10.4h-10.4zM197.5,1331.6h10.4v10.4h-10.4zM199.3,1306.9h10.4v10.4h-10.4zM201,1295.4h10.4v10.4h-10.4zM202.8,1299.8h10.4v10.4h-10.4zM204.5,1314.8h10.4v10.4h-10.4zM206.3,1377.3h10.4v10.4h-10.4zM208.1,1314.7h10.4v10.4h-10.4zM209.8,1394.7h10.4v10.4h-10.4zM211.6,1392.6h10.4v10.4h-10.4zM213.3,1432h10.4v10.4h-10.4zM215.1,1393.6h10.4v10.4h-10.4zM216.8,1430.8h10.4v10.4h-10.4zM218.6,1356.3h10.4v10.4h-10.4zM220.4,1336.4h10.4v10.4h-10.4zM222.1,1297.2h10.4v10.4h-10.4zM223.9,1321.9h10.4v10.4h-10.4zM225.6,1327.9h10.4v10.4h-10.4zM227.4,1300.9h10.4v10.4h-10.4zM229.2,1331.3h10.4v10.4h-10.4zM230.9,1405.7h10.4v10.4h-10.4zM232.7,1430.5h10.4v10.4h-10.4zM234.4,1429.3h10.4v10.4h-10.4zM236.2,1376.1h10.4v10.4h-10.4zM237.9,1327.5h10.4v10.4h-10.4zM239.7,1291.7h10.4v10.4h-10.4zM241.5,1308.7h10.4v10.4h-10.4zM243.2,1299.8h10.4v10.4h-10.4zM245,1289.8h10.4v10.4h-10.4zM246.7,1311h10.4v10.4h-10.4zM248.5,1396.2h10.4v10.4h-10.4zM250.2,1289.9h10.4v10.4h-10.4zM252,1355.2h10.4v10.4h-10.4zM253.8,1409.9h10.4v10.4h-10.4zM255.5,1409.3h10.4v10.4h-10.4zM257.3,1383.3h10.4v10.4h-10.4zM259,1419.8h10.4v10.4h-10.4zM260.8,1314.2h10.4v10.4h-10.4zM262.6,1347.4h10.4v10.4h-10.4zM264.3,1385.1h10.4v10.4h-10.4zM266.1,1346.5h10.4v10.4h-10.4zM267.8,1318h10.4v10.4h-10.4zM269.6,1262.9h10.4v10.4h-10.4zM271.3,1280.8h10.4v10.4h-10.4zM273.1,1241.2h10.4v10.4h-10.4zM274.9,1294.9h10.4v10.4h-10.4zM276.6,1278.7h10.4v10.4h-10.4zM278.4,1310.6h10.4v10.4h-10.4zM280.1,1312.2h10.4v10.4h-10.4zM281.9,1347.3h10.4v10.4h-10.4zM283.6,1309.4h10.4v10.4h-10.4zM285.4,1335.9h10.4v10.4h-10.4zM287.2,1346.1h10.4v10.4h-10.4zM288.9,1354.7h10.4v10.4h-10.4zM290.7,1354.7h10.4v10.4h-10.4zM292.4,1345.2h10.4v10.4h-10.4zM294.2,1360.1h10.4v10.4h-10.4zM296,1387h10.4v10.4h-10.4zM297.7,1420.4h10.4v10.4h-10.4zM299.5,1402.5h10.4v10.4h-10.4zM301.2,1352.2h10.4v10.4h-10.4zM303,1290.5h10.4v10.4h-10.4zM304.7,1319.7h10.4v10.4h-10.4zM306.5,1354.4h10.4v10.4h-10.4zM308.3,1293.9h10.4v10.4h-10.4zM310,1352.2h10.4v10.4h-10.4zM311.8,1301h10.4v10.4h-10.4zM313.5,1336.8h10.4v10.4h-10.4zM315.3,1266.2h10.4v10.4h-10.4zM317.1,1339.5h10.4v10.4h-10.4zM318.8,1345.4h10.4v10.4h-10.4zM320.6,1421.9h10.4v10.4h-10.4zM322.3,1344.3h10.4v10.4h-10.4zM324.1,1355h10.4v10.4h-10.4zM325.8,1451.3h10.4v10.4h-10.4zM327.6,1521.6h10.4v10.4h-10.4zM329.4,1500.4h10.4v10.4h-10.4zM331.1,1433.7h10.4v10.4h-10.4zM332.9,1397.9h10.4v10.4h-10.4zM334.6,1183.7h10.4v10.4h-10.4zM336.4,1404.4h10.4v10.4h-10.4zM338.1,1357.3h10.4v10.4h-10.4zM339.9,1518.3h10.4v10.4h-10.4zM341.7,1375.5h10.4v10.4h-10.4zM343.4,1463.5h10.4v10.4h-10.4zM345.2,1327.5h10.4v10.4h-10.4zM346.9,1274.5h10.4v10.4h-10.4zM348.7,1274.4h10.4v10.4h-10.4zM350.5,1391.8h10.4v10.4h-10.4zM352.2,1372.5h10.4v10.4h-10.4zM354,1415.5h10.4v10.4h-10.4zM355.7,1463.5h10.4v10.4h-10.4zM357.5,1532.6h10.4v10.4h-10.4zM359.2,1399.5h10.4v10.4h-10.4zM361,1186.7h10.4v10.4h-10.4zM362.8,1317.2h10.4v10.4h-10.4zM364.5,1472.5h10.4v10.4h-10.4zM366.3,1379.9h10.4v10.4h-10.4zM368,1406.3h10.4v10.4h-10.4zM369.8,1438.9h10.4v10.4h-10.4zM371.5,1568.3h10.4v10.4h-10.4zM373.3,1466.3h10.4v10.4h-10.4zM375.1,1481.4h10.4v10.4h-10.4zM376.8,1368.8h10.4v10.4h-10.4zM378.6,1374h10.4v10.4h-10.4zM380.3,1274.5h10.4v10.4h-10.4zM382.1,1308.7h10.4v10.4h-10.4zM383.9,1490.3h10.4v10.4h-10.4zM385.6,1391.4h10.4v10.4h-10.4zM387.4,1379.7h10.4v10.4h-10.4zM389.1,1408.1h10.4v10.4h-10.4zM390.9,1533.5h10.4v10.4h-10.4zM392.6,1408.5h10.4v10.4h-10.4zM394.4,1421.3h10.4v10.4h-10.4zM396.2,1496.3h10.4v10.4h-10.4zM397.9,1340h10.4v10.4h-10.4zM399.7,1340.3h10.4v10.4h-10.4zM401.4,1250.1h10.4v10.4h-10.4zM403.2,961.9h10.4v10.4h-10.4zM404.9,1499.3h10.4v10.4h-10.4zM406.7,1368h10.4v10.4h-10.4zM408.5,1344.1h10.4v10.4h-10.4zM410.2,1633.2h10.4v10.4h-10.4zM412,1502.2h10.4v10.4h-10.4zM413.7,1484.4h10.4v10.4h-10.4zM415.5,1479.5h10.4v10.4h-10.4zM417.3,1499.3h10.4v10.4h-10.4zM419,1421.5h10.4v10.4h-10.4zM420.8,1472.5h10.4v10.4h-10.4zM422.5,1404.9h10.4v10.4h-10.4zM424.3,1345.1h10.4v10.4h-10.4zM426,1301.6h10.4v10.4h-10.4zM427.8,1341.5h10.4v10.4h-10.4zM429.6,1182.2h10.4v10.4h-10.4zM431.3,1366.8h10.4v10.4h-10.4zM433.1,1421.7h10.4v10.4h-10.4zM434.8,1481.4h10.4v10.4h-10.4zM436.6,1432h10.4v10.4h-10.4zM438.4,1449.9h10.4v10.4h-10.4zM440.1,1422.2h10.4v10.4h-10.4zM441.9,1443.8h10.4v10.4h-10.4zM443.6,1393.7h10.4v10.4h-10.4zM445.4,1492.4h10.4v10.4h-10.4zM447.1,1405.2h10.4v10.4h-10.4zM448.9,1396h10.4v10.4h-10.4zM450.7,1368.9h10.4v10.4h-10.4zM452.4,1363h10.4v10.4h-10.4zM454.2,1454.6h10.4v10.4h-10.4zM455.9,1392.2h10.4v10.4h-10.4zM457.7,1362.2h10.4v10.4h-10.4zM459.4,1386.7h10.4v10.4h-10.4zM461.2,1451.7h10.4v10.4h-10.4zM463,1326.6h10.4v10.4h-10.4zM464.7,1369.7h10.4v10.4h-10.4zM466.5,1422.6h10.4v10.4h-10.4zM468.2,1411.9h10.4v10.4h-10.4zM470,1451.6h10.4v10.4h-10.4zM471.8,1452.1h10.4v10.4h-10.4zM473.5,1388.4h10.4v10.4h-10.4zM475.3,1372.1h10.4v10.4h-10.4zM477,1353.1h10.4v10.4h-10.4zM478.8,1413.6h10.4v10.4h-10.4zM480.5,1255.2h10.4v10.4h-10.4zM482.3,1479.6h10.4v10.4h-10.4zM484.1,1377.1h10.4v10.4h-10.4zM485.8,1434.3h10.4v10.4h-10.4zM487.6,1416.5h10.4v10.4h-10.4zM489.3,1414.6h10.4v10.4h-10.4zM491.1,1442.7h10.4v10.4h-10.4zM492.9,1359.7h10.4v10.4h-10.4zM494.6,1402.1h10.4v10.4h-10.4zM496.4,1402.8h10.4v10.4h-10.4zM498.1,1375.7h10.4v10.4h-10.4zM499.9,1378.2h10.4v10.4h-10.4zM501.6,1287.9h10.4v10.4h-10.4zM503.4,1418.1h10.4v10.4h-10.4zM505.2,1379.5h10.4v10.4h-10.4zM506.9,1417.8h10.4v10.4h-10.4zM508.7,1374.1h10.4v10.4h-10.4zM510.4,1372.1h10.4v10.4h-10.4zM512.2,1302.8h10.4v10.4h-10.4zM513.9,1464.4h10.4v10.4h-10.4zM515.7,1386.8h10.4v10.4h-10.4zM517.5,1407.2h10.4v10.4h-10.4zM519.2,1302.9h10.4v10.4h-10.4zM521,1362.2h10.4v10.4h-10.4zM522.7,1395h10.4v10.4h-10.4zM524.5,1389.4h10.4v10.4h-10.4zM526.3,1370.3h10.4v10.4h-10.4zM528,1381.5h10.4v10.4h-10.4zM529.8,1373.4h10.4v10.4h-10.4zM531.5,1383.8h10.4v10.4h-10.4zM533.3,1398h10.4v10.4h-10.4zM535,1353h10.4v10.4h-10.4zM536.8,1353.2h10.4v10.4h-10.4zM538.6,1352h10.4v10.4h-10.4zM540.3,1369.9h10.4v10.4h-10.4zM542.1,1339.3h10.4v10.4h-10.4zM543.8,1336.8h10.4v10.4h-10.4zM545.6,1374.3h10.4v10.4h-10.4zM547.3,1375.2h10.4v10.4h-10.4zM549.1,1389.5h10.4v10.4h-10.4zM550.9,1378h10.4v10.4h-10.4zM552.6,1374.3h10.4v10.4h-10.4zM554.4,1344.9h10.4v10.4h-10.4zM556.1,1377.9h10.4v10.4h-10.4zM557.9,1376.2h10.4v10.4h-10.4zM559.7,1350.5h10.4v10.4h-10.4zM561.4,1388.7h10.4v10.4h-10.4zM563.2,1365.3h10.4v10.4h-10.4zM564.9,1438.8h10.4v10.4h-10.4zM566.7,1379.9h10.4v10.4h-10.4zM568.4,1397.3h10.4v10.4h-10.4zM570.2,1351h10.4v10.4h-10.4zM572,1373h10.4v10.4h-10.4zM573.7,1388.5h10.4v10.4h-10.4zM575.5,1374.2h10.4v10.4h-10.4zM577.2,1359.9h10.4v10.4h-10.4zM579,1400.7h10.4v10.4h-10.4zM580.8,1325.7h10.4v10.4h-10.4zM582.5,1336.4h10.4v10.4h-10.4zM584.3,1388.5h10.4v10.4h-10.4zM586,1374.2h10.4v10.4h-10.4zM587.8,1387.3h10.4v10.4h-10.4zM589.5,1361.1h10.4v10.4h-10.4zM591.3,1373h10.4v10.4h-10.4zM593.1,1358.8h10.4v10.4h-10.4zM594.8,1370.7h10.4v10.4h-10.4zM596.6,1329.9h10.4v10.4h-10.4zM598.3,1381.4h10.4v10.4h-10.4zM600.1,1355.2h10.4v10.4h-10.4zM601.8,1385.5h10.4v10.4h-10.4zM603.6,1424.2h10.4v10.4h-10.4zM605.4,1357.6h10.4v10.4h-10.4zM607.1,1346.8h10.4v10.4h-10.4zM608.9,1371.3h10.4v10.4h-10.4zM610.6,1389.7h10.4v10.4h-10.4zM612.4,1346.8h10.4v10.4h-10.4zM614.2,1320.9h10.4v10.4h-10.4zM615.9,1425.1h10.4v10.4h-10.4zM617.7,1409.1h10.4v10.4h-10.4zM619.4,1386.1h10.4v10.4h-10.4zM621.2,1358.8h10.4v10.4h-10.4zM622.9,1370.1h10.4v10.4h-10.4zM624.7,1410.8h10.4v10.4h-10.4zM626.5,1371.8h10.4v10.4h-10.4zM628.2,1384.9h10.4v10.4h-10.4zM630,1375.4h10.4v10.4h-10.4zM631.7,1359.9h10.4v10.4h-10.4zM633.5,1331.7h10.4v10.4h-10.4zM635.2,1403.7h10.4v10.4h-10.4zM637,1380.2h10.4v10.4h-10.4zM638.8,1378.7h10.4v10.4h-10.4zM640.5,1389.1h10.4v10.4h-10.4zM642.3,1346.8h10.4v10.4h-10.4zM644,1397.3h10.4v10.4h-10.4zM645.8,1359.9h10.4v10.4h-10.4zM647.6,1320.6h10.4v10.4h-10.4zM649.3,1415.1h10.4v10.4h-10.4zM651.1,1342.7h10.4v10.4h-10.4zM652.8,1329h10.4v10.4h-10.4zM654.6,1383.9h10.4v10.4h-10.4zM656.3,1386.4h10.4v10.4h-10.4zM658.1,1384.6h10.4v10.4h-10.4zM659.9,1352.6h10.4v10.4h-10.4zM661.6,1319.7h10.4v10.4h-10.4zM663.4,1393.3h10.4v10.4h-10.4zM665.1,1379.3h10.4v10.4h-10.4zM666.9,1357.5h10.4v10.4h-10.4zM668.6,1388.5h10.4v10.4h-10.4zM670.4,1395h10.4v10.4h-10.4zM672.2,1396.3h10.4v10.4h-10.4zM673.9,1348.4h10.4v10.4h-10.4zM675.7,1417.1h10.4v10.4h-10.4zM677.4,1342.7h10.4v10.4h-10.4zM679.2,1357.7h10.4v10.4h-10.4zM681,1342h10.4v10.4h-10.4zM682.7,1350.8h10.4v10.4h-10.4zM684.5,1332.3h10.4v10.4h-10.4zM686.2,1316.7h10.4v10.4h-10.4zM688,1306.5h10.4v10.4h-10.4zM689.7,1347.4h10.4v10.4h-10.4zM691.5,1311.7h10.4v10.4h-10.4zM693.3,1345.1h10.4v10.4h-10.4zM695,1410.6h10.4v10.4h-10.4zM696.8,1393.5h10.4v10.4h-10.4zM698.5,1407h10.4v10.4h-10.4zM700.3,1366.9h10.4v10.4h-10.4zM702.1,1414.2h10.4v10.4h-10.4zM703.8,1368.8h10.4v10.4h-10.4zM705.6,1327.2h10.4v10.4h-10.4zM707.3,1312.7h10.4v10.4h-10.4zM709.1,1305.5h10.4v10.4h-10.4zM710.8,1305.4h10.4v10.4h-10.4zM712.6,1360.4h10.4v10.4h-10.4zM714.4,1354.4h10.4v10.4h-10.4zM716.1,1352.8h10.4v10.4h-10.4zM717.9,1383.2h10.4v10.4h-10.4zM719.6,1407h10.4v10.4h-10.4zM721.4,1454.6h10.4v10.4h-10.4zM723.1,1463.5h10.4v10.4h-10.4zM724.9,1436.7h10.4v10.4h-10.4zM726.7,1395.1h10.4v10.4h-10.4zM728.4,1432.5h10.4v10.4h-10.4zM730.2,1377.9h10.4v10.4h-10.4zM731.9,1330.3h10.4v10.4h-10.4zM733.7,1306.5h10.4v10.4h-10.4zM735.5,1323.6h10.4v10.4h-10.4zM737.2,1302.8h10.4v10.4h-10.4zM739,1269.4h10.4v10.4h-10.4zM740.7,1305.8h10.4v10.4h-10.4zM742.5,1390.6h10.4v10.4h-10.4zM744.2,1341.2h10.4v10.4h-10.4zM746,1318.1h10.4v10.4h-10.4zM747.8,1355.6h10.4v10.4h-10.4zM749.5,1374.8h10.4v10.4h-10.4zM751.3,1329.3h10.4v10.4h-10.4zM753,1334.6h10.4v10.4h-10.4zM754.8,1318.3h10.4v10.4h-10.4zM756.5,1320.6h10.4v10.4h-10.4zM758.3,1297.6h10.4v10.4h-10.4zM760.1,1353.6h10.4v10.4h-10.4zM761.8,1274.2h10.4v10.4h-10.4zM763.6,1336.9h10.4v10.4h-10.4zM765.3,1296.1h10.4v10.4h-10.4zM767.1,1309.5h10.4v10.4h-10.4zM768.9,1299.8h10.4v10.4h-10.4zM770.6,1300.2h10.4v10.4h-10.4zM772.4,1343.6h10.4v10.4h-10.4zM774.1,1389.1h10.4v10.4h-10.4zM775.9,1395.9h10.4v10.4h-10.4zM777.6,1376.2h10.4v10.4h-10.4zM779.4,1370.8h10.4v10.4h-10.4zM781.2,1368.2h10.4v10.4h-10.4zM782.9,1349.5h10.4v10.4h-10.4zM784.7,1345h10.4v10.4h-10.4zM786.4,1334h10.4v10.4h-10.4zM788.2,1331.6h10.4v10.4h-10.4zM790,1279.3h10.4v10.4h-10.4zM791.7,1346.9h10.4v10.4h-10.4zM793.5,1371.9h10.4v10.4h-10.4zM795.2,1337.1h10.4v10.4h-10.4zM797,1313.4h10.4v10.4h-10.4zM798.7,1309.4h10.4v10.4h-10.4zM800.5,1337.9h10.4v10.4h-10.4zM802.3,1315.5h10.4v10.4h-10.4zM804,1356.1h10.4v10.4h-10.4zM805.8,1363.2h10.4v10.4h-10.4zM807.5,1297.7h10.4v10.4h-10.4zM809.3,1351.4h10.4v10.4h-10.4zM811,1316.7h10.4v10.4h-10.4zM812.8,1324.7h10.4v10.4h-10.4zM814.6,1371.9h10.4v10.4h-10.4zM816.3,1350.4h10.4v10.4h-10.4zM818.1,1342.2h10.4v10.4h-10.4zM819.8,1367.6h10.4v10.4h-10.4zM821.6,1385.3h10.4v10.4h-10.4zM823.4,1332.3h10.4v10.4h-10.4zM825.1,1331.2h10.4v10.4h-10.4zM826.9,1334.6h10.4v10.4h-10.4zM828.6,1373.5h10.4v10.4h-10.4zM830.4,1371.4h10.4v10.4h-10.4zM832.1,1356.7h10.4v10.4h-10.4zM833.9,1393.7h10.4v10.4h-10.4zM835.7,1346.4h10.4v10.4h-10.4zM837.4,1361h10.4v10.4h-10.4zM839.2,1377.7h10.4v10.4h-10.4zM840.9,1393.9h10.4v10.4h-10.4zM842.7,1339.2h10.4v10.4h-10.4zM844.4,1274.5h10.4v10.4h-10.4zM846.2,1301h10.4v10.4h-10.4zM848,1344.3h10.4v10.4h-10.4zM849.7,1301.5h10.4v10.4h-10.4zM851.5,1328.3h10.4v10.4h-10.4zM853.2,1329.2h10.4v10.4h-10.4zM855,1336.3h10.4v10.4h-10.4zM856.8,1367.1h10.4v10.4h-10.4zM858.5,1364.3h10.4v10.4h-10.4zM860.3,1323.3h10.4v10.4h-10.4zM862,1364.5h10.4v10.4h-10.4zM863.8,1357.4h10.4v10.4h-10.4zM865.5,1410h10.4v10.4h-10.4zM867.3,1359.2h10.4v10.4h-10.4zM869.1,1356.2h10.4v10.4h-10.4zM870.8,1338.1h10.4v10.4h-10.4zM872.6,1421.9h10.4v10.4h-10.4zM874.3,1382.4h10.4v10.4h-10.4zM876.1,1387.8h10.4v10.4h-10.4zM877.9,1386.4h10.4v10.4h-10.4zM879.6,1287.9h10.4v10.4h-10.4zM881.4,1327.3h10.4v10.4h-10.4zM883.1,1404h10.4v10.4h-10.4zM884.9,1287.9h10.4v10.4h-10.4zM886.6,1276h10.4v10.4h-10.4zM888.4,1267.1h10.4v10.4h-10.4zM890.2,1255.2h10.4v10.4h-10.4zM891.9,1261.1h10.4v10.4h-10.4zM893.7,1345h10.4v10.4h-10.4zM895.4,1329.4h10.4v10.4h-10.4zM897.2,1409.7h10.4v10.4h-10.4zM898.9,1417.1h10.4v10.4h-10.4zM900.7,1304.3h10.4v10.4h-10.4zM902.5,1249.5h10.4v10.4h-10.4zM904.2,1274h10.4v10.4h-10.4zM906,1299h10.4v10.4h-10.4zM907.7,1264.1h10.4v10.4h-10.4zM909.5,1328.7h10.4v10.4h-10.4zM911.3,1313.9h10.4v10.4h-10.4zM913,1425.4h10.4v10.4h-10.4zM914.8,1364.9h10.4v10.4h-10.4zM916.5,1258.1h10.4v10.4h-10.4zM918.3,1418.2h10.4v10.4h-10.4zM920,1371.6h10.4v10.4h-10.4zM921.8,1386.8h10.4v10.4h-10.4zM923.6,1251.3h10.4v10.4h-10.4zM925.3,1342.5h10.4v10.4h-10.4zM927.1,1387.9h10.4v10.4h-10.4zM928.8,1332.7h10.4v10.4h-10.4zM930.6,1279h10.4v10.4h-10.4zM932.3,1392.5h10.4v10.4h-10.4zM934.1,1413.8h10.4v10.4h-10.4zM935.9,1335.6h10.4v10.4h-10.4zM937.6,1349.8h10.4v10.4h-10.4zM939.4,1292.3h10.4v10.4h-10.4zM941.1,1274.6h10.4v10.4h-10.4zM942.9,1330h10.4v10.4h-10.4zM944.7,1220.6h10.4v10.4h-10.4zM946.4,1367.5h10.4v10.4h-10.4zM948.2,1392.3h10.4v10.4h-10.4zM949.9,1435.5h10.4v10.4h-10.4zM951.7,1375.9h10.4v10.4h-10.4zM953.4,1420h10.4v10.4h-10.4zM955.2,1388.5h10.4v10.4h-10.4zM957,1355.6h10.4v10.4h-10.4zM958.7,1280.5h10.4v10.4h-10.4z" fill="none" stroke="#00ff00" stroke-width="4.2"/>
</g>
<g clip-path="url(#mcB)">
<polyline points="104.3,1305 106,1342.5 107.8,1351.1 109.5,1311 111.3,1348.8 113,1275.2 114.8,1293.1 116.6,1272.3 118.3,1263.3 120.1,1262.1 121.8,1305 123.6,1346.7 125.4,1334.8 127.1,1340 128.9,1357.9 130.6,1354.3 132.4,1341.1 134.1,1315.2 135.9,1327.1 137.7,1363.6 139.4,1384.2 141.2,1350.6 142.9,1354.4 144.7,1358.2 146.4,1344.6 148.2,1351 150,1330.5 151.7,1302.1 153.5,1323.4 155.2,1333.6 157,1261.8 158.8,1286.5 160.5,1298.6 162.3,1242.3 164,1299.2 165.8,1294.4 167.5,1352.3 169.3,1340.3 171.1,1303.7 172.8,1374.9 174.6,1360.9 176.3,1375.9 178.1,1331.6 179.9,1278.8 181.6,1298.6 183.4,1267 185.1,1259.3 186.9,1263.9 188.6,1244.9 190.4,1299.2 192.2,1332.6 193.9,1345.5 195.7,1300.2 197.4,1341.1 199.2,1344.8 200.9,1376.6 202.7,1322.6 204.5,1316.3 206.2,1338.3 208,1269.6 209.7,1313.3 211.5,1348 213.3,1363.1 215,1353.2 216.8,1413.3 218.5,1385.4 220.3,1370.6 222,1301.2 223.8,1371.5 225.6,1329 227.3,1311.1 229.1,1315.7 230.8,1316.2 232.6,1323.3 234.3,1361.4 236.1,1404.3 237.9,1401 239.6,1348.9 241.4,1352.6 243.1,1346.8 244.9,1341.6 246.7,1280.5 248.4,1285 250.2,1288.5 251.9,1314.3 253.7,1358.1 255.4,1337.9 257.2,1333.9 259,1399.1 260.7,1414 262.5,1395.6 264.2,1362.1 266,1334.9 267.8,1335.5 269.5,1358.5 271.3,1304.4 273,1354.1 274.8,1278.5 276.5,1307.1 278.3,1287.3 280.1,1355.7 281.8,1302.7 283.6,1329.9 285.3,1348.9 287.1,1323.3 288.8,1321.1 290.6,1328.2 292.4,1329.7 294.1,1381.9 295.9,1349 297.6,1370.8 299.4,1370.9 301.2,1399.7 302.9,1395.8 304.7,1380.9 306.4,1355.5 308.2,1351.2 309.9,1361.4 311.7,1345.4 313.5,1360.8 315.2,1339.5 317,1360.4 318.7,1342.1 320.5,1362.8 322.2,1341.6 324,1336.7 325.8,1338.8 327.5,1412.7 329.3,1401.6 331,1436.3 332.8,1441.2 334.6,1459.8 336.3,1410.5 338.1,1456.4 339.8,1395.6 341.6,1338.4 343.3,1344.3 345.1,1341.6 346.9,1405.2 348.6,1310.5 350.4,1310.1 352.1,1296.1 353.9,1325.7 355.7,1391.3 357.4,1420.3 359.2,1425.4 360.9,1457.5 362.7,1435 364.4,1396.9 366.2,1347.9 368,1394.9 369.7,1341.8 371.5,1358.9 373.2,1409.3 375,1464.1 376.7,1531.9 378.5,1441.2 380.3,1452.2 382,1395.4 383.8,1378.4 385.5,1383.6 387.3,1371.2 389.1,1340.4 390.8,1409.5 392.6,1412.7 394.3,1416.1 396.1,1458.3 397.8,1426.1 399.6,1453.1 401.4,1411.2 403.1,1381.5 404.9,1371.2 406.6,1305 408.4,1281.2 410.1,1299.8 411.9,1371.3 413.7,1268.1 415.4,1617.6 417.2,1486.6 418.9,1465.8 420.7,1462.1 422.5,1456.6 424.2,1431.3 426,1420.9 427.7,1432.9 429.5,1410.5 431.2,1347 433,1365.4 434.8,1345.4 436.5,1331.8 438.3,1395 440,1396.5 441.8,1434.7 443.6,1459.7 445.3,1474.7 447.1,1402.6 448.8,1403.4 450.6,1345.1 452.3,1378.8 454.1,1371.2 455.9,1370.1 457.6,1389.6 459.4,1381.8 461.1,1395.4 462.9,1386.4 464.6,1408.5 466.4,1422.6 468.2,1430.4 469.9,1420.5 471.7,1457.7 473.4,1447.3 475.2,1363 477,1405.7 478.7,1411.5 480.5,1376.6 482.2,1359 484,1339.2 485.7,1380.6 487.5,1426.7 489.3,1474.7 491,1426 492.8,1408.9 494.5,1407.7 496.3,1409.5 498.1,1408 499.8,1415.2 501.6,1381.2 503.3,1364.5 505.1,1405.5 506.8,1402.7 508.6,1403.5 510.4,1362.3 512.1,1391.4 513.9,1384.4 515.6,1383.8 517.4,1378.8 519.1,1388.1 520.9,1398.3 522.7,1385.6 524.4,1352.5 526.2,1369.2 527.9,1329.4 529.7,1370.2 531.5,1382.9 533.2,1377.5 535,1395.3 536.7,1363.7 538.5,1390.3 540.2,1371.3 542,1370.3 543.8,1397.4 545.5,1381.2 547.3,1377.4 549,1379.9 550.8,1392.9 552.5,1375.9 554.3,1392.2 556.1,1394.9 557.8,1370.6 559.6,1371.7 561.3,1409.7 563.1,1389.4 564.9,1372 566.6,1369.7 568.4,1385.3 570.1,1392.6 571.9,1391.6 573.6,1383.7 575.4,1380.8 577.2,1379.4 578.9,1362.8 580.7,1386.6 582.4,1392.5 584.2,1382.4 586,1366.3 587.7,1328.2 589.5,1373.5 591.2,1411 593,1385.4 594.7,1359.5 596.5,1366.3 598.3,1387.5 600,1360.4 601.8,1354.4 603.5,1381.2 605.3,1370.5 607,1383.9 608.8,1391.3 610.6,1373.5 612.3,1356.2 614.1,1375.9 615.8,1385.4 617.6,1352.9 619.4,1358.9 621.1,1407.1 622.9,1407.7 624.6,1385.4 626.4,1377.9 628.1,1389 629.9,1385.4 631.7,1391.3 633.4,1393.1 635.2,1375.9 636.9,1349.1 638.7,1360.7 640.4,1402.4 642.2,1394.3 644,1385.4 645.7,1371.4 647.5,1362.2 649.2,1365.8 651,1343.4 652.8,1359.5 654.5,1395.4 656.3,1366.1 658,1368.4 659.8,1363.4 661.5,1353.8 663.3,1358.3 665.1,1352.5 666.8,1348.6 668.6,1378.4 670.3,1393.6 672.1,1378.9 673.9,1395.4 675.6,1383.2 677.4,1402.5 679.1,1399.1 680.9,1378.6 682.6,1352.4 684.4,1349.9 686.2,1342.8 687.9,1352.1 689.7,1332.7 691.4,1332 693.2,1341.5 694.9,1352 696.7,1347.9 698.5,1354.6 700.2,1395 702,1389.9 703.7,1415.7 705.5,1393.8 707.3,1381.8 709,1380.4 710.8,1351.1 712.5,1351.3 714.3,1339 716,1313.3 717.8,1343.3 719.6,1381.6 721.3,1394.1 723.1,1416.7 724.8,1425.2 726.6,1467.3 728.3,1447.9 730.1,1472.1 731.9,1446.8 733.6,1394 735.4,1373.9 737.1,1352.6 738.9,1327.3 740.7,1306 742.4,1299.1 744.2,1278.2 745.9,1305 747.7,1296.2 749.4,1306.4 751.2,1350.4 753,1379 754.7,1351.2 756.5,1359.4 758.2,1355.9 760,1357.7 761.8,1310.4 763.5,1319.2 765.3,1329.8 767,1314 768.8,1337.6 770.5,1332.2 772.3,1342 774.1,1344.7 775.8,1335.1 777.6,1344.9 779.3,1364 781.1,1382.3 782.8,1382.1 784.6,1337 786.4,1350.8 788.1,1324.4 789.9,1330.1 791.6,1317 793.4,1321.3 795.2,1314.5 796.9,1354.2 798.7,1346.4 800.4,1338.6 802.2,1362.4 803.9,1337.2 805.7,1336.8 807.5,1382.4 809.2,1331.2 811,1351.6 812.7,1319.5 814.5,1319.9 816.2,1346.5 818,1370 819.8,1334.8 821.5,1337.2 823.3,1354.6 825,1380.4 826.8,1386.1 828.6,1351.9 830.3,1350.5 832.1,1333.5 833.8,1361.8 835.6,1375.5 837.3,1370.6 839.1,1367.1 840.9,1342.1 842.6,1384.8 844.4,1369.4 846.1,1351.6 847.9,1333.9 849.6,1283 851.4,1286.2 853.2,1338.4 854.9,1328.5 856.7,1358.3 858.4,1370.1 860.2,1372 862,1364.5 863.7,1404.4 865.5,1371.7 867.2,1357.5 869,1355 870.7,1363.7 872.5,1376.4 874.3,1396.4 876,1384 877.8,1433.9 879.5,1421.9 881.3,1419.5 883.1,1362.9 884.8,1341.4 886.6,1346.6 888.3,1290 890.1,1277.5 891.8,1258 893.6,1258.5 895.4,1251.4 897.1,1359.5 898.9,1344.4 900.6,1365.4 902.4,1368 904.1,1386.7 905.9,1354.3 907.7,1361.1 909.4,1330.7 911.2,1326.7 912.9,1318.5 914.7,1353.3 916.5,1341.6 918.2,1414 920,1383.8 921.7,1404.3 923.5,1424.4 925.2,1392.5 927,1365.6 928.8,1398.8 930.5,1348.2 932.3,1268.1 934,1363.6 935.8,1410.7 937.5,1397.1 939.3,1421.7 941.1,1392.3 942.8,1386.7 944.6,1298.6 946.3,1280.4 948.1,1340.4 949.9,1281.2 951.6,1370.3 953.4,1405.6 955.1,1391.4 956.9,1415.3 958.6,1391.4 960.4,1385.9 962.2,1339.6 963.9,1317.8" fill="none" stroke="#0000ff" stroke-width="4.3" stroke-linejoin="miter" stroke-miterlimit="8"/>
<g fill="none" stroke="#0000ff" stroke-width="3.6"><circle cx="104.3" cy="1305" r="4.9"/><circle cx="106" cy="1342.5" r="4.9"/><circle cx="107.8" cy="1351.1" r="4.9"/><circle cx="109.5" cy="1311" r="4.9"/><circle cx="111.3" cy="1348.8" r="4.9"/><circle cx="113" cy="1275.2" r="4.9"/><circle cx="114.8" cy="1293.1" r="4.9"/><circle cx="116.6" cy="1272.3" r="4.9"/><circle cx="118.3" cy="1263.3" r="4.9"/><circle cx="120.1" cy="1262.1" r="4.9"/><circle cx="121.8" cy="1305" r="4.9"/><circle cx="123.6" cy="1346.7" r="4.9"/><circle cx="125.4" cy="1334.8" r="4.9"/><circle cx="127.1" cy="1340" r="4.9"/><circle cx="128.9" cy="1357.9" r="4.9"/><circle cx="130.6" cy="1354.3" r="4.9"/><circle cx="132.4" cy="1341.1" r="4.9"/><circle cx="134.1" cy="1315.2" r="4.9"/><circle cx="135.9" cy="1327.1" r="4.9"/><circle cx="137.7" cy="1363.6" r="4.9"/><circle cx="139.4" cy="1384.2" r="4.9"/><circle cx="141.2" cy="1350.6" r="4.9"/><circle cx="142.9" cy="1354.4" r="4.9"/><circle cx="144.7" cy="1358.2" r="4.9"/><circle cx="146.4" cy="1344.6" r="4.9"/><circle cx="148.2" cy="1351" r="4.9"/><circle cx="150" cy="1330.5" r="4.9"/><circle cx="151.7" cy="1302.1" r="4.9"/><circle cx="153.5" cy="1323.4" r="4.9"/><circle cx="155.2" cy="1333.6" r="4.9"/><circle cx="157" cy="1261.8" r="4.9"/><circle cx="158.8" cy="1286.5" r="4.9"/><circle cx="160.5" cy="1298.6" r="4.9"/><circle cx="162.3" cy="1242.3" r="4.9"/><circle cx="164" cy="1299.2" r="4.9"/><circle cx="165.8" cy="1294.4" r="4.9"/><circle cx="167.5" cy="1352.3" r="4.9"/><circle cx="169.3" cy="1340.3" r="4.9"/><circle cx="171.1" cy="1303.7" r="4.9"/><circle cx="172.8" cy="1374.9" r="4.9"/><circle cx="174.6" cy="1360.9" r="4.9"/><circle cx="176.3" cy="1375.9" r="4.9"/><circle cx="178.1" cy="1331.6" r="4.9"/><circle cx="179.9" cy="1278.8" r="4.9"/><circle cx="181.6" cy="1298.6" r="4.9"/><circle cx="183.4" cy="1267" r="4.9"/><circle cx="185.1" cy="1259.3" r="4.9"/><circle cx="186.9" cy="1263.9" r="4.9"/><circle cx="188.6" cy="1244.9" r="4.9"/><circle cx="190.4" cy="1299.2" r="4.9"/><circle cx="192.2" cy="1332.6" r="4.9"/><circle cx="193.9" cy="1345.5" r="4.9"/><circle cx="195.7" cy="1300.2" r="4.9"/><circle cx="197.4" cy="1341.1" r="4.9"/><circle cx="199.2" cy="1344.8" r="4.9"/><circle cx="200.9" cy="1376.6" r="4.9"/><circle cx="202.7" cy="1322.6" r="4.9"/><circle cx="204.5" cy="1316.3" r="4.9"/><circle cx="206.2" cy="1338.3" r="4.9"/><circle cx="208" cy="1269.6" r="4.9"/><circle cx="209.7" cy="1313.3" r="4.9"/><circle cx="211.5" cy="1348" r="4.9"/><circle cx="213.3" cy="1363.1" r="4.9"/><circle cx="215" cy="1353.2" r="4.9"/><circle cx="216.8" cy="1413.3" r="4.9"/><circle cx="218.5" cy="1385.4" r="4.9"/><circle cx="220.3" cy="1370.6" r="4.9"/><circle cx="222" cy="1301.2" r="4.9"/><circle cx="223.8" cy="1371.5" r="4.9"/><circle cx="225.6" cy="1329" r="4.9"/><circle cx="227.3" cy="1311.1" r="4.9"/><circle cx="229.1" cy="1315.7" r="4.9"/><circle cx="230.8" cy="1316.2" r="4.9"/><circle cx="232.6" cy="1323.3" r="4.9"/><circle cx="234.3" cy="1361.4" r="4.9"/><circle cx="236.1" cy="1404.3" r="4.9"/><circle cx="237.9" cy="1401" r="4.9"/><circle cx="239.6" cy="1348.9" r="4.9"/><circle cx="241.4" cy="1352.6" r="4.9"/><circle cx="243.1" cy="1346.8" r="4.9"/><circle cx="244.9" cy="1341.6" r="4.9"/><circle cx="246.7" cy="1280.5" r="4.9"/><circle cx="248.4" cy="1285" r="4.9"/><circle cx="250.2" cy="1288.5" r="4.9"/><circle cx="251.9" cy="1314.3" r="4.9"/><circle cx="253.7" cy="1358.1" r="4.9"/><circle cx="255.4" cy="1337.9" r="4.9"/><circle cx="257.2" cy="1333.9" r="4.9"/><circle cx="259" cy="1399.1" r="4.9"/><circle cx="260.7" cy="1414" r="4.9"/><circle cx="262.5" cy="1395.6" r="4.9"/><circle cx="264.2" cy="1362.1" r="4.9"/><circle cx="266" cy="1334.9" r="4.9"/><circle cx="267.8" cy="1335.5" r="4.9"/><circle cx="269.5" cy="1358.5" r="4.9"/><circle cx="271.3" cy="1304.4" r="4.9"/><circle cx="273" cy="1354.1" r="4.9"/><circle cx="274.8" cy="1278.5" r="4.9"/><circle cx="276.5" cy="1307.1" r="4.9"/><circle cx="278.3" cy="1287.3" r="4.9"/><circle cx="280.1" cy="1355.7" r="4.9"/><circle cx="281.8" cy="1302.7" r="4.9"/><circle cx="283.6" cy="1329.9" r="4.9"/><circle cx="285.3" cy="1348.9" r="4.9"/><circle cx="287.1" cy="1323.3" r="4.9"/><circle cx="288.8" cy="1321.1" r="4.9"/><circle cx="290.6" cy="1328.2" r="4.9"/><circle cx="292.4" cy="1329.7" r="4.9"/><circle cx="294.1" cy="1381.9" r="4.9"/><circle cx="295.9" cy="1349" r="4.9"/><circle cx="297.6" cy="1370.8" r="4.9"/><circle cx="299.4" cy="1370.9" r="4.9"/><circle cx="301.2" cy="1399.7" r="4.9"/><circle cx="302.9" cy="1395.8" r="4.9"/><circle cx="304.7" cy="1380.9" r="4.9"/><circle cx="306.4" cy="1355.5" r="4.9"/><circle cx="308.2" cy="1351.2" r="4.9"/><circle cx="309.9" cy="1361.4" r="4.9"/><circle cx="311.7" cy="1345.4" r="4.9"/><circle cx="313.5" cy="1360.8" r="4.9"/><circle cx="315.2" cy="1339.5" r="4.9"/><circle cx="317" cy="1360.4" r="4.9"/><circle cx="318.7" cy="1342.1" r="4.9"/><circle cx="320.5" cy="1362.8" r="4.9"/><circle cx="322.2" cy="1341.6" r="4.9"/><circle cx="324" cy="1336.7" r="4.9"/><circle cx="325.8" cy="1338.8" r="4.9"/><circle cx="327.5" cy="1412.7" r="4.9"/><circle cx="329.3" cy="1401.6" r="4.9"/><circle cx="331" cy="1436.3" r="4.9"/><circle cx="332.8" cy="1441.2" r="4.9"/><circle cx="334.6" cy="1459.8" r="4.9"/><circle cx="336.3" cy="1410.5" r="4.9"/><circle cx="338.1" cy="1456.4" r="4.9"/><circle cx="339.8" cy="1395.6" r="4.9"/><circle cx="341.6" cy="1338.4" r="4.9"/><circle cx="343.3" cy="1344.3" r="4.9"/><circle cx="345.1" cy="1341.6" r="4.9"/><circle cx="346.9" cy="1405.2" r="4.9"/><circle cx="348.6" cy="1310.5" r="4.9"/><circle cx="350.4" cy="1310.1" r="4.9"/><circle cx="352.1" cy="1296.1" r="4.9"/><circle cx="353.9" cy="1325.7" r="4.9"/><circle cx="355.7" cy="1391.3" r="4.9"/><circle cx="357.4" cy="1420.3" r="4.9"/><circle cx="359.2" cy="1425.4" r="4.9"/><circle cx="360.9" cy="1457.5" r="4.9"/><circle cx="362.7" cy="1435" r="4.9"/><circle cx="364.4" cy="1396.9" r="4.9"/><circle cx="366.2" cy="1347.9" r="4.9"/><circle cx="368" cy="1394.9" r="4.9"/><circle cx="369.7" cy="1341.8" r="4.9"/><circle cx="371.5" cy="1358.9" r="4.9"/><circle cx="373.2" cy="1409.3" r="4.9"/><circle cx="375" cy="1464.1" r="4.9"/><circle cx="376.7" cy="1531.9" r="4.9"/><circle cx="378.5" cy="1441.2" r="4.9"/><circle cx="380.3" cy="1452.2" r="4.9"/><circle cx="382" cy="1395.4" r="4.9"/><circle cx="383.8" cy="1378.4" r="4.9"/><circle cx="385.5" cy="1383.6" r="4.9"/><circle cx="387.3" cy="1371.2" r="4.9"/><circle cx="389.1" cy="1340.4" r="4.9"/><circle cx="390.8" cy="1409.5" r="4.9"/><circle cx="392.6" cy="1412.7" r="4.9"/><circle cx="394.3" cy="1416.1" r="4.9"/><circle cx="396.1" cy="1458.3" r="4.9"/><circle cx="397.8" cy="1426.1" r="4.9"/><circle cx="399.6" cy="1453.1" r="4.9"/><circle cx="401.4" cy="1411.2" r="4.9"/><circle cx="403.1" cy="1381.5" r="4.9"/><circle cx="404.9" cy="1371.2" r="4.9"/><circle cx="406.6" cy="1305" r="4.9"/><circle cx="408.4" cy="1281.2" r="4.9"/><circle cx="410.1" cy="1299.8" r="4.9"/><circle cx="411.9" cy="1371.3" r="4.9"/><circle cx="413.7" cy="1268.1" r="4.9"/><circle cx="415.4" cy="1617.6" r="4.9"/><circle cx="417.2" cy="1486.6" r="4.9"/><circle cx="418.9" cy="1465.8" r="4.9"/><circle cx="420.7" cy="1462.1" r="4.9"/><circle cx="422.5" cy="1456.6" r="4.9"/><circle cx="424.2" cy="1431.3" r="4.9"/><circle cx="426" cy="1420.9" r="4.9"/><circle cx="427.7" cy="1432.9" r="4.9"/><circle cx="429.5" cy="1410.5" r="4.9"/><circle cx="431.2" cy="1347" r="4.9"/><circle cx="433" cy="1365.4" r="4.9"/><circle cx="434.8" cy="1345.4" r="4.9"/><circle cx="436.5" cy="1331.8" r="4.9"/><circle cx="438.3" cy="1395" r="4.9"/><circle cx="440" cy="1396.5" r="4.9"/><circle cx="441.8" cy="1434.7" r="4.9"/><circle cx="443.6" cy="1459.7" r="4.9"/><circle cx="445.3" cy="1474.7" r="4.9"/><circle cx="447.1" cy="1402.6" r="4.9"/><circle cx="448.8" cy="1403.4" r="4.9"/><circle cx="450.6" cy="1345.1" r="4.9"/><circle cx="452.3" cy="1378.8" r="4.9"/><circle cx="454.1" cy="1371.2" r="4.9"/><circle cx="455.9" cy="1370.1" r="4.9"/><circle cx="457.6" cy="1389.6" r="4.9"/><circle cx="459.4" cy="1381.8" r="4.9"/><circle cx="461.1" cy="1395.4" r="4.9"/><circle cx="462.9" cy="1386.4" r="4.9"/><circle cx="464.6" cy="1408.5" r="4.9"/><circle cx="466.4" cy="1422.6" r="4.9"/><circle cx="468.2" cy="1430.4" r="4.9"/><circle cx="469.9" cy="1420.5" r="4.9"/><circle cx="471.7" cy="1457.7" r="4.9"/><circle cx="473.4" cy="1447.3" r="4.9"/><circle cx="475.2" cy="1363" r="4.9"/><circle cx="477" cy="1405.7" r="4.9"/><circle cx="478.7" cy="1411.5" r="4.9"/><circle cx="480.5" cy="1376.6" r="4.9"/><circle cx="482.2" cy="1359" r="4.9"/><circle cx="484" cy="1339.2" r="4.9"/><circle cx="485.7" cy="1380.6" r="4.9"/><circle cx="487.5" cy="1426.7" r="4.9"/><circle cx="489.3" cy="1474.7" r="4.9"/><circle cx="491" cy="1426" r="4.9"/><circle cx="492.8" cy="1408.9" r="4.9"/><circle cx="494.5" cy="1407.7" r="4.9"/><circle cx="496.3" cy="1409.5" r="4.9"/><circle cx="498.1" cy="1408" r="4.9"/><circle cx="499.8" cy="1415.2" r="4.9"/><circle cx="501.6" cy="1381.2" r="4.9"/><circle cx="503.3" cy="1364.5" r="4.9"/><circle cx="505.1" cy="1405.5" r="4.9"/><circle cx="506.8" cy="1402.7" r="4.9"/><circle cx="508.6" cy="1403.5" r="4.9"/><circle cx="510.4" cy="1362.3" r="4.9"/><circle cx="512.1" cy="1391.4" r="4.9"/><circle cx="513.9" cy="1384.4" r="4.9"/><circle cx="515.6" cy="1383.8" r="4.9"/><circle cx="517.4" cy="1378.8" r="4.9"/><circle cx="519.1" cy="1388.1" r="4.9"/><circle cx="520.9" cy="1398.3" r="4.9"/><circle cx="522.7" cy="1385.6" r="4.9"/><circle cx="524.4" cy="1352.5" r="4.9"/><circle cx="526.2" cy="1369.2" r="4.9"/><circle cx="527.9" cy="1329.4" r="4.9"/><circle cx="529.7" cy="1370.2" r="4.9"/><circle cx="531.5" cy="1382.9" r="4.9"/><circle cx="533.2" cy="1377.5" r="4.9"/><circle cx="535" cy="1395.3" r="4.9"/><circle cx="536.7" cy="1363.7" r="4.9"/><circle cx="538.5" cy="1390.3" r="4.9"/><circle cx="540.2" cy="1371.3" r="4.9"/><circle cx="542" cy="1370.3" r="4.9"/><circle cx="543.8" cy="1397.4" r="4.9"/><circle cx="545.5" cy="1381.2" r="4.9"/><circle cx="547.3" cy="1377.4" r="4.9"/><circle cx="549" cy="1379.9" r="4.9"/><circle cx="550.8" cy="1392.9" r="4.9"/><circle cx="552.5" cy="1375.9" r="4.9"/><circle cx="554.3" cy="1392.2" r="4.9"/><circle cx="556.1" cy="1394.9" r="4.9"/><circle cx="557.8" cy="1370.6" r="4.9"/><circle cx="559.6" cy="1371.7" r="4.9"/><circle cx="561.3" cy="1409.7" r="4.9"/><circle cx="563.1" cy="1389.4" r="4.9"/><circle cx="564.9" cy="1372" r="4.9"/><circle cx="566.6" cy="1369.7" r="4.9"/><circle cx="568.4" cy="1385.3" r="4.9"/><circle cx="570.1" cy="1392.6" r="4.9"/><circle cx="571.9" cy="1391.6" r="4.9"/><circle cx="573.6" cy="1383.7" r="4.9"/><circle cx="575.4" cy="1380.8" r="4.9"/><circle cx="577.2" cy="1379.4" r="4.9"/><circle cx="578.9" cy="1362.8" r="4.9"/><circle cx="580.7" cy="1386.6" r="4.9"/><circle cx="582.4" cy="1392.5" r="4.9"/><circle cx="584.2" cy="1382.4" r="4.9"/><circle cx="586" cy="1366.3" r="4.9"/><circle cx="587.7" cy="1328.2" r="4.9"/><circle cx="589.5" cy="1373.5" r="4.9"/><circle cx="591.2" cy="1411" r="4.9"/><circle cx="593" cy="1385.4" r="4.9"/><circle cx="594.7" cy="1359.5" r="4.9"/><circle cx="596.5" cy="1366.3" r="4.9"/><circle cx="598.3" cy="1387.5" r="4.9"/><circle cx="600" cy="1360.4" r="4.9"/><circle cx="601.8" cy="1354.4" r="4.9"/><circle cx="603.5" cy="1381.2" r="4.9"/><circle cx="605.3" cy="1370.5" r="4.9"/><circle cx="607" cy="1383.9" r="4.9"/><circle cx="608.8" cy="1391.3" r="4.9"/><circle cx="610.6" cy="1373.5" r="4.9"/><circle cx="612.3" cy="1356.2" r="4.9"/><circle cx="614.1" cy="1375.9" r="4.9"/><circle cx="615.8" cy="1385.4" r="4.9"/><circle cx="617.6" cy="1352.9" r="4.9"/><circle cx="619.4" cy="1358.9" r="4.9"/><circle cx="621.1" cy="1407.1" r="4.9"/><circle cx="622.9" cy="1407.7" r="4.9"/><circle cx="624.6" cy="1385.4" r="4.9"/><circle cx="626.4" cy="1377.9" r="4.9"/><circle cx="628.1" cy="1389" r="4.9"/><circle cx="629.9" cy="1385.4" r="4.9"/><circle cx="631.7" cy="1391.3" r="4.9"/><circle cx="633.4" cy="1393.1" r="4.9"/><circle cx="635.2" cy="1375.9" r="4.9"/><circle cx="636.9" cy="1349.1" r="4.9"/><circle cx="638.7" cy="1360.7" r="4.9"/><circle cx="640.4" cy="1402.4" r="4.9"/><circle cx="642.2" cy="1394.3" r="4.9"/><circle cx="644" cy="1385.4" r="4.9"/><circle cx="645.7" cy="1371.4" r="4.9"/><circle cx="647.5" cy="1362.2" r="4.9"/><circle cx="649.2" cy="1365.8" r="4.9"/><circle cx="651" cy="1343.4" r="4.9"/><circle cx="652.8" cy="1359.5" r="4.9"/><circle cx="654.5" cy="1395.4" r="4.9"/><circle cx="656.3" cy="1366.1" r="4.9"/><circle cx="658" cy="1368.4" r="4.9"/><circle cx="659.8" cy="1363.4" r="4.9"/><circle cx="661.5" cy="1353.8" r="4.9"/><circle cx="663.3" cy="1358.3" r="4.9"/><circle cx="665.1" cy="1352.5" r="4.9"/><circle cx="666.8" cy="1348.6" r="4.9"/><circle cx="668.6" cy="1378.4" r="4.9"/><circle cx="670.3" cy="1393.6" r="4.9"/><circle cx="672.1" cy="1378.9" r="4.9"/><circle cx="673.9" cy="1395.4" r="4.9"/><circle cx="675.6" cy="1383.2" r="4.9"/><circle cx="677.4" cy="1402.5" r="4.9"/><circle cx="679.1" cy="1399.1" r="4.9"/><circle cx="680.9" cy="1378.6" r="4.9"/><circle cx="682.6" cy="1352.4" r="4.9"/><circle cx="684.4" cy="1349.9" r="4.9"/><circle cx="686.2" cy="1342.8" r="4.9"/><circle cx="687.9" cy="1352.1" r="4.9"/><circle cx="689.7" cy="1332.7" r="4.9"/><circle cx="691.4" cy="1332" r="4.9"/><circle cx="693.2" cy="1341.5" r="4.9"/><circle cx="694.9" cy="1352" r="4.9"/><circle cx="696.7" cy="1347.9" r="4.9"/><circle cx="698.5" cy="1354.6" r="4.9"/><circle cx="700.2" cy="1395" r="4.9"/><circle cx="702" cy="1389.9" r="4.9"/><circle cx="703.7" cy="1415.7" r="4.9"/><circle cx="705.5" cy="1393.8" r="4.9"/><circle cx="707.3" cy="1381.8" r="4.9"/><circle cx="709" cy="1380.4" r="4.9"/><circle cx="710.8" cy="1351.1" r="4.9"/><circle cx="712.5" cy="1351.3" r="4.9"/><circle cx="714.3" cy="1339" r="4.9"/><circle cx="716" cy="1313.3" r="4.9"/><circle cx="717.8" cy="1343.3" r="4.9"/><circle cx="719.6" cy="1381.6" r="4.9"/><circle cx="721.3" cy="1394.1" r="4.9"/><circle cx="723.1" cy="1416.7" r="4.9"/><circle cx="724.8" cy="1425.2" r="4.9"/><circle cx="726.6" cy="1467.3" r="4.9"/><circle cx="728.3" cy="1447.9" r="4.9"/><circle cx="730.1" cy="1472.1" r="4.9"/><circle cx="731.9" cy="1446.8" r="4.9"/><circle cx="733.6" cy="1394" r="4.9"/><circle cx="735.4" cy="1373.9" r="4.9"/><circle cx="737.1" cy="1352.6" r="4.9"/><circle cx="738.9" cy="1327.3" r="4.9"/><circle cx="740.7" cy="1306" r="4.9"/><circle cx="742.4" cy="1299.1" r="4.9"/><circle cx="744.2" cy="1278.2" r="4.9"/><circle cx="745.9" cy="1305" r="4.9"/><circle cx="747.7" cy="1296.2" r="4.9"/><circle cx="749.4" cy="1306.4" r="4.9"/><circle cx="751.2" cy="1350.4" r="4.9"/><circle cx="753" cy="1379" r="4.9"/><circle cx="754.7" cy="1351.2" r="4.9"/><circle cx="756.5" cy="1359.4" r="4.9"/><circle cx="758.2" cy="1355.9" r="4.9"/><circle cx="760" cy="1357.7" r="4.9"/><circle cx="761.8" cy="1310.4" r="4.9"/><circle cx="763.5" cy="1319.2" r="4.9"/><circle cx="765.3" cy="1329.8" r="4.9"/><circle cx="767" cy="1314" r="4.9"/><circle cx="768.8" cy="1337.6" r="4.9"/><circle cx="770.5" cy="1332.2" r="4.9"/><circle cx="772.3" cy="1342" r="4.9"/><circle cx="774.1" cy="1344.7" r="4.9"/><circle cx="775.8" cy="1335.1" r="4.9"/><circle cx="777.6" cy="1344.9" r="4.9"/><circle cx="779.3" cy="1364" r="4.9"/><circle cx="781.1" cy="1382.3" r="4.9"/><circle cx="782.8" cy="1382.1" r="4.9"/><circle cx="784.6" cy="1337" r="4.9"/><circle cx="786.4" cy="1350.8" r="4.9"/><circle cx="788.1" cy="1324.4" r="4.9"/><circle cx="789.9" cy="1330.1" r="4.9"/><circle cx="791.6" cy="1317" r="4.9"/><circle cx="793.4" cy="1321.3" r="4.9"/><circle cx="795.2" cy="1314.5" r="4.9"/><circle cx="796.9" cy="1354.2" r="4.9"/><circle cx="798.7" cy="1346.4" r="4.9"/><circle cx="800.4" cy="1338.6" r="4.9"/><circle cx="802.2" cy="1362.4" r="4.9"/><circle cx="803.9" cy="1337.2" r="4.9"/><circle cx="805.7" cy="1336.8" r="4.9"/><circle cx="807.5" cy="1382.4" r="4.9"/><circle cx="809.2" cy="1331.2" r="4.9"/><circle cx="811" cy="1351.6" r="4.9"/><circle cx="812.7" cy="1319.5" r="4.9"/><circle cx="814.5" cy="1319.9" r="4.9"/><circle cx="816.2" cy="1346.5" r="4.9"/><circle cx="818" cy="1370" r="4.9"/><circle cx="819.8" cy="1334.8" r="4.9"/><circle cx="821.5" cy="1337.2" r="4.9"/><circle cx="823.3" cy="1354.6" r="4.9"/><circle cx="825" cy="1380.4" r="4.9"/><circle cx="826.8" cy="1386.1" r="4.9"/><circle cx="828.6" cy="1351.9" r="4.9"/><circle cx="830.3" cy="1350.5" r="4.9"/><circle cx="832.1" cy="1333.5" r="4.9"/><circle cx="833.8" cy="1361.8" r="4.9"/><circle cx="835.6" cy="1375.5" r="4.9"/><circle cx="837.3" cy="1370.6" r="4.9"/><circle cx="839.1" cy="1367.1" r="4.9"/><circle cx="840.9" cy="1342.1" r="4.9"/><circle cx="842.6" cy="1384.8" r="4.9"/><circle cx="844.4" cy="1369.4" r="4.9"/><circle cx="846.1" cy="1351.6" r="4.9"/><circle cx="847.9" cy="1333.9" r="4.9"/><circle cx="849.6" cy="1283" r="4.9"/><circle cx="851.4" cy="1286.2" r="4.9"/><circle cx="853.2" cy="1338.4" r="4.9"/><circle cx="854.9" cy="1328.5" r="4.9"/><circle cx="856.7" cy="1358.3" r="4.9"/><circle cx="858.4" cy="1370.1" r="4.9"/><circle cx="860.2" cy="1372" r="4.9"/><circle cx="862" cy="1364.5" r="4.9"/><circle cx="863.7" cy="1404.4" r="4.9"/><circle cx="865.5" cy="1371.7" r="4.9"/><circle cx="867.2" cy="1357.5" r="4.9"/><circle cx="869" cy="1355" r="4.9"/><circle cx="870.7" cy="1363.7" r="4.9"/><circle cx="872.5" cy="1376.4" r="4.9"/><circle cx="874.3" cy="1396.4" r="4.9"/><circle cx="876" cy="1384" r="4.9"/><circle cx="877.8" cy="1433.9" r="4.9"/><circle cx="879.5" cy="1421.9" r="4.9"/><circle cx="881.3" cy="1419.5" r="4.9"/><circle cx="883.1" cy="1362.9" r="4.9"/><circle cx="884.8" cy="1341.4" r="4.9"/><circle cx="886.6" cy="1346.6" r="4.9"/><circle cx="888.3" cy="1290" r="4.9"/><circle cx="890.1" cy="1277.5" r="4.9"/><circle cx="891.8" cy="1258" r="4.9"/><circle cx="893.6" cy="1258.5" r="4.9"/><circle cx="895.4" cy="1251.4" r="4.9"/><circle cx="897.1" cy="1359.5" r="4.9"/><circle cx="898.9" cy="1344.4" r="4.9"/><circle cx="900.6" cy="1365.4" r="4.9"/><circle cx="902.4" cy="1368" r="4.9"/><circle cx="904.1" cy="1386.7" r="4.9"/><circle cx="905.9" cy="1354.3" r="4.9"/><circle cx="907.7" cy="1361.1" r="4.9"/><circle cx="909.4" cy="1330.7" r="4.9"/><circle cx="911.2" cy="1326.7" r="4.9"/><circle cx="912.9" cy="1318.5" r="4.9"/><circle cx="914.7" cy="1353.3" r="4.9"/><circle cx="916.5" cy="1341.6" r="4.9"/><circle cx="918.2" cy="1414" r="4.9"/><circle cx="920" cy="1383.8" r="4.9"/><circle cx="921.7" cy="1404.3" r="4.9"/><circle cx="923.5" cy="1424.4" r="4.9"/><circle cx="925.2" cy="1392.5" r="4.9"/><circle cx="927" cy="1365.6" r="4.9"/><circle cx="928.8" cy="1398.8" r="4.9"/><circle cx="930.5" cy="1348.2" r="4.9"/><circle cx="932.3" cy="1268.1" r="4.9"/><circle cx="934" cy="1363.6" r="4.9"/><circle cx="935.8" cy="1410.7" r="4.9"/><circle cx="937.5" cy="1397.1" r="4.9"/><circle cx="939.3" cy="1421.7" r="4.9"/><circle cx="941.1" cy="1392.3" r="4.9"/><circle cx="942.8" cy="1386.7" r="4.9"/><circle cx="944.6" cy="1298.6" r="4.9"/><circle cx="946.3" cy="1280.4" r="4.9"/><circle cx="948.1" cy="1340.4" r="4.9"/><circle cx="949.9" cy="1281.2" r="4.9"/><circle cx="951.6" cy="1370.3" r="4.9"/><circle cx="953.4" cy="1405.6" r="4.9"/><circle cx="955.1" cy="1391.4" r="4.9"/><circle cx="956.9" cy="1415.3" r="4.9"/><circle cx="958.6" cy="1391.4" r="4.9"/><circle cx="960.4" cy="1385.9" r="4.9"/><circle cx="962.2" cy="1339.6" r="4.9"/><circle cx="963.9" cy="1317.8" r="4.9"/></g>
</g>
<g clip-path="url(#mcB)">
<polyline points="104.3,1331.8 106,1322.9 107.8,1340.7 109.5,1302 111.3,1305 113,1290.1 114.8,1296.1 116.6,1281.2 118.3,1278.2 120.1,1272.6 121.8,1311 123.6,1340.7 125.4,1328.8 127.1,1325 128.9,1349.4 130.6,1345.7 132.4,1335.9 134.1,1323.7 135.9,1350.8 137.7,1362.2 139.4,1369.3 141.2,1333.3 142.9,1353.4 144.7,1347.3 146.4,1315.2 148.2,1346 150,1321.4 151.7,1314.6 153.5,1345 155.2,1332 157,1270.7 158.8,1283.8 160.5,1303.4 162.3,1259.6 164,1284.6 165.8,1324 167.5,1352.3 169.3,1317.8 171.1,1299.3 172.8,1366.4 174.6,1348.3 176.3,1330.5 178.1,1331 179.9,1271.9 181.6,1300.1 183.4,1265 185.1,1239.7 186.9,1271.7 188.6,1296.9 190.4,1254.7 192.2,1320.8 193.9,1329.8 195.7,1305.6 197.4,1332.2 199.2,1355.2 200.9,1382.5 202.7,1326.1 204.5,1311.4 206.2,1330.7 208,1294.6 209.7,1310.7 211.5,1333.8 213.3,1361.1 215,1348.2 216.8,1404.4 218.5,1380.9 220.3,1367.9 222,1305.3 223.8,1355.9 225.6,1334.4 227.3,1311.2 229.1,1311 230.8,1312.4 232.6,1329.2 234.3,1374.8 236.1,1383.4 237.9,1390.7 239.6,1374.6 241.4,1368 243.1,1351.5 244.9,1292.2 246.7,1290.3 248.4,1286.1 250.2,1282.9 251.9,1341.4 253.7,1364.4 255.4,1340.7 257.2,1342.6 259,1385.1 260.7,1408.4 262.5,1410.7 264.2,1365.8 266,1336.4 267.8,1316 269.5,1359.9 271.3,1309.6 273,1337.7 274.8,1286.3 276.5,1311 278.3,1292.8 280.1,1339.4 281.8,1287.9 283.6,1330.4 285.3,1341 287.1,1320.1 288.8,1332.9 290.6,1350 292.4,1354.4 294.1,1374.3 295.9,1337 297.6,1366.4 299.4,1383.7 301.2,1390.7 302.9,1322.5 304.7,1370.6 306.4,1351 308.2,1342.5 309.9,1357.4 311.7,1358.5 313.5,1366.5 315.2,1331.2 317,1339.5 318.7,1347.2 320.5,1361.9 322.2,1355.7 324,1348.8 325.8,1336.1 327.5,1385 329.3,1398.8 331,1436.9 332.8,1415.8 334.6,1479.8 336.3,1396.3 338.1,1447.4 339.8,1366.5 341.6,1357.4 343.3,1325.5 345.1,1347.2 346.9,1386.5 348.6,1319.4 350.4,1338 352.1,1299.1 353.9,1340.7 355.7,1400.8 357.4,1409.3 359.2,1417 360.9,1429.2 362.7,1429.8 364.4,1379.8 366.2,1359.6 368,1378.9 369.7,1332.8 371.5,1378.6 373.2,1405.5 375,1450.7 376.7,1483 378.5,1433.5 380.3,1447.1 382,1408.1 383.8,1386.4 385.5,1383.9 387.3,1364.5 389.1,1371.2 390.8,1419.2 392.6,1413.5 394.3,1410.1 396.1,1450.6 397.8,1419.3 399.6,1453.9 401.4,1412.4 403.1,1382.8 404.9,1387.5 406.6,1309.4 408.4,1249.6 410.1,1318.9 411.9,1381.5 413.7,1350.4 415.4,1568.5 417.2,1477.7 418.9,1477.7 420.7,1454.2 422.5,1456.7 424.2,1474.7 426,1431.3 427.7,1405.5 429.5,1412.8 431.2,1336.1 433,1348.6 434.8,1359.2 436.5,1367.5 438.3,1378 440,1392.9 441.8,1443.4 443.6,1430.1 445.3,1465.8 447.1,1411.3 448.8,1370.7 450.6,1354.3 452.3,1392.7 454.1,1373.9 455.9,1385.3 457.6,1387.5 459.4,1385.8 461.1,1403.6 462.9,1388.4 464.6,1415.5 466.4,1416.1 468.2,1423 469.9,1409.1 471.7,1460.8 473.4,1411.7 475.2,1380.7 477,1422.9 478.7,1400.2 480.5,1382.7 482.2,1379.1 484,1382.7 485.7,1391.3 487.5,1419.3 489.3,1440.8 491,1429.5 492.8,1420.6 494.5,1409.3 496.3,1406.8 498.1,1392.2 499.8,1403 501.6,1392.1 503.3,1368.4 505.1,1408.8 506.8,1409.9 508.6,1447.3 510.4,1379.6 512.1,1391.4 513.9,1391.3 515.6,1386.6 517.4,1378.9 519.1,1378.2 520.9,1402.9 522.7,1377.2 524.4,1341.6 526.2,1382.6 527.9,1366.1 529.7,1342.8 531.5,1376.8 533.2,1374.6 535,1385.8 536.7,1366.9 538.5,1391.9 540.2,1372.7 542,1372.8 543.8,1391.5 545.5,1384.9 547.3,1375 549,1374.9 550.8,1383.7 552.5,1373.3 554.3,1385.7 556.1,1399.7 557.8,1373.6 559.6,1361.3 561.3,1400.4 563.1,1393.7 564.9,1367 566.6,1370.2 568.4,1387.2 570.1,1394.9 571.9,1391.4 573.6,1382.1 575.4,1380 577.2,1385.4 578.9,1375.9 580.7,1390.1 582.4,1394.9 584.2,1381.8 586,1364 587.7,1344.9 589.5,1372.3 591.2,1399.4 593,1371.1 594.7,1372.3 596.5,1374.7 598.3,1376.5 600,1362.8 601.8,1361.6 603.5,1371.1 605.3,1375.9 607,1381.8 608.8,1391.3 610.6,1378.2 612.3,1351.7 614.1,1378.8 615.8,1379.4 617.6,1358.6 619.4,1369.3 621.1,1400.3 622.9,1417.8 624.6,1381.8 626.4,1379.7 628.1,1384.2 629.9,1381.5 631.7,1391.3 633.4,1394.9 635.2,1378.8 636.9,1365.4 638.7,1366 640.4,1395.8 642.2,1391.3 644,1388.4 645.7,1382.4 647.5,1365.1 649.2,1372.3 651,1351.6 652.8,1364.7 654.5,1393.4 656.3,1372.1 658,1370.1 659.8,1363.6 661.5,1358.4 663.3,1362 665.1,1353.9 666.8,1350.7 668.6,1385 670.3,1385.4 672.1,1370.6 673.9,1402.4 675.6,1388.4 677.4,1403.7 679.1,1389.4 680.9,1384.5 682.6,1354.6 684.4,1356.9 686.2,1345.7 687.9,1353.7 689.7,1347 691.4,1334.7 693.2,1349.4 694.9,1343.6 696.7,1348.9 698.5,1364.8 700.2,1395.3 702,1393 703.7,1421.4 705.5,1404.1 707.3,1380 709,1373.4 710.8,1362.1 712.5,1347.7 714.3,1337.9 716,1331.7 717.8,1344.9 719.6,1382.5 721.3,1399.7 723.1,1403.4 724.8,1412.9 726.6,1456.8 728.3,1450.9 730.1,1457.2 731.9,1431.5 733.6,1396.2 735.4,1370.7 737.1,1359.4 738.9,1333 740.7,1312.6 742.4,1311 744.2,1291.3 745.9,1313.9 747.7,1302.5 749.4,1311.4 751.2,1338.6 753,1369.2 754.7,1348.7 756.5,1361.6 758.2,1348.1 760,1356.6 761.8,1314.9 763.5,1330 765.3,1326.6 767,1317.2 768.8,1332.7 770.5,1330 772.3,1338.1 774.1,1352.9 775.8,1327.6 777.6,1337.7 779.3,1355.3 781.1,1384.1 782.8,1393.6 784.6,1334.2 786.4,1347.7 788.1,1332.1 789.9,1328.6 791.6,1333.3 793.4,1317 795.2,1316.2 796.9,1356 798.7,1343.7 800.4,1338.5 802.2,1362.7 803.9,1335.1 805.7,1339.5 807.5,1375.9 809.2,1329.4 811,1354.6 812.7,1326.1 814.5,1335 816.2,1354.7 818,1351.1 819.8,1341 821.5,1336.5 823.3,1353.4 825,1371.3 826.8,1368.8 828.6,1357.9 830.3,1351.7 832.1,1340.5 833.8,1358.6 835.6,1376.5 837.3,1365.2 839.1,1361.8 840.9,1364.4 842.6,1377.6 844.4,1373.5 846.1,1355.9 847.9,1326.3 849.6,1294.6 851.4,1293.6 853.2,1337.4 854.9,1331.9 856.7,1363.1 858.4,1372.8 860.2,1372.4 862,1364.1 863.7,1401.5 865.5,1360.9 867.2,1360.7 869,1364.1 870.7,1361.4 872.5,1374.3 874.3,1398.1 876,1375.5 877.8,1425.6 879.5,1406.6 881.3,1400.6 883.1,1364.8 884.8,1357.5 886.6,1350.2 888.3,1315.2 890.1,1286.1 891.8,1265.5 893.6,1267.2 895.4,1298.3 897.1,1362 898.9,1345.7 900.6,1357.7 902.4,1386.4 904.1,1392.5 905.9,1353.1 907.7,1351 909.4,1328 911.2,1319.4 912.9,1310.6 914.7,1276.4 916.5,1339.5 918.2,1368.6 920,1379 921.7,1405.8 923.5,1414 925.2,1403.3 927,1362.3 928.8,1301.1 930.5,1340 932.3,1342 934,1373.8 935.8,1388.3 937.5,1391 939.3,1412.8 941.1,1382 942.8,1366.8 944.6,1293.5 946.3,1289.4 948.1,1309.5 949.9,1344.7 951.6,1378 953.4,1404.9 955.1,1385.4 956.9,1394.5 958.6,1394.3 960.4,1367.1 962.2,1330.1 963.9,1321.1" fill="none" stroke="#ff0000" stroke-width="4.3" stroke-linejoin="miter" stroke-miterlimit="8"/>
<g fill="#ff0000"><circle cx="104.3" cy="1331.8" r="5.1"/><circle cx="106" cy="1322.9" r="5.1"/><circle cx="107.8" cy="1340.7" r="5.1"/><circle cx="109.5" cy="1302" r="5.1"/><circle cx="111.3" cy="1305" r="5.1"/><circle cx="113" cy="1290.1" r="5.1"/><circle cx="114.8" cy="1296.1" r="5.1"/><circle cx="116.6" cy="1281.2" r="5.1"/><circle cx="118.3" cy="1278.2" r="5.1"/><circle cx="120.1" cy="1272.6" r="5.1"/><circle cx="121.8" cy="1311" r="5.1"/><circle cx="123.6" cy="1340.7" r="5.1"/><circle cx="125.4" cy="1328.8" r="5.1"/><circle cx="127.1" cy="1325" r="5.1"/><circle cx="128.9" cy="1349.4" r="5.1"/><circle cx="130.6" cy="1345.7" r="5.1"/><circle cx="132.4" cy="1335.9" r="5.1"/><circle cx="134.1" cy="1323.7" r="5.1"/><circle cx="135.9" cy="1350.8" r="5.1"/><circle cx="137.7" cy="1362.2" r="5.1"/><circle cx="139.4" cy="1369.3" r="5.1"/><circle cx="141.2" cy="1333.3" r="5.1"/><circle cx="142.9" cy="1353.4" r="5.1"/><circle cx="144.7" cy="1347.3" r="5.1"/><circle cx="146.4" cy="1315.2" r="5.1"/><circle cx="148.2" cy="1346" r="5.1"/><circle cx="150" cy="1321.4" r="5.1"/><circle cx="151.7" cy="1314.6" r="5.1"/><circle cx="153.5" cy="1345" r="5.1"/><circle cx="155.2" cy="1332" r="5.1"/><circle cx="157" cy="1270.7" r="5.1"/><circle cx="158.8" cy="1283.8" r="5.1"/><circle cx="160.5" cy="1303.4" r="5.1"/><circle cx="162.3" cy="1259.6" r="5.1"/><circle cx="164" cy="1284.6" r="5.1"/><circle cx="165.8" cy="1324" r="5.1"/><circle cx="167.5" cy="1352.3" r="5.1"/><circle cx="169.3" cy="1317.8" r="5.1"/><circle cx="171.1" cy="1299.3" r="5.1"/><circle cx="172.8" cy="1366.4" r="5.1"/><circle cx="174.6" cy="1348.3" r="5.1"/><circle cx="176.3" cy="1330.5" r="5.1"/><circle cx="178.1" cy="1331" r="5.1"/><circle cx="179.9" cy="1271.9" r="5.1"/><circle cx="181.6" cy="1300.1" r="5.1"/><circle cx="183.4" cy="1265" r="5.1"/><circle cx="185.1" cy="1239.7" r="5.1"/><circle cx="186.9" cy="1271.7" r="5.1"/><circle cx="188.6" cy="1296.9" r="5.1"/><circle cx="190.4" cy="1254.7" r="5.1"/><circle cx="192.2" cy="1320.8" r="5.1"/><circle cx="193.9" cy="1329.8" r="5.1"/><circle cx="195.7" cy="1305.6" r="5.1"/><circle cx="197.4" cy="1332.2" r="5.1"/><circle cx="199.2" cy="1355.2" r="5.1"/><circle cx="200.9" cy="1382.5" r="5.1"/><circle cx="202.7" cy="1326.1" r="5.1"/><circle cx="204.5" cy="1311.4" r="5.1"/><circle cx="206.2" cy="1330.7" r="5.1"/><circle cx="208" cy="1294.6" r="5.1"/><circle cx="209.7" cy="1310.7" r="5.1"/><circle cx="211.5" cy="1333.8" r="5.1"/><circle cx="213.3" cy="1361.1" r="5.1"/><circle cx="215" cy="1348.2" r="5.1"/><circle cx="216.8" cy="1404.4" r="5.1"/><circle cx="218.5" cy="1380.9" r="5.1"/><circle cx="220.3" cy="1367.9" r="5.1"/><circle cx="222" cy="1305.3" r="5.1"/><circle cx="223.8" cy="1355.9" r="5.1"/><circle cx="225.6" cy="1334.4" r="5.1"/><circle cx="227.3" cy="1311.2" r="5.1"/><circle cx="229.1" cy="1311" r="5.1"/><circle cx="230.8" cy="1312.4" r="5.1"/><circle cx="232.6" cy="1329.2" r="5.1"/><circle cx="234.3" cy="1374.8" r="5.1"/><circle cx="236.1" cy="1383.4" r="5.1"/><circle cx="237.9" cy="1390.7" r="5.1"/><circle cx="239.6" cy="1374.6" r="5.1"/><circle cx="241.4" cy="1368" r="5.1"/><circle cx="243.1" cy="1351.5" r="5.1"/><circle cx="244.9" cy="1292.2" r="5.1"/><circle cx="246.7" cy="1290.3" r="5.1"/><circle cx="248.4" cy="1286.1" r="5.1"/><circle cx="250.2" cy="1282.9" r="5.1"/><circle cx="251.9" cy="1341.4" r="5.1"/><circle cx="253.7" cy="1364.4" r="5.1"/><circle cx="255.4" cy="1340.7" r="5.1"/><circle cx="257.2" cy="1342.6" r="5.1"/><circle cx="259" cy="1385.1" r="5.1"/><circle cx="260.7" cy="1408.4" r="5.1"/><circle cx="262.5" cy="1410.7" r="5.1"/><circle cx="264.2" cy="1365.8" r="5.1"/><circle cx="266" cy="1336.4" r="5.1"/><circle cx="267.8" cy="1316" r="5.1"/><circle cx="269.5" cy="1359.9" r="5.1"/><circle cx="271.3" cy="1309.6" r="5.1"/><circle cx="273" cy="1337.7" r="5.1"/><circle cx="274.8" cy="1286.3" r="5.1"/><circle cx="276.5" cy="1311" r="5.1"/><circle cx="278.3" cy="1292.8" r="5.1"/><circle cx="280.1" cy="1339.4" r="5.1"/><circle cx="281.8" cy="1287.9" r="5.1"/><circle cx="283.6" cy="1330.4" r="5.1"/><circle cx="285.3" cy="1341" r="5.1"/><circle cx="287.1" cy="1320.1" r="5.1"/><circle cx="288.8" cy="1332.9" r="5.1"/><circle cx="290.6" cy="1350" r="5.1"/><circle cx="292.4" cy="1354.4" r="5.1"/><circle cx="294.1" cy="1374.3" r="5.1"/><circle cx="295.9" cy="1337" r="5.1"/><circle cx="297.6" cy="1366.4" r="5.1"/><circle cx="299.4" cy="1383.7" r="5.1"/><circle cx="301.2" cy="1390.7" r="5.1"/><circle cx="302.9" cy="1322.5" r="5.1"/><circle cx="304.7" cy="1370.6" r="5.1"/><circle cx="306.4" cy="1351" r="5.1"/><circle cx="308.2" cy="1342.5" r="5.1"/><circle cx="309.9" cy="1357.4" r="5.1"/><circle cx="311.7" cy="1358.5" r="5.1"/><circle cx="313.5" cy="1366.5" r="5.1"/><circle cx="315.2" cy="1331.2" r="5.1"/><circle cx="317" cy="1339.5" r="5.1"/><circle cx="318.7" cy="1347.2" r="5.1"/><circle cx="320.5" cy="1361.9" r="5.1"/><circle cx="322.2" cy="1355.7" r="5.1"/><circle cx="324" cy="1348.8" r="5.1"/><circle cx="325.8" cy="1336.1" r="5.1"/><circle cx="327.5" cy="1385" r="5.1"/><circle cx="329.3" cy="1398.8" r="5.1"/><circle cx="331" cy="1436.9" r="5.1"/><circle cx="332.8" cy="1415.8" r="5.1"/><circle cx="334.6" cy="1479.8" r="5.1"/><circle cx="336.3" cy="1396.3" r="5.1"/><circle cx="338.1" cy="1447.4" r="5.1"/><circle cx="339.8" cy="1366.5" r="5.1"/><circle cx="341.6" cy="1357.4" r="5.1"/><circle cx="343.3" cy="1325.5" r="5.1"/><circle cx="345.1" cy="1347.2" r="5.1"/><circle cx="346.9" cy="1386.5" r="5.1"/><circle cx="348.6" cy="1319.4" r="5.1"/><circle cx="350.4" cy="1338" r="5.1"/><circle cx="352.1" cy="1299.1" r="5.1"/><circle cx="353.9" cy="1340.7" r="5.1"/><circle cx="355.7" cy="1400.8" r="5.1"/><circle cx="357.4" cy="1409.3" r="5.1"/><circle cx="359.2" cy="1417" r="5.1"/><circle cx="360.9" cy="1429.2" r="5.1"/><circle cx="362.7" cy="1429.8" r="5.1"/><circle cx="364.4" cy="1379.8" r="5.1"/><circle cx="366.2" cy="1359.6" r="5.1"/><circle cx="368" cy="1378.9" r="5.1"/><circle cx="369.7" cy="1332.8" r="5.1"/><circle cx="371.5" cy="1378.6" r="5.1"/><circle cx="373.2" cy="1405.5" r="5.1"/><circle cx="375" cy="1450.7" r="5.1"/><circle cx="376.7" cy="1483" r="5.1"/><circle cx="378.5" cy="1433.5" r="5.1"/><circle cx="380.3" cy="1447.1" r="5.1"/><circle cx="382" cy="1408.1" r="5.1"/><circle cx="383.8" cy="1386.4" r="5.1"/><circle cx="385.5" cy="1383.9" r="5.1"/><circle cx="387.3" cy="1364.5" r="5.1"/><circle cx="389.1" cy="1371.2" r="5.1"/><circle cx="390.8" cy="1419.2" r="5.1"/><circle cx="392.6" cy="1413.5" r="5.1"/><circle cx="394.3" cy="1410.1" r="5.1"/><circle cx="396.1" cy="1450.6" r="5.1"/><circle cx="397.8" cy="1419.3" r="5.1"/><circle cx="399.6" cy="1453.9" r="5.1"/><circle cx="401.4" cy="1412.4" r="5.1"/><circle cx="403.1" cy="1382.8" r="5.1"/><circle cx="404.9" cy="1387.5" r="5.1"/><circle cx="406.6" cy="1309.4" r="5.1"/><circle cx="408.4" cy="1249.6" r="5.1"/><circle cx="410.1" cy="1318.9" r="5.1"/><circle cx="411.9" cy="1381.5" r="5.1"/><circle cx="413.7" cy="1350.4" r="5.1"/><circle cx="415.4" cy="1568.5" r="5.1"/><circle cx="417.2" cy="1477.7" r="5.1"/><circle cx="418.9" cy="1477.7" r="5.1"/><circle cx="420.7" cy="1454.2" r="5.1"/><circle cx="422.5" cy="1456.7" r="5.1"/><circle cx="424.2" cy="1474.7" r="5.1"/><circle cx="426" cy="1431.3" r="5.1"/><circle cx="427.7" cy="1405.5" r="5.1"/><circle cx="429.5" cy="1412.8" r="5.1"/><circle cx="431.2" cy="1336.1" r="5.1"/><circle cx="433" cy="1348.6" r="5.1"/><circle cx="434.8" cy="1359.2" r="5.1"/><circle cx="436.5" cy="1367.5" r="5.1"/><circle cx="438.3" cy="1378" r="5.1"/><circle cx="440" cy="1392.9" r="5.1"/><circle cx="441.8" cy="1443.4" r="5.1"/><circle cx="443.6" cy="1430.1" r="5.1"/><circle cx="445.3" cy="1465.8" r="5.1"/><circle cx="447.1" cy="1411.3" r="5.1"/><circle cx="448.8" cy="1370.7" r="5.1"/><circle cx="450.6" cy="1354.3" r="5.1"/><circle cx="452.3" cy="1392.7" r="5.1"/><circle cx="454.1" cy="1373.9" r="5.1"/><circle cx="455.9" cy="1385.3" r="5.1"/><circle cx="457.6" cy="1387.5" r="5.1"/><circle cx="459.4" cy="1385.8" r="5.1"/><circle cx="461.1" cy="1403.6" r="5.1"/><circle cx="462.9" cy="1388.4" r="5.1"/><circle cx="464.6" cy="1415.5" r="5.1"/><circle cx="466.4" cy="1416.1" r="5.1"/><circle cx="468.2" cy="1423" r="5.1"/><circle cx="469.9" cy="1409.1" r="5.1"/><circle cx="471.7" cy="1460.8" r="5.1"/><circle cx="473.4" cy="1411.7" r="5.1"/><circle cx="475.2" cy="1380.7" r="5.1"/><circle cx="477" cy="1422.9" r="5.1"/><circle cx="478.7" cy="1400.2" r="5.1"/><circle cx="480.5" cy="1382.7" r="5.1"/><circle cx="482.2" cy="1379.1" r="5.1"/><circle cx="484" cy="1382.7" r="5.1"/><circle cx="485.7" cy="1391.3" r="5.1"/><circle cx="487.5" cy="1419.3" r="5.1"/><circle cx="489.3" cy="1440.8" r="5.1"/><circle cx="491" cy="1429.5" r="5.1"/><circle cx="492.8" cy="1420.6" r="5.1"/><circle cx="494.5" cy="1409.3" r="5.1"/><circle cx="496.3" cy="1406.8" r="5.1"/><circle cx="498.1" cy="1392.2" r="5.1"/><circle cx="499.8" cy="1403" r="5.1"/><circle cx="501.6" cy="1392.1" r="5.1"/><circle cx="503.3" cy="1368.4" r="5.1"/><circle cx="505.1" cy="1408.8" r="5.1"/><circle cx="506.8" cy="1409.9" r="5.1"/><circle cx="508.6" cy="1447.3" r="5.1"/><circle cx="510.4" cy="1379.6" r="5.1"/><circle cx="512.1" cy="1391.4" r="5.1"/><circle cx="513.9" cy="1391.3" r="5.1"/><circle cx="515.6" cy="1386.6" r="5.1"/><circle cx="517.4" cy="1378.9" r="5.1"/><circle cx="519.1" cy="1378.2" r="5.1"/><circle cx="520.9" cy="1402.9" r="5.1"/><circle cx="522.7" cy="1377.2" r="5.1"/><circle cx="524.4" cy="1341.6" r="5.1"/><circle cx="526.2" cy="1382.6" r="5.1"/><circle cx="527.9" cy="1366.1" r="5.1"/><circle cx="529.7" cy="1342.8" r="5.1"/><circle cx="531.5" cy="1376.8" r="5.1"/><circle cx="533.2" cy="1374.6" r="5.1"/><circle cx="535" cy="1385.8" r="5.1"/><circle cx="536.7" cy="1366.9" r="5.1"/><circle cx="538.5" cy="1391.9" r="5.1"/><circle cx="540.2" cy="1372.7" r="5.1"/><circle cx="542" cy="1372.8" r="5.1"/><circle cx="543.8" cy="1391.5" r="5.1"/><circle cx="545.5" cy="1384.9" r="5.1"/><circle cx="547.3" cy="1375" r="5.1"/><circle cx="549" cy="1374.9" r="5.1"/><circle cx="550.8" cy="1383.7" r="5.1"/><circle cx="552.5" cy="1373.3" r="5.1"/><circle cx="554.3" cy="1385.7" r="5.1"/><circle cx="556.1" cy="1399.7" r="5.1"/><circle cx="557.8" cy="1373.6" r="5.1"/><circle cx="559.6" cy="1361.3" r="5.1"/><circle cx="561.3" cy="1400.4" r="5.1"/><circle cx="563.1" cy="1393.7" r="5.1"/><circle cx="564.9" cy="1367" r="5.1"/><circle cx="566.6" cy="1370.2" r="5.1"/><circle cx="568.4" cy="1387.2" r="5.1"/><circle cx="570.1" cy="1394.9" r="5.1"/><circle cx="571.9" cy="1391.4" r="5.1"/><circle cx="573.6" cy="1382.1" r="5.1"/><circle cx="575.4" cy="1380" r="5.1"/><circle cx="577.2" cy="1385.4" r="5.1"/><circle cx="578.9" cy="1375.9" r="5.1"/><circle cx="580.7" cy="1390.1" r="5.1"/><circle cx="582.4" cy="1394.9" r="5.1"/><circle cx="584.2" cy="1381.8" r="5.1"/><circle cx="586" cy="1364" r="5.1"/><circle cx="587.7" cy="1344.9" r="5.1"/><circle cx="589.5" cy="1372.3" r="5.1"/><circle cx="591.2" cy="1399.4" r="5.1"/><circle cx="593" cy="1371.1" r="5.1"/><circle cx="594.7" cy="1372.3" r="5.1"/><circle cx="596.5" cy="1374.7" r="5.1"/><circle cx="598.3" cy="1376.5" r="5.1"/><circle cx="600" cy="1362.8" r="5.1"/><circle cx="601.8" cy="1361.6" r="5.1"/><circle cx="603.5" cy="1371.1" r="5.1"/><circle cx="605.3" cy="1375.9" r="5.1"/><circle cx="607" cy="1381.8" r="5.1"/><circle cx="608.8" cy="1391.3" r="5.1"/><circle cx="610.6" cy="1378.2" r="5.1"/><circle cx="612.3" cy="1351.7" r="5.1"/><circle cx="614.1" cy="1378.8" r="5.1"/><circle cx="615.8" cy="1379.4" r="5.1"/><circle cx="617.6" cy="1358.6" r="5.1"/><circle cx="619.4" cy="1369.3" r="5.1"/><circle cx="621.1" cy="1400.3" r="5.1"/><circle cx="622.9" cy="1417.8" r="5.1"/><circle cx="624.6" cy="1381.8" r="5.1"/><circle cx="626.4" cy="1379.7" r="5.1"/><circle cx="628.1" cy="1384.2" r="5.1"/><circle cx="629.9" cy="1381.5" r="5.1"/><circle cx="631.7" cy="1391.3" r="5.1"/><circle cx="633.4" cy="1394.9" r="5.1"/><circle cx="635.2" cy="1378.8" r="5.1"/><circle cx="636.9" cy="1365.4" r="5.1"/><circle cx="638.7" cy="1366" r="5.1"/><circle cx="640.4" cy="1395.8" r="5.1"/><circle cx="642.2" cy="1391.3" r="5.1"/><circle cx="644" cy="1388.4" r="5.1"/><circle cx="645.7" cy="1382.4" r="5.1"/><circle cx="647.5" cy="1365.1" r="5.1"/><circle cx="649.2" cy="1372.3" r="5.1"/><circle cx="651" cy="1351.6" r="5.1"/><circle cx="652.8" cy="1364.7" r="5.1"/><circle cx="654.5" cy="1393.4" r="5.1"/><circle cx="656.3" cy="1372.1" r="5.1"/><circle cx="658" cy="1370.1" r="5.1"/><circle cx="659.8" cy="1363.6" r="5.1"/><circle cx="661.5" cy="1358.4" r="5.1"/><circle cx="663.3" cy="1362" r="5.1"/><circle cx="665.1" cy="1353.9" r="5.1"/><circle cx="666.8" cy="1350.7" r="5.1"/><circle cx="668.6" cy="1385" r="5.1"/><circle cx="670.3" cy="1385.4" r="5.1"/><circle cx="672.1" cy="1370.6" r="5.1"/><circle cx="673.9" cy="1402.4" r="5.1"/><circle cx="675.6" cy="1388.4" r="5.1"/><circle cx="677.4" cy="1403.7" r="5.1"/><circle cx="679.1" cy="1389.4" r="5.1"/><circle cx="680.9" cy="1384.5" r="5.1"/><circle cx="682.6" cy="1354.6" r="5.1"/><circle cx="684.4" cy="1356.9" r="5.1"/><circle cx="686.2" cy="1345.7" r="5.1"/><circle cx="687.9" cy="1353.7" r="5.1"/><circle cx="689.7" cy="1347" r="5.1"/><circle cx="691.4" cy="1334.7" r="5.1"/><circle cx="693.2" cy="1349.4" r="5.1"/><circle cx="694.9" cy="1343.6" r="5.1"/><circle cx="696.7" cy="1348.9" r="5.1"/><circle cx="698.5" cy="1364.8" r="5.1"/><circle cx="700.2" cy="1395.3" r="5.1"/><circle cx="702" cy="1393" r="5.1"/><circle cx="703.7" cy="1421.4" r="5.1"/><circle cx="705.5" cy="1404.1" r="5.1"/><circle cx="707.3" cy="1380" r="5.1"/><circle cx="709" cy="1373.4" r="5.1"/><circle cx="710.8" cy="1362.1" r="5.1"/><circle cx="712.5" cy="1347.7" r="5.1"/><circle cx="714.3" cy="1337.9" r="5.1"/><circle cx="716" cy="1331.7" r="5.1"/><circle cx="717.8" cy="1344.9" r="5.1"/><circle cx="719.6" cy="1382.5" r="5.1"/><circle cx="721.3" cy="1399.7" r="5.1"/><circle cx="723.1" cy="1403.4" r="5.1"/><circle cx="724.8" cy="1412.9" r="5.1"/><circle cx="726.6" cy="1456.8" r="5.1"/><circle cx="728.3" cy="1450.9" r="5.1"/><circle cx="730.1" cy="1457.2" r="5.1"/><circle cx="731.9" cy="1431.5" r="5.1"/><circle cx="733.6" cy="1396.2" r="5.1"/><circle cx="735.4" cy="1370.7" r="5.1"/><circle cx="737.1" cy="1359.4" r="5.1"/><circle cx="738.9" cy="1333" r="5.1"/><circle cx="740.7" cy="1312.6" r="5.1"/><circle cx="742.4" cy="1311" r="5.1"/><circle cx="744.2" cy="1291.3" r="5.1"/><circle cx="745.9" cy="1313.9" r="5.1"/><circle cx="747.7" cy="1302.5" r="5.1"/><circle cx="749.4" cy="1311.4" r="5.1"/><circle cx="751.2" cy="1338.6" r="5.1"/><circle cx="753" cy="1369.2" r="5.1"/><circle cx="754.7" cy="1348.7" r="5.1"/><circle cx="756.5" cy="1361.6" r="5.1"/><circle cx="758.2" cy="1348.1" r="5.1"/><circle cx="760" cy="1356.6" r="5.1"/><circle cx="761.8" cy="1314.9" r="5.1"/><circle cx="763.5" cy="1330" r="5.1"/><circle cx="765.3" cy="1326.6" r="5.1"/><circle cx="767" cy="1317.2" r="5.1"/><circle cx="768.8" cy="1332.7" r="5.1"/><circle cx="770.5" cy="1330" r="5.1"/><circle cx="772.3" cy="1338.1" r="5.1"/><circle cx="774.1" cy="1352.9" r="5.1"/><circle cx="775.8" cy="1327.6" r="5.1"/><circle cx="777.6" cy="1337.7" r="5.1"/><circle cx="779.3" cy="1355.3" r="5.1"/><circle cx="781.1" cy="1384.1" r="5.1"/><circle cx="782.8" cy="1393.6" r="5.1"/><circle cx="784.6" cy="1334.2" r="5.1"/><circle cx="786.4" cy="1347.7" r="5.1"/><circle cx="788.1" cy="1332.1" r="5.1"/><circle cx="789.9" cy="1328.6" r="5.1"/><circle cx="791.6" cy="1333.3" r="5.1"/><circle cx="793.4" cy="1317" r="5.1"/><circle cx="795.2" cy="1316.2" r="5.1"/><circle cx="796.9" cy="1356" r="5.1"/><circle cx="798.7" cy="1343.7" r="5.1"/><circle cx="800.4" cy="1338.5" r="5.1"/><circle cx="802.2" cy="1362.7" r="5.1"/><circle cx="803.9" cy="1335.1" r="5.1"/><circle cx="805.7" cy="1339.5" r="5.1"/><circle cx="807.5" cy="1375.9" r="5.1"/><circle cx="809.2" cy="1329.4" r="5.1"/><circle cx="811" cy="1354.6" r="5.1"/><circle cx="812.7" cy="1326.1" r="5.1"/><circle cx="814.5" cy="1335" r="5.1"/><circle cx="816.2" cy="1354.7" r="5.1"/><circle cx="818" cy="1351.1" r="5.1"/><circle cx="819.8" cy="1341" r="5.1"/><circle cx="821.5" cy="1336.5" r="5.1"/><circle cx="823.3" cy="1353.4" r="5.1"/><circle cx="825" cy="1371.3" r="5.1"/><circle cx="826.8" cy="1368.8" r="5.1"/><circle cx="828.6" cy="1357.9" r="5.1"/><circle cx="830.3" cy="1351.7" r="5.1"/><circle cx="832.1" cy="1340.5" r="5.1"/><circle cx="833.8" cy="1358.6" r="5.1"/><circle cx="835.6" cy="1376.5" r="5.1"/><circle cx="837.3" cy="1365.2" r="5.1"/><circle cx="839.1" cy="1361.8" r="5.1"/><circle cx="840.9" cy="1364.4" r="5.1"/><circle cx="842.6" cy="1377.6" r="5.1"/><circle cx="844.4" cy="1373.5" r="5.1"/><circle cx="846.1" cy="1355.9" r="5.1"/><circle cx="847.9" cy="1326.3" r="5.1"/><circle cx="849.6" cy="1294.6" r="5.1"/><circle cx="851.4" cy="1293.6" r="5.1"/><circle cx="853.2" cy="1337.4" r="5.1"/><circle cx="854.9" cy="1331.9" r="5.1"/><circle cx="856.7" cy="1363.1" r="5.1"/><circle cx="858.4" cy="1372.8" r="5.1"/><circle cx="860.2" cy="1372.4" r="5.1"/><circle cx="862" cy="1364.1" r="5.1"/><circle cx="863.7" cy="1401.5" r="5.1"/><circle cx="865.5" cy="1360.9" r="5.1"/><circle cx="867.2" cy="1360.7" r="5.1"/><circle cx="869" cy="1364.1" r="5.1"/><circle cx="870.7" cy="1361.4" r="5.1"/><circle cx="872.5" cy="1374.3" r="5.1"/><circle cx="874.3" cy="1398.1" r="5.1"/><circle cx="876" cy="1375.5" r="5.1"/><circle cx="877.8" cy="1425.6" r="5.1"/><circle cx="879.5" cy="1406.6" r="5.1"/><circle cx="881.3" cy="1400.6" r="5.1"/><circle cx="883.1" cy="1364.8" r="5.1"/><circle cx="884.8" cy="1357.5" r="5.1"/><circle cx="886.6" cy="1350.2" r="5.1"/><circle cx="888.3" cy="1315.2" r="5.1"/><circle cx="890.1" cy="1286.1" r="5.1"/><circle cx="891.8" cy="1265.5" r="5.1"/><circle cx="893.6" cy="1267.2" r="5.1"/><circle cx="895.4" cy="1298.3" r="5.1"/><circle cx="897.1" cy="1362" r="5.1"/><circle cx="898.9" cy="1345.7" r="5.1"/><circle cx="900.6" cy="1357.7" r="5.1"/><circle cx="902.4" cy="1386.4" r="5.1"/><circle cx="904.1" cy="1392.5" r="5.1"/><circle cx="905.9" cy="1353.1" r="5.1"/><circle cx="907.7" cy="1351" r="5.1"/><circle cx="909.4" cy="1328" r="5.1"/><circle cx="911.2" cy="1319.4" r="5.1"/><circle cx="912.9" cy="1310.6" r="5.1"/><circle cx="914.7" cy="1276.4" r="5.1"/><circle cx="916.5" cy="1339.5" r="5.1"/><circle cx="918.2" cy="1368.6" r="5.1"/><circle cx="920" cy="1379" r="5.1"/><circle cx="921.7" cy="1405.8" r="5.1"/><circle cx="923.5" cy="1414" r="5.1"/><circle cx="925.2" cy="1403.3" r="5.1"/><circle cx="927" cy="1362.3" r="5.1"/><circle cx="928.8" cy="1301.1" r="5.1"/><circle cx="930.5" cy="1340" r="5.1"/><circle cx="932.3" cy="1342" r="5.1"/><circle cx="934" cy="1373.8" r="5.1"/><circle cx="935.8" cy="1388.3" r="5.1"/><circle cx="937.5" cy="1391" r="5.1"/><circle cx="939.3" cy="1412.8" r="5.1"/><circle cx="941.1" cy="1382" r="5.1"/><circle cx="942.8" cy="1366.8" r="5.1"/><circle cx="944.6" cy="1293.5" r="5.1"/><circle cx="946.3" cy="1289.4" r="5.1"/><circle cx="948.1" cy="1309.5" r="5.1"/><circle cx="949.9" cy="1344.7" r="5.1"/><circle cx="951.6" cy="1378" r="5.1"/><circle cx="953.4" cy="1404.9" r="5.1"/><circle cx="955.1" cy="1385.4" r="5.1"/><circle cx="956.9" cy="1394.5" r="5.1"/><circle cx="958.6" cy="1394.3" r="5.1"/><circle cx="960.4" cy="1367.1" r="5.1"/><circle cx="962.2" cy="1330.1" r="5.1"/><circle cx="963.9" cy="1321.1" r="5.1"/></g>
</g>
<g clip-path="url(#mcB)">
<polyline points="104.3,1313.9 106,1325.8 107.8,1334.8 109.5,1328.8 111.3,1311 113,1302 114.8,1293.1 116.6,1287.1 118.3,1281.2 120.1,1293.1 121.8,1308 123.6,1319.9 125.4,1331.8 127.1,1317 128.9,1330.9 130.6,1334.2 132.4,1324 134.1,1321 135.9,1353.6 137.7,1349.4 139.4,1346.7 141.2,1331.7 142.9,1330.1 144.7,1321.1 146.4,1322.3 148.2,1329.4 150,1317.3 151.7,1308.2 153.5,1322.9 155.2,1340.5 157,1306.4 158.8,1306.6 160.5,1292.8 162.3,1269.8 164,1293.8 165.8,1306.2 167.5,1334.8 169.3,1317 171.1,1320.1 172.8,1331.1 174.6,1335.8 176.3,1310.1 178.1,1298 179.9,1286.5 181.6,1279.5 183.4,1271.1 185.1,1266 186.9,1282.1 188.6,1295.2 190.4,1306.5 192.2,1311.3 193.9,1316.2 195.7,1321 197.4,1328 199.2,1335.8 200.9,1351.5 202.7,1320.5 204.5,1326.4 206.2,1324.7 208,1318.1 209.7,1332.8 211.5,1348.7 213.3,1340 215,1357.9 216.8,1368.7 218.5,1352.7 220.3,1346.2 222,1310.4 223.8,1345.6 225.6,1329.8 227.3,1320.3 229.1,1316.4 230.8,1340.3 232.6,1331.5 234.3,1354.8 236.1,1372.9 237.9,1377.1 239.6,1365.3 241.4,1355.4 243.1,1349.1 244.9,1336.5 246.7,1316.2 248.4,1318.5 250.2,1310.3 251.9,1341.6 253.7,1353 255.4,1332.1 257.2,1359 259,1369.3 260.7,1385.7 262.5,1378.2 264.2,1367.6 266,1354 267.8,1329.1 269.5,1340 271.3,1322.8 273,1333 274.8,1307.7 276.5,1326.3 278.3,1302.5 280.1,1334.6 281.8,1308.3 283.6,1333.7 285.3,1342 287.1,1325.5 288.8,1326.3 290.6,1338.4 292.4,1346.2 294.1,1361.7 295.9,1346.9 297.6,1344.6 299.4,1371.4 301.2,1355 302.9,1342.5 304.7,1369.9 306.4,1343 308.2,1338.5 309.9,1352.5 311.7,1346.6 313.5,1363.1 315.2,1346.7 317,1334 318.7,1351 320.5,1352 322.2,1374.3 324,1335 325.8,1340.2 327.5,1383.7 329.3,1393.3 331,1411.9 332.8,1411.8 334.6,1449.5 336.3,1399 338.1,1411.7 339.8,1361.7 341.6,1375.6 343.3,1359.8 345.1,1376.1 346.9,1371.5 348.6,1355.1 350.4,1348.4 352.1,1303.6 353.9,1334.5 355.7,1377.4 357.4,1405.4 359.2,1404.2 360.9,1421.8 362.7,1409.2 364.4,1384.1 366.2,1370.1 368,1370.3 369.7,1355.1 371.5,1373.5 373.2,1394.2 375,1419.5 376.7,1420.2 378.5,1419.8 380.3,1411.4 382,1392.1 383.8,1393 385.5,1388.5 387.3,1376.3 389.1,1371.6 390.8,1412.6 392.6,1408.4 394.3,1415.5 396.1,1439.4 397.8,1431.8 399.6,1433.4 401.4,1414.2 403.1,1405.6 404.9,1372.1 406.6,1329.7 408.4,1290.5 410.1,1338.1 411.9,1379.6 413.7,1386.1 415.4,1442.9 417.2,1454 418.9,1488.4 420.7,1450.2 422.5,1435 424.2,1436.9 426,1410.3 427.7,1392.5 429.5,1391.6 431.2,1355.7 433,1380.2 434.8,1371.9 436.5,1391.1 438.3,1389.8 440,1399.7 441.8,1434.2 443.6,1421.4 445.3,1411.2 447.1,1416.8 448.8,1388.8 450.6,1382.3 452.3,1397.2 454.1,1388.3 455.9,1386.8 457.6,1397.5 459.4,1382.3 461.1,1391.6 462.9,1399.7 464.6,1409 466.4,1413.5 468.2,1416.6 469.9,1408.9 471.7,1425.5 473.4,1405.8 475.2,1388.6 477,1410.4 478.7,1400.8 480.5,1383.1 482.2,1385.2 484,1389.7 485.7,1389.4 487.5,1397.5 489.3,1400.8 491,1422.3 492.8,1411.6 494.5,1404.4 496.3,1394.5 498.1,1395.7 499.8,1402 501.6,1397.5 503.3,1375 505.1,1389.5 506.8,1393.7 508.6,1403 510.4,1397.8 512.1,1387.8 513.9,1395.4 515.6,1385.5 517.4,1383.6 519.1,1381.4 520.9,1387.7 522.7,1379.1 524.4,1365 526.2,1370.9 527.9,1367.5 529.7,1365.7 531.5,1377.1 533.2,1378.4 535,1374.8 536.7,1387 538.5,1393.8 540.2,1382.5 542,1382.7 543.8,1385.1 545.5,1387.8 547.3,1373.8 549,1376.1 550.8,1386.6 552.5,1382.2 554.3,1384.1 556.1,1390.9 557.8,1375 559.6,1377.3 561.3,1394.7 563.1,1376.5 564.9,1377.6 566.6,1378.7 568.4,1379 570.1,1382.4 571.9,1384.7 573.6,1385.5 575.4,1376.2 577.2,1389 578.9,1384.8 580.7,1385.4 582.4,1375.9 584.2,1367.5 586,1366.9 587.7,1373.5 589.5,1369.9 591.2,1378.2 593,1386.6 594.7,1378.8 596.5,1372.3 598.3,1363.4 600,1367.5 601.8,1364 603.5,1369.9 605.3,1379.4 607,1388.4 608.8,1378.2 610.6,1380 612.3,1382.4 614.1,1369.9 615.8,1358.6 617.6,1374.7 619.4,1384.2 621.1,1384.2 622.9,1386 624.6,1395.5 626.4,1393.1 628.1,1386 629.9,1384.2 631.7,1387.2 633.4,1386 635.2,1371.1 636.9,1374.7 638.7,1375.3 640.4,1377 642.2,1382.4 644,1385.4 645.7,1374.7 647.5,1380.6 649.2,1370.7 651,1368.9 652.8,1372 654.5,1377.5 656.3,1370.5 658,1367.5 659.8,1366.6 661.5,1363.5 663.3,1366.3 665.1,1363.2 666.8,1372.4 668.6,1375.3 670.3,1374.2 672.1,1374.5 673.9,1389 675.6,1387.2 677.4,1385.3 679.1,1375.4 680.9,1374 682.6,1351.2 684.4,1355.1 686.2,1356 687.9,1349.1 689.7,1347 691.4,1348.5 693.2,1351.6 694.9,1350.7 696.7,1358 698.5,1369.6 700.2,1385.7 702,1381.7 703.7,1393.6 705.5,1392 707.3,1381.5 709,1377.1 710.8,1352.7 712.5,1355.9 714.3,1351.5 716,1344 717.8,1341.9 719.6,1372.8 721.3,1381.6 723.1,1402.3 724.8,1414.2 726.6,1441.2 728.3,1433.4 730.1,1427.4 731.9,1419.3 733.6,1388.2 735.4,1376.1 737.1,1348.9 738.9,1343.5 740.7,1320.3 742.4,1309.1 744.2,1299.7 745.9,1306.2 747.7,1327 749.4,1319.3 751.2,1337.6 753,1346.5 754.7,1345.6 756.5,1342.4 758.2,1348.2 760,1345.6 761.8,1326.5 763.5,1332.5 765.3,1327.8 767,1319 768.8,1334.1 770.5,1348 772.3,1341.4 774.1,1355.4 775.8,1346.8 777.6,1353.9 779.3,1354.3 781.1,1364.5 782.8,1366 784.6,1347.6 786.4,1341.8 788.1,1343.4 789.9,1343.4 791.6,1341.9 793.4,1341 795.2,1333.1 796.9,1346 798.7,1340 800.4,1335.5 802.2,1341.1 803.9,1342.3 805.7,1339.8 807.5,1332.3 809.2,1328.1 811,1345.8 812.7,1324.1 814.5,1338.7 816.2,1343.3 818,1352.4 819.8,1352.1 821.5,1343.8 823.3,1347.8 825,1364.5 826.8,1359.5 828.6,1355.1 830.3,1360.7 832.1,1342.4 833.8,1347.4 835.6,1358.9 837.3,1367.3 839.1,1357.2 840.9,1361.6 842.6,1363.1 844.4,1361.5 846.1,1343.1 847.9,1339.3 849.6,1323 851.4,1320.3 853.2,1337.9 854.9,1343.7 856.7,1357.9 858.4,1361.7 860.2,1371.3 862,1362.8 863.7,1383.5 865.5,1365.9 867.2,1365.5 869,1357.6 870.7,1374.6 872.5,1373.2 874.3,1373.9 876,1383.1 877.8,1384.4 879.5,1380.2 881.3,1375.7 883.1,1367.8 884.8,1364.5 886.6,1333.5 888.3,1320.8 890.1,1290 891.8,1300.4 893.6,1272 895.4,1296.5 897.1,1354.1 898.9,1357.1 900.6,1354.8 902.4,1380.6 904.1,1360.9 905.9,1346.4 907.7,1353.7 909.4,1331.1 911.2,1331.1 912.9,1311.2 914.7,1352.4 916.5,1348.3 918.2,1369.5 920,1373 921.7,1375.3 923.5,1385.1 925.2,1383.2 927,1362.4 928.8,1370.4 930.5,1344.3 932.3,1361.5 934,1384.1 935.8,1379.3 937.5,1384.5 939.3,1377.1 941.1,1380.7 942.8,1359.5 944.6,1329.2 946.3,1325.1 948.1,1348.3 949.9,1346.1 951.6,1361.8 953.4,1380.3 955.1,1389.7 956.9,1381.7 958.6,1373.7 960.4,1365 962.2,1349.7 963.9,1320.2" fill="none" stroke="#ffff00" stroke-width="4.3" stroke-linejoin="miter" stroke-miterlimit="8"/>
<g fill="#ffff00"><circle cx="104.3" cy="1313.9" r="3"/><circle cx="106" cy="1325.8" r="3"/><circle cx="107.8" cy="1334.8" r="3"/><circle cx="109.5" cy="1328.8" r="3"/><circle cx="111.3" cy="1311" r="3"/><circle cx="113" cy="1302" r="3"/><circle cx="114.8" cy="1293.1" r="3"/><circle cx="116.6" cy="1287.1" r="3"/><circle cx="118.3" cy="1281.2" r="3"/><circle cx="120.1" cy="1293.1" r="3"/><circle cx="121.8" cy="1308" r="3"/><circle cx="123.6" cy="1319.9" r="3"/><circle cx="125.4" cy="1331.8" r="3"/><circle cx="127.1" cy="1317" r="3"/><circle cx="128.9" cy="1330.9" r="3"/><circle cx="130.6" cy="1334.2" r="3"/><circle cx="132.4" cy="1324" r="3"/><circle cx="134.1" cy="1321" r="3"/><circle cx="135.9" cy="1353.6" r="3"/><circle cx="137.7" cy="1349.4" r="3"/><circle cx="139.4" cy="1346.7" r="3"/><circle cx="141.2" cy="1331.7" r="3"/><circle cx="142.9" cy="1330.1" r="3"/><circle cx="144.7" cy="1321.1" r="3"/><circle cx="146.4" cy="1322.3" r="3"/><circle cx="148.2" cy="1329.4" r="3"/><circle cx="150" cy="1317.3" r="3"/><circle cx="151.7" cy="1308.2" r="3"/><circle cx="153.5" cy="1322.9" r="3"/><circle cx="155.2" cy="1340.5" r="3"/><circle cx="157" cy="1306.4" r="3"/><circle cx="158.8" cy="1306.6" r="3"/><circle cx="160.5" cy="1292.8" r="3"/><circle cx="162.3" cy="1269.8" r="3"/><circle cx="164" cy="1293.8" r="3"/><circle cx="165.8" cy="1306.2" r="3"/><circle cx="167.5" cy="1334.8" r="3"/><circle cx="169.3" cy="1317" r="3"/><circle cx="171.1" cy="1320.1" r="3"/><circle cx="172.8" cy="1331.1" r="3"/><circle cx="174.6" cy="1335.8" r="3"/><circle cx="176.3" cy="1310.1" r="3"/><circle cx="178.1" cy="1298" r="3"/><circle cx="179.9" cy="1286.5" r="3"/><circle cx="181.6" cy="1279.5" r="3"/><circle cx="183.4" cy="1271.1" r="3"/><circle cx="185.1" cy="1266" r="3"/><circle cx="186.9" cy="1282.1" r="3"/><circle cx="188.6" cy="1295.2" r="3"/><circle cx="190.4" cy="1306.5" r="3"/><circle cx="192.2" cy="1311.3" r="3"/><circle cx="193.9" cy="1316.2" r="3"/><circle cx="195.7" cy="1321" r="3"/><circle cx="197.4" cy="1328" r="3"/><circle cx="199.2" cy="1335.8" r="3"/><circle cx="200.9" cy="1351.5" r="3"/><circle cx="202.7" cy="1320.5" r="3"/><circle cx="204.5" cy="1326.4" r="3"/><circle cx="206.2" cy="1324.7" r="3"/><circle cx="208" cy="1318.1" r="3"/><circle cx="209.7" cy="1332.8" r="3"/><circle cx="211.5" cy="1348.7" r="3"/><circle cx="213.3" cy="1340" r="3"/><circle cx="215" cy="1357.9" r="3"/><circle cx="216.8" cy="1368.7" r="3"/><circle cx="218.5" cy="1352.7" r="3"/><circle cx="220.3" cy="1346.2" r="3"/><circle cx="222" cy="1310.4" r="3"/><circle cx="223.8" cy="1345.6" r="3"/><circle cx="225.6" cy="1329.8" r="3"/><circle cx="227.3" cy="1320.3" r="3"/><circle cx="229.1" cy="1316.4" r="3"/><circle cx="230.8" cy="1340.3" r="3"/><circle cx="232.6" cy="1331.5" r="3"/><circle cx="234.3" cy="1354.8" r="3"/><circle cx="236.1" cy="1372.9" r="3"/><circle cx="237.9" cy="1377.1" r="3"/><circle cx="239.6" cy="1365.3" r="3"/><circle cx="241.4" cy="1355.4" r="3"/><circle cx="243.1" cy="1349.1" r="3"/><circle cx="244.9" cy="1336.5" r="3"/><circle cx="246.7" cy="1316.2" r="3"/><circle cx="248.4" cy="1318.5" r="3"/><circle cx="250.2" cy="1310.3" r="3"/><circle cx="251.9" cy="1341.6" r="3"/><circle cx="253.7" cy="1353" r="3"/><circle cx="255.4" cy="1332.1" r="3"/><circle cx="257.2" cy="1359" r="3"/><circle cx="259" cy="1369.3" r="3"/><circle cx="260.7" cy="1385.7" r="3"/><circle cx="262.5" cy="1378.2" r="3"/><circle cx="264.2" cy="1367.6" r="3"/><circle cx="266" cy="1354" r="3"/><circle cx="267.8" cy="1329.1" r="3"/><circle cx="269.5" cy="1340" r="3"/><circle cx="271.3" cy="1322.8" r="3"/><circle cx="273" cy="1333" r="3"/><circle cx="274.8" cy="1307.7" r="3"/><circle cx="276.5" cy="1326.3" r="3"/><circle cx="278.3" cy="1302.5" r="3"/><circle cx="280.1" cy="1334.6" r="3"/><circle cx="281.8" cy="1308.3" r="3"/><circle cx="283.6" cy="1333.7" r="3"/><circle cx="285.3" cy="1342" r="3"/><circle cx="287.1" cy="1325.5" r="3"/><circle cx="288.8" cy="1326.3" r="3"/><circle cx="290.6" cy="1338.4" r="3"/><circle cx="292.4" cy="1346.2" r="3"/><circle cx="294.1" cy="1361.7" r="3"/><circle cx="295.9" cy="1346.9" r="3"/><circle cx="297.6" cy="1344.6" r="3"/><circle cx="299.4" cy="1371.4" r="3"/><circle cx="301.2" cy="1355" r="3"/><circle cx="302.9" cy="1342.5" r="3"/><circle cx="304.7" cy="1369.9" r="3"/><circle cx="306.4" cy="1343" r="3"/><circle cx="308.2" cy="1338.5" r="3"/><circle cx="309.9" cy="1352.5" r="3"/><circle cx="311.7" cy="1346.6" r="3"/><circle cx="313.5" cy="1363.1" r="3"/><circle cx="315.2" cy="1346.7" r="3"/><circle cx="317" cy="1334" r="3"/><circle cx="318.7" cy="1351" r="3"/><circle cx="320.5" cy="1352" r="3"/><circle cx="322.2" cy="1374.3" r="3"/><circle cx="324" cy="1335" r="3"/><circle cx="325.8" cy="1340.2" r="3"/><circle cx="327.5" cy="1383.7" r="3"/><circle cx="329.3" cy="1393.3" r="3"/><circle cx="331" cy="1411.9" r="3"/><circle cx="332.8" cy="1411.8" r="3"/><circle cx="334.6" cy="1449.5" r="3"/><circle cx="336.3" cy="1399" r="3"/><circle cx="338.1" cy="1411.7" r="3"/><circle cx="339.8" cy="1361.7" r="3"/><circle cx="341.6" cy="1375.6" r="3"/><circle cx="343.3" cy="1359.8" r="3"/><circle cx="345.1" cy="1376.1" r="3"/><circle cx="346.9" cy="1371.5" r="3"/><circle cx="348.6" cy="1355.1" r="3"/><circle cx="350.4" cy="1348.4" r="3"/><circle cx="352.1" cy="1303.6" r="3"/><circle cx="353.9" cy="1334.5" r="3"/><circle cx="355.7" cy="1377.4" r="3"/><circle cx="357.4" cy="1405.4" r="3"/><circle cx="359.2" cy="1404.2" r="3"/><circle cx="360.9" cy="1421.8" r="3"/><circle cx="362.7" cy="1409.2" r="3"/><circle cx="364.4" cy="1384.1" r="3"/><circle cx="366.2" cy="1370.1" r="3"/><circle cx="368" cy="1370.3" r="3"/><circle cx="369.7" cy="1355.1" r="3"/><circle cx="371.5" cy="1373.5" r="3"/><circle cx="373.2" cy="1394.2" r="3"/><circle cx="375" cy="1419.5" r="3"/><circle cx="376.7" cy="1420.2" r="3"/><circle cx="378.5" cy="1419.8" r="3"/><circle cx="380.3" cy="1411.4" r="3"/><circle cx="382" cy="1392.1" r="3"/><circle cx="383.8" cy="1393" r="3"/><circle cx="385.5" cy="1388.5" r="3"/><circle cx="387.3" cy="1376.3" r="3"/><circle cx="389.1" cy="1371.6" r="3"/><circle cx="390.8" cy="1412.6" r="3"/><circle cx="392.6" cy="1408.4" r="3"/><circle cx="394.3" cy="1415.5" r="3"/><circle cx="396.1" cy="1439.4" r="3"/><circle cx="397.8" cy="1431.8" r="3"/><circle cx="399.6" cy="1433.4" r="3"/><circle cx="401.4" cy="1414.2" r="3"/><circle cx="403.1" cy="1405.6" r="3"/><circle cx="404.9" cy="1372.1" r="3"/><circle cx="406.6" cy="1329.7" r="3"/><circle cx="408.4" cy="1290.5" r="3"/><circle cx="410.1" cy="1338.1" r="3"/><circle cx="411.9" cy="1379.6" r="3"/><circle cx="413.7" cy="1386.1" r="3"/><circle cx="415.4" cy="1442.9" r="3"/><circle cx="417.2" cy="1454" r="3"/><circle cx="418.9" cy="1488.4" r="3"/><circle cx="420.7" cy="1450.2" r="3"/><circle cx="422.5" cy="1435" r="3"/><circle cx="424.2" cy="1436.9" r="3"/><circle cx="426" cy="1410.3" r="3"/><circle cx="427.7" cy="1392.5" r="3"/><circle cx="429.5" cy="1391.6" r="3"/><circle cx="431.2" cy="1355.7" r="3"/><circle cx="433" cy="1380.2" r="3"/><circle cx="434.8" cy="1371.9" r="3"/><circle cx="436.5" cy="1391.1" r="3"/><circle cx="438.3" cy="1389.8" r="3"/><circle cx="440" cy="1399.7" r="3"/><circle cx="441.8" cy="1434.2" r="3"/><circle cx="443.6" cy="1421.4" r="3"/><circle cx="445.3" cy="1411.2" r="3"/><circle cx="447.1" cy="1416.8" r="3"/><circle cx="448.8" cy="1388.8" r="3"/><circle cx="450.6" cy="1382.3" r="3"/><circle cx="452.3" cy="1397.2" r="3"/><circle cx="454.1" cy="1388.3" r="3"/><circle cx="455.9" cy="1386.8" r="3"/><circle cx="457.6" cy="1397.5" r="3"/><circle cx="459.4" cy="1382.3" r="3"/><circle cx="461.1" cy="1391.6" r="3"/><circle cx="462.9" cy="1399.7" r="3"/><circle cx="464.6" cy="1409" r="3"/><circle cx="466.4" cy="1413.5" r="3"/><circle cx="468.2" cy="1416.6" r="3"/><circle cx="469.9" cy="1408.9" r="3"/><circle cx="471.7" cy="1425.5" r="3"/><circle cx="473.4" cy="1405.8" r="3"/><circle cx="475.2" cy="1388.6" r="3"/><circle cx="477" cy="1410.4" r="3"/><circle cx="478.7" cy="1400.8" r="3"/><circle cx="480.5" cy="1383.1" r="3"/><circle cx="482.2" cy="1385.2" r="3"/><circle cx="484" cy="1389.7" r="3"/><circle cx="485.7" cy="1389.4" r="3"/><circle cx="487.5" cy="1397.5" r="3"/><circle cx="489.3" cy="1400.8" r="3"/><circle cx="491" cy="1422.3" r="3"/><circle cx="492.8" cy="1411.6" r="3"/><circle cx="494.5" cy="1404.4" r="3"/><circle cx="496.3" cy="1394.5" r="3"/><circle cx="498.1" cy="1395.7" r="3"/><circle cx="499.8" cy="1402" r="3"/><circle cx="501.6" cy="1397.5" r="3"/><circle cx="503.3" cy="1375" r="3"/><circle cx="505.1" cy="1389.5" r="3"/><circle cx="506.8" cy="1393.7" r="3"/><circle cx="508.6" cy="1403" r="3"/><circle cx="510.4" cy="1397.8" r="3"/><circle cx="512.1" cy="1387.8" r="3"/><circle cx="513.9" cy="1395.4" r="3"/><circle cx="515.6" cy="1385.5" r="3"/><circle cx="517.4" cy="1383.6" r="3"/><circle cx="519.1" cy="1381.4" r="3"/><circle cx="520.9" cy="1387.7" r="3"/><circle cx="522.7" cy="1379.1" r="3"/><circle cx="524.4" cy="1365" r="3"/><circle cx="526.2" cy="1370.9" r="3"/><circle cx="527.9" cy="1367.5" r="3"/><circle cx="529.7" cy="1365.7" r="3"/><circle cx="531.5" cy="1377.1" r="3"/><circle cx="533.2" cy="1378.4" r="3"/><circle cx="535" cy="1374.8" r="3"/><circle cx="536.7" cy="1387" r="3"/><circle cx="538.5" cy="1393.8" r="3"/><circle cx="540.2" cy="1382.5" r="3"/><circle cx="542" cy="1382.7" r="3"/><circle cx="543.8" cy="1385.1" r="3"/><circle cx="545.5" cy="1387.8" r="3"/><circle cx="547.3" cy="1373.8" r="3"/><circle cx="549" cy="1376.1" r="3"/><circle cx="550.8" cy="1386.6" r="3"/><circle cx="552.5" cy="1382.2" r="3"/><circle cx="554.3" cy="1384.1" r="3"/><circle cx="556.1" cy="1390.9" r="3"/><circle cx="557.8" cy="1375" r="3"/><circle cx="559.6" cy="1377.3" r="3"/><circle cx="561.3" cy="1394.7" r="3"/><circle cx="563.1" cy="1376.5" r="3"/><circle cx="564.9" cy="1377.6" r="3"/><circle cx="566.6" cy="1378.7" r="3"/><circle cx="568.4" cy="1379" r="3"/><circle cx="570.1" cy="1382.4" r="3"/><circle cx="571.9" cy="1384.7" r="3"/><circle cx="573.6" cy="1385.5" r="3"/><circle cx="575.4" cy="1376.2" r="3"/><circle cx="577.2" cy="1389" r="3"/><circle cx="578.9" cy="1384.8" r="3"/><circle cx="580.7" cy="1385.4" r="3"/><circle cx="582.4" cy="1375.9" r="3"/><circle cx="584.2" cy="1367.5" r="3"/><circle cx="586" cy="1366.9" r="3"/><circle cx="587.7" cy="1373.5" r="3"/><circle cx="589.5" cy="1369.9" r="3"/><circle cx="591.2" cy="1378.2" r="3"/><circle cx="593" cy="1386.6" r="3"/><circle cx="594.7" cy="1378.8" r="3"/><circle cx="596.5" cy="1372.3" r="3"/><circle cx="598.3" cy="1363.4" r="3"/><circle cx="600" cy="1367.5" r="3"/><circle cx="601.8" cy="1364" r="3"/><circle cx="603.5" cy="1369.9" r="3"/><circle cx="605.3" cy="1379.4" r="3"/><circle cx="607" cy="1388.4" r="3"/><circle cx="608.8" cy="1378.2" r="3"/><circle cx="610.6" cy="1380" r="3"/><circle cx="612.3" cy="1382.4" r="3"/><circle cx="614.1" cy="1369.9" r="3"/><circle cx="615.8" cy="1358.6" r="3"/><circle cx="617.6" cy="1374.7" r="3"/><circle cx="619.4" cy="1384.2" r="3"/><circle cx="621.1" cy="1384.2" r="3"/><circle cx="622.9" cy="1386" r="3"/><circle cx="624.6" cy="1395.5" r="3"/><circle cx="626.4" cy="1393.1" r="3"/><circle cx="628.1" cy="1386" r="3"/><circle cx="629.9" cy="1384.2" r="3"/><circle cx="631.7" cy="1387.2" r="3"/><circle cx="633.4" cy="1386" r="3"/><circle cx="635.2" cy="1371.1" r="3"/><circle cx="636.9" cy="1374.7" r="3"/><circle cx="638.7" cy="1375.3" r="3"/><circle cx="640.4" cy="1377" r="3"/><circle cx="642.2" cy="1382.4" r="3"/><circle cx="644" cy="1385.4" r="3"/><circle cx="645.7" cy="1374.7" r="3"/><circle cx="647.5" cy="1380.6" r="3"/><circle cx="649.2" cy="1370.7" r="3"/><circle cx="651" cy="1368.9" r="3"/><circle cx="652.8" cy="1372" r="3"/><circle cx="654.5" cy="1377.5" r="3"/><circle cx="656.3" cy="1370.5" r="3"/><circle cx="658" cy="1367.5" r="3"/><circle cx="659.8" cy="1366.6" r="3"/><circle cx="661.5" cy="1363.5" r="3"/><circle cx="663.3" cy="1366.3" r="3"/><circle cx="665.1" cy="1363.2" r="3"/><circle cx="666.8" cy="1372.4" r="3"/><circle cx="668.6" cy="1375.3" r="3"/><circle cx="670.3" cy="1374.2" r="3"/><circle cx="672.1" cy="1374.5" r="3"/><circle cx="673.9" cy="1389" r="3"/><circle cx="675.6" cy="1387.2" r="3"/><circle cx="677.4" cy="1385.3" r="3"/><circle cx="679.1" cy="1375.4" r="3"/><circle cx="680.9" cy="1374" r="3"/><circle cx="682.6" cy="1351.2" r="3"/><circle cx="684.4" cy="1355.1" r="3"/><circle cx="686.2" cy="1356" r="3"/><circle cx="687.9" cy="1349.1" r="3"/><circle cx="689.7" cy="1347" r="3"/><circle cx="691.4" cy="1348.5" r="3"/><circle cx="693.2" cy="1351.6" r="3"/><circle cx="694.9" cy="1350.7" r="3"/><circle cx="696.7" cy="1358" r="3"/><circle cx="698.5" cy="1369.6" r="3"/><circle cx="700.2" cy="1385.7" r="3"/><circle cx="702" cy="1381.7" r="3"/><circle cx="703.7" cy="1393.6" r="3"/><circle cx="705.5" cy="1392" r="3"/><circle cx="707.3" cy="1381.5" r="3"/><circle cx="709" cy="1377.1" r="3"/><circle cx="710.8" cy="1352.7" r="3"/><circle cx="712.5" cy="1355.9" r="3"/><circle cx="714.3" cy="1351.5" r="3"/><circle cx="716" cy="1344" r="3"/><circle cx="717.8" cy="1341.9" r="3"/><circle cx="719.6" cy="1372.8" r="3"/><circle cx="721.3" cy="1381.6" r="3"/><circle cx="723.1" cy="1402.3" r="3"/><circle cx="724.8" cy="1414.2" r="3"/><circle cx="726.6" cy="1441.2" r="3"/><circle cx="728.3" cy="1433.4" r="3"/><circle cx="730.1" cy="1427.4" r="3"/><circle cx="731.9" cy="1419.3" r="3"/><circle cx="733.6" cy="1388.2" r="3"/><circle cx="735.4" cy="1376.1" r="3"/><circle cx="737.1" cy="1348.9" r="3"/><circle cx="738.9" cy="1343.5" r="3"/><circle cx="740.7" cy="1320.3" r="3"/><circle cx="742.4" cy="1309.1" r="3"/><circle cx="744.2" cy="1299.7" r="3"/><circle cx="745.9" cy="1306.2" r="3"/><circle cx="747.7" cy="1327" r="3"/><circle cx="749.4" cy="1319.3" r="3"/><circle cx="751.2" cy="1337.6" r="3"/><circle cx="753" cy="1346.5" r="3"/><circle cx="754.7" cy="1345.6" r="3"/><circle cx="756.5" cy="1342.4" r="3"/><circle cx="758.2" cy="1348.2" r="3"/><circle cx="760" cy="1345.6" r="3"/><circle cx="761.8" cy="1326.5" r="3"/><circle cx="763.5" cy="1332.5" r="3"/><circle cx="765.3" cy="1327.8" r="3"/><circle cx="767" cy="1319" r="3"/><circle cx="768.8" cy="1334.1" r="3"/><circle cx="770.5" cy="1348" r="3"/><circle cx="772.3" cy="1341.4" r="3"/><circle cx="774.1" cy="1355.4" r="3"/><circle cx="775.8" cy="1346.8" r="3"/><circle cx="777.6" cy="1353.9" r="3"/><circle cx="779.3" cy="1354.3" r="3"/><circle cx="781.1" cy="1364.5" r="3"/><circle cx="782.8" cy="1366" r="3"/><circle cx="784.6" cy="1347.6" r="3"/><circle cx="786.4" cy="1341.8" r="3"/><circle cx="788.1" cy="1343.4" r="3"/><circle cx="789.9" cy="1343.4" r="3"/><circle cx="791.6" cy="1341.9" r="3"/><circle cx="793.4" cy="1341" r="3"/><circle cx="795.2" cy="1333.1" r="3"/><circle cx="796.9" cy="1346" r="3"/><circle cx="798.7" cy="1340" r="3"/><circle cx="800.4" cy="1335.5" r="3"/><circle cx="802.2" cy="1341.1" r="3"/><circle cx="803.9" cy="1342.3" r="3"/><circle cx="805.7" cy="1339.8" r="3"/><circle cx="807.5" cy="1332.3" r="3"/><circle cx="809.2" cy="1328.1" r="3"/><circle cx="811" cy="1345.8" r="3"/><circle cx="812.7" cy="1324.1" r="3"/><circle cx="814.5" cy="1338.7" r="3"/><circle cx="816.2" cy="1343.3" r="3"/><circle cx="818" cy="1352.4" r="3"/><circle cx="819.8" cy="1352.1" r="3"/><circle cx="821.5" cy="1343.8" r="3"/><circle cx="823.3" cy="1347.8" r="3"/><circle cx="825" cy="1364.5" r="3"/><circle cx="826.8" cy="1359.5" r="3"/><circle cx="828.6" cy="1355.1" r="3"/><circle cx="830.3" cy="1360.7" r="3"/><circle cx="832.1" cy="1342.4" r="3"/><circle cx="833.8" cy="1347.4" r="3"/><circle cx="835.6" cy="1358.9" r="3"/><circle cx="837.3" cy="1367.3" r="3"/><circle cx="839.1" cy="1357.2" r="3"/><circle cx="840.9" cy="1361.6" r="3"/><circle cx="842.6" cy="1363.1" r="3"/><circle cx="844.4" cy="1361.5" r="3"/><circle cx="846.1" cy="1343.1" r="3"/><circle cx="847.9" cy="1339.3" r="3"/><circle cx="849.6" cy="1323" r="3"/><circle cx="851.4" cy="1320.3" r="3"/><circle cx="853.2" cy="1337.9" r="3"/><circle cx="854.9" cy="1343.7" r="3"/><circle cx="856.7" cy="1357.9" r="3"/><circle cx="858.4" cy="1361.7" r="3"/><circle cx="860.2" cy="1371.3" r="3"/><circle cx="862" cy="1362.8" r="3"/><circle cx="863.7" cy="1383.5" r="3"/><circle cx="865.5" cy="1365.9" r="3"/><circle cx="867.2" cy="1365.5" r="3"/><circle cx="869" cy="1357.6" r="3"/><circle cx="870.7" cy="1374.6" r="3"/><circle cx="872.5" cy="1373.2" r="3"/><circle cx="874.3" cy="1373.9" r="3"/><circle cx="876" cy="1383.1" r="3"/><circle cx="877.8" cy="1384.4" r="3"/><circle cx="879.5" cy="1380.2" r="3"/><circle cx="881.3" cy="1375.7" r="3"/><circle cx="883.1" cy="1367.8" r="3"/><circle cx="884.8" cy="1364.5" r="3"/><circle cx="886.6" cy="1333.5" r="3"/><circle cx="888.3" cy="1320.8" r="3"/><circle cx="890.1" cy="1290" r="3"/><circle cx="891.8" cy="1300.4" r="3"/><circle cx="893.6" cy="1272" r="3"/><circle cx="895.4" cy="1296.5" r="3"/><circle cx="897.1" cy="1354.1" r="3"/><circle cx="898.9" cy="1357.1" r="3"/><circle cx="900.6" cy="1354.8" r="3"/><circle cx="902.4" cy="1380.6" r="3"/><circle cx="904.1" cy="1360.9" r="3"/><circle cx="905.9" cy="1346.4" r="3"/><circle cx="907.7" cy="1353.7" r="3"/><circle cx="909.4" cy="1331.1" r="3"/><circle cx="911.2" cy="1331.1" r="3"/><circle cx="912.9" cy="1311.2" r="3"/><circle cx="914.7" cy="1352.4" r="3"/><circle cx="916.5" cy="1348.3" r="3"/><circle cx="918.2" cy="1369.5" r="3"/><circle cx="920" cy="1373" r="3"/><circle cx="921.7" cy="1375.3" r="3"/><circle cx="923.5" cy="1385.1" r="3"/><circle cx="925.2" cy="1383.2" r="3"/><circle cx="927" cy="1362.4" r="3"/><circle cx="928.8" cy="1370.4" r="3"/><circle cx="930.5" cy="1344.3" r="3"/><circle cx="932.3" cy="1361.5" r="3"/><circle cx="934" cy="1384.1" r="3"/><circle cx="935.8" cy="1379.3" r="3"/><circle cx="937.5" cy="1384.5" r="3"/><circle cx="939.3" cy="1377.1" r="3"/><circle cx="941.1" cy="1380.7" r="3"/><circle cx="942.8" cy="1359.5" r="3"/><circle cx="944.6" cy="1329.2" r="3"/><circle cx="946.3" cy="1325.1" r="3"/><circle cx="948.1" cy="1348.3" r="3"/><circle cx="949.9" cy="1346.1" r="3"/><circle cx="951.6" cy="1361.8" r="3"/><circle cx="953.4" cy="1380.3" r="3"/><circle cx="955.1" cy="1389.7" r="3"/><circle cx="956.9" cy="1381.7" r="3"/><circle cx="958.6" cy="1373.7" r="3"/><circle cx="960.4" cy="1365" r="3"/><circle cx="962.2" cy="1349.7" r="3"/><circle cx="963.9" cy="1320.2" r="3"/></g>
</g>
<g stroke="#b8b8b8" stroke-width="1.2" fill="none">
<path d="M102.5,923.9V1668.8H982.4"/>
<path d="M102.5,924h8.8"/>
<path d="M102.5,1072.8h8.8"/>
<path d="M102.5,1221.7h8.8"/>
<path d="M102.5,1370.5h8.8"/>
<path d="M102.5,1519.3h8.8"/>
<path d="M190.4,1668.8v-8.8"/>
<path d="M278.3,1668.8v-8.8"/>
<path d="M366.2,1668.8v-8.8"/>
<path d="M454.1,1668.8v-8.8"/>
<path d="M542,1668.8v-8.8"/>
<path d="M629.9,1668.8v-8.8"/>
<path d="M717.8,1668.8v-8.8"/>
<path d="M805.7,1668.8v-8.8"/>
<path d="M893.6,1668.8v-8.8"/>
<path d="M982.1,1668.8v-8.8"/>
</g>
<g font-family="'Liberation Sans', Arial, sans-serif" font-size="21.65" fill="#000" stroke="#000" stroke-width="0.3">
<text transform="translate(96.1,931.8) scale(0.92,1)" text-anchor="end">15</text>
<text transform="translate(96.1,1080.6) scale(0.92,1)" text-anchor="end">10</text>
<text transform="translate(96.1,1229.5) scale(0.92,1)" text-anchor="end">5</text>
<text transform="translate(96.1,1378.3) scale(0.92,1)" text-anchor="end">0</text>
<text transform="translate(96.1,1527.1) scale(0.92,1)" text-anchor="end">-5</text>
<text transform="translate(96.1,1676) scale(0.92,1)" text-anchor="end">-10</text>
<text transform="translate(102.5,1693.2) scale(0.92,1)" text-anchor="middle">0</text>
<text transform="translate(190.4,1693.2) scale(0.92,1)" text-anchor="middle">50</text>
<text transform="translate(278.3,1693.2) scale(0.92,1)" text-anchor="middle">100</text>
<text transform="translate(366.2,1693.2) scale(0.92,1)" text-anchor="middle">150</text>
<text transform="translate(454.1,1693.2) scale(0.92,1)" text-anchor="middle">200</text>
<text transform="translate(542,1693.2) scale(0.92,1)" text-anchor="middle">250</text>
<text transform="translate(629.9,1693.2) scale(0.92,1)" text-anchor="middle">300</text>
<text transform="translate(717.8,1693.2) scale(0.92,1)" text-anchor="middle">350</text>
<text transform="translate(805.7,1693.2) scale(0.92,1)" text-anchor="middle">400</text>
<text transform="translate(893.6,1693.2) scale(0.92,1)" text-anchor="middle">450</text>
<text transform="translate(982.1,1693.2) scale(0.92,1)" text-anchor="middle">500</text>
<text transform="translate(539.9,1718.6) scale(0.908,1)" text-anchor="middle" font-size="21.8">Sampling Number</text>
<text transform="translate(53.6,1293.2) rotate(-90)" x="-65.05" textLength="130.1" lengthAdjust="spacingAndGlyphs" font-size="20.8">North Error[m]</text>
</g>
<rect x="532.95" y="1311.35" width="108.09999999999991" height="142.60000000000014" fill="none" stroke="#ff0000" stroke-width="3.9"/>
<path d="M597.5,1304.3L608.0,1265.4" stroke="#ff0000" stroke-width="3.8" fill="none"/>
<polygon points="617.1,1238.1 598.1,1265.1 599.8,1268.2 608.2,1265.6 616.8,1276.8" fill="#ff0000"/>
<rect x="520.1" y="932.8" width="235.19999999999993" height="289.0" fill="#fff"/>
<clipPath id="icB"><rect x="513.1" y="932.8" width="249.19999999999993" height="289.0"/></clipPath>
<g clip-path="url(#icB)">
<polyline points="520,1082.7 525.9,1120.6 531.7,1085.6 537.6,1050.7 543.5,1150.4 549.4,967 555.2,993.2 561.1,1120.6 567,1085.6 572.9,1117.7 578.7,1053.6 584.6,1082.7 590.5,1047.8 596.3,1076.9 602.2,977.2 608.1,1103.1 614,1039 619.8,1113.3 625.7,1207.9 631.6,1044.9 637.5,1018.7 643.3,1078.4 649.2,1123.5 655.1,1018.7 661,955.3 666.8,1210.1 672.7,1170.8 678.6,1114.8 684.4,1047.8 690.3,1075.4 696.2,1175.2 702.1,1079.8 707.9,1111.8 713.8,1088.6 719.7,1050.7 725.6,981.5 731.4,1157.7 737.3,1100.2 743.2,1096.6 749,1122 754.9,1018.7" fill="none" stroke="#00ff00" stroke-width="4.3" stroke-linejoin="miter" stroke-miterlimit="8"/>
<path d="M514.8,1077.5h10.4v10.4h-10.4zM520.7,1115.4h10.4v10.4h-10.4zM526.5,1080.4h10.4v10.4h-10.4zM532.4,1045.5h10.4v10.4h-10.4zM538.3,1145.2h10.4v10.4h-10.4zM544.2,961.8h10.4v10.4h-10.4zM550,988h10.4v10.4h-10.4zM555.9,1115.4h10.4v10.4h-10.4zM561.8,1080.4h10.4v10.4h-10.4zM567.7,1112.5h10.4v10.4h-10.4zM573.5,1048.4h10.4v10.4h-10.4zM579.4,1077.5h10.4v10.4h-10.4zM585.3,1042.6h10.4v10.4h-10.4zM591.1,1071.7h10.4v10.4h-10.4zM597,972h10.4v10.4h-10.4zM602.9,1097.9h10.4v10.4h-10.4zM608.8,1033.8h10.4v10.4h-10.4zM614.6,1108.1h10.4v10.4h-10.4zM620.5,1202.7h10.4v10.4h-10.4zM626.4,1039.7h10.4v10.4h-10.4zM632.3,1013.5h10.4v10.4h-10.4zM638.1,1073.2h10.4v10.4h-10.4zM644,1118.3h10.4v10.4h-10.4zM649.9,1013.5h10.4v10.4h-10.4zM655.8,950.1h10.4v10.4h-10.4zM661.6,1204.9h10.4v10.4h-10.4zM667.5,1165.6h10.4v10.4h-10.4zM673.4,1109.6h10.4v10.4h-10.4zM679.2,1042.6h10.4v10.4h-10.4zM685.1,1070.2h10.4v10.4h-10.4zM691,1170h10.4v10.4h-10.4zM696.9,1074.6h10.4v10.4h-10.4zM702.7,1106.6h10.4v10.4h-10.4zM708.6,1083.4h10.4v10.4h-10.4zM714.5,1045.5h10.4v10.4h-10.4zM720.4,976.3h10.4v10.4h-10.4zM726.2,1152.5h10.4v10.4h-10.4zM732.1,1095h10.4v10.4h-10.4zM738,1091.4h10.4v10.4h-10.4zM743.8,1116.8h10.4v10.4h-10.4zM749.7,1013.5h10.4v10.4h-10.4z" fill="none" stroke="#00ff00" stroke-width="4.2"/>
</g>
<g clip-path="url(#icB)">
<polyline points="520,1085.6 525.9,1044.9 531.7,1103.1 537.6,1117.7 543.5,1092.9 549.4,1053.6 555.2,960.4 561.1,1071.1 567,1162.8 572.9,1100.2 578.7,1036.9 584.6,1053.6 590.5,1105.3 596.3,1039 602.2,1024.5 608.1,1090 614,1063.8 619.8,1096.6 625.7,1114.8 631.6,1071.1 637.5,1028.9 643.3,1076.9 649.2,1100.2 655.1,1020.8 661,1035.4 666.8,1153.3 672.7,1154.8 678.6,1100.2 684.4,1082 690.3,1108.9 696.2,1100.2 702.1,1114.8 707.9,1119.1 713.8,1076.9 719.7,1011.4 725.6,1039.8 731.4,1141.7 737.3,1122 743.2,1100.2 749,1066 754.9,1043.4" fill="none" stroke="#0000ff" stroke-width="4.3" stroke-linejoin="miter" stroke-miterlimit="8"/>
<g fill="none" stroke="#0000ff" stroke-width="3.6"><circle cx="520" cy="1085.6" r="4.9"/><circle cx="525.9" cy="1044.9" r="4.9"/><circle cx="531.7" cy="1103.1" r="4.9"/><circle cx="537.6" cy="1117.7" r="4.9"/><circle cx="543.5" cy="1092.9" r="4.9"/><circle cx="549.4" cy="1053.6" r="4.9"/><circle cx="555.2" cy="960.4" r="4.9"/><circle cx="561.1" cy="1071.1" r="4.9"/><circle cx="567" cy="1162.8" r="4.9"/><circle cx="572.9" cy="1100.2" r="4.9"/><circle cx="578.7" cy="1036.9" r="4.9"/><circle cx="584.6" cy="1053.6" r="4.9"/><circle cx="590.5" cy="1105.3" r="4.9"/><circle cx="596.3" cy="1039" r="4.9"/><circle cx="602.2" cy="1024.5" r="4.9"/><circle cx="608.1" cy="1090" r="4.9"/><circle cx="614" cy="1063.8" r="4.9"/><circle cx="619.8" cy="1096.6" r="4.9"/><circle cx="625.7" cy="1114.8" r="4.9"/><circle cx="631.6" cy="1071.1" r="4.9"/><circle cx="637.5" cy="1028.9" r="4.9"/><circle cx="643.3" cy="1076.9" r="4.9"/><circle cx="649.2" cy="1100.2" r="4.9"/><circle cx="655.1" cy="1020.8" r="4.9"/><circle cx="661" cy="1035.4" r="4.9"/><circle cx="666.8" cy="1153.3" r="4.9"/><circle cx="672.7" cy="1154.8" r="4.9"/><circle cx="678.6" cy="1100.2" r="4.9"/><circle cx="684.4" cy="1082" r="4.9"/><circle cx="690.3" cy="1108.9" r="4.9"/><circle cx="696.2" cy="1100.2" r="4.9"/><circle cx="702.1" cy="1114.8" r="4.9"/><circle cx="707.9" cy="1119.1" r="4.9"/><circle cx="713.8" cy="1076.9" r="4.9"/><circle cx="719.7" cy="1011.4" r="4.9"/><circle cx="725.6" cy="1039.8" r="4.9"/><circle cx="731.4" cy="1141.7" r="4.9"/><circle cx="737.3" cy="1122" r="4.9"/><circle cx="743.2" cy="1100.2" r="4.9"/><circle cx="749" cy="1066" r="4.9"/><circle cx="754.9" cy="1043.4" r="4.9"/></g>
</g>
<g clip-path="url(#icB)">
<polyline points="520,1100.2 525.9,1076.9 531.7,1111.8 537.6,1123.5 543.5,1091.5 549.4,1047.8 555.2,1001.2 561.1,1068.2 567,1134.4 572.9,1065.3 578.7,1068.2 584.6,1074 590.5,1078.4 596.3,1044.9 602.2,1042 608.1,1065.3 614,1076.9 619.8,1091.5 625.7,1114.8 631.6,1082.7 637.5,1017.9 643.3,1084.2 649.2,1085.6 655.1,1034.7 661,1060.9 666.8,1136.6 672.7,1179.6 678.6,1091.5 684.4,1086.4 690.3,1097.3 696.2,1090.7 702.1,1114.8 707.9,1123.5 713.8,1084.2 719.7,1051.4 725.6,1052.9 731.4,1125.7 737.3,1114.8 743.2,1107.5 749,1092.9 754.9,1050.7" fill="none" stroke="#ff0000" stroke-width="4.3" stroke-linejoin="miter" stroke-miterlimit="8"/>
<g fill="#ff0000"><circle cx="520" cy="1100.2" r="5.1"/><circle cx="525.9" cy="1076.9" r="5.1"/><circle cx="531.7" cy="1111.8" r="5.1"/><circle cx="537.6" cy="1123.5" r="5.1"/><circle cx="543.5" cy="1091.5" r="5.1"/><circle cx="549.4" cy="1047.8" r="5.1"/><circle cx="555.2" cy="1001.2" r="5.1"/><circle cx="561.1" cy="1068.2" r="5.1"/><circle cx="567" cy="1134.4" r="5.1"/><circle cx="572.9" cy="1065.3" r="5.1"/><circle cx="578.7" cy="1068.2" r="5.1"/><circle cx="584.6" cy="1074" r="5.1"/><circle cx="590.5" cy="1078.4" r="5.1"/><circle cx="596.3" cy="1044.9" r="5.1"/><circle cx="602.2" cy="1042" r="5.1"/><circle cx="608.1" cy="1065.3" r="5.1"/><circle cx="614" cy="1076.9" r="5.1"/><circle cx="619.8" cy="1091.5" r="5.1"/><circle cx="625.7" cy="1114.8" r="5.1"/><circle cx="631.6" cy="1082.7" r="5.1"/><circle cx="637.5" cy="1017.9" r="5.1"/><circle cx="643.3" cy="1084.2" r="5.1"/><circle cx="649.2" cy="1085.6" r="5.1"/><circle cx="655.1" cy="1034.7" r="5.1"/><circle cx="661" cy="1060.9" r="5.1"/><circle cx="666.8" cy="1136.6" r="5.1"/><circle cx="672.7" cy="1179.6" r="5.1"/><circle cx="678.6" cy="1091.5" r="5.1"/><circle cx="684.4" cy="1086.4" r="5.1"/><circle cx="690.3" cy="1097.3" r="5.1"/><circle cx="696.2" cy="1090.7" r="5.1"/><circle cx="702.1" cy="1114.8" r="5.1"/><circle cx="707.9" cy="1123.5" r="5.1"/><circle cx="713.8" cy="1084.2" r="5.1"/><circle cx="719.7" cy="1051.4" r="5.1"/><circle cx="725.6" cy="1052.9" r="5.1"/><circle cx="731.4" cy="1125.7" r="5.1"/><circle cx="737.3" cy="1114.8" r="5.1"/><circle cx="743.2" cy="1107.5" r="5.1"/><circle cx="749" cy="1092.9" r="5.1"/><circle cx="754.9" cy="1050.7" r="5.1"/></g>
</g>
<g clip-path="url(#icB)">
<polyline points="520,1108.9 525.9,1098.7 531.7,1100.2 537.6,1076.9 543.5,1056.5 549.4,1055.1 555.2,1071.1 561.1,1062.3 567,1082.7 572.9,1103.1 578.7,1084.2 584.6,1068.2 590.5,1046.3 596.3,1056.5 602.2,1047.8 608.1,1062.3 614,1085.6 619.8,1107.5 625.7,1082.7 631.6,1087.1 637.5,1092.9 643.3,1062.3 649.2,1034.7 655.1,1074 661,1097.3 666.8,1097.3 672.7,1101.7 678.6,1125 684.4,1119.1 690.3,1101.7 696.2,1097.3 702.1,1104.6 707.9,1101.7 713.8,1065.3 719.7,1074 725.6,1075.4 731.4,1079.8 737.3,1092.9 743.2,1100.2 749,1074 754.9,1088.6" fill="none" stroke="#ffff00" stroke-width="4.3" stroke-linejoin="miter" stroke-miterlimit="8"/>
<g fill="#ffff00"><circle cx="520" cy="1108.9" r="3"/><circle cx="525.9" cy="1098.7" r="3"/><circle cx="531.7" cy="1100.2" r="3"/><circle cx="537.6" cy="1076.9" r="3"/><circle cx="543.5" cy="1056.5" r="3"/><circle cx="549.4" cy="1055.1" r="3"/><circle cx="555.2" cy="1071.1" r="3"/><circle cx="561.1" cy="1062.3" r="3"/><circle cx="567" cy="1082.7" r="3"/><circle cx="572.9" cy="1103.1" r="3"/><circle cx="578.7" cy="1084.2" r="3"/><circle cx="584.6" cy="1068.2" r="3"/><circle cx="590.5" cy="1046.3" r="3"/><circle cx="596.3" cy="1056.5" r="3"/><circle cx="602.2" cy="1047.8" r="3"/><circle cx="608.1" cy="1062.3" r="3"/><circle cx="614" cy="1085.6" r="3"/><circle cx="619.8" cy="1107.5" r="3"/><circle cx="625.7" cy="1082.7" r="3"/><circle cx="631.6" cy="1087.1" r="3"/><circle cx="637.5" cy="1092.9" r="3"/><circle cx="643.3" cy="1062.3" r="3"/><circle cx="649.2" cy="1034.7" r="3"/><circle cx="655.1" cy="1074" r="3"/><circle cx="661" cy="1097.3" r="3"/><circle cx="666.8" cy="1097.3" r="3"/><circle cx="672.7" cy="1101.7" r="3"/><circle cx="678.6" cy="1125" r="3"/><circle cx="684.4" cy="1119.1" r="3"/><circle cx="690.3" cy="1101.7" r="3"/><circle cx="696.2" cy="1097.3" r="3"/><circle cx="702.1" cy="1104.6" r="3"/><circle cx="707.9" cy="1101.7" r="3"/><circle cx="713.8" cy="1065.3" r="3"/><circle cx="719.7" cy="1074" r="3"/><circle cx="725.6" cy="1075.4" r="3"/><circle cx="731.4" cy="1079.8" r="3"/><circle cx="737.3" cy="1092.9" r="3"/><circle cx="743.2" cy="1100.2" r="3"/><circle cx="749" cy="1074" r="3"/><circle cx="754.9" cy="1088.6" r="3"/></g>
</g>
<g stroke="#b8b8b8" stroke-width="1.2" fill="none">
<rect x="520.1" y="932.8" width="235.19999999999993" height="289.0"/>
<path d="M520.1,954.6h3.5M755.3,954.6h-3.5"/>
<path d="M520.1,991h3.5M755.3,991h-3.5"/>
<path d="M520.1,1027.4h3.5M755.3,1027.4h-3.5"/>
<path d="M520.1,1063.8h3.5M755.3,1063.8h-3.5"/>
<path d="M520.1,1100.2h3.5M755.3,1100.2h-3.5"/>
<path d="M520.1,1136.6h3.5M755.3,1136.6h-3.5"/>
<path d="M520.1,1173h3.5M755.3,1173h-3.5"/>
<path d="M520.1,1209.4h3.5M755.3,1209.4h-3.5"/>
<path d="M520,1221.8v-3.5M520,932.8v3.5"/>
<path d="M578.7,1221.8v-3.5M578.7,932.8v3.5"/>
<path d="M637.5,1221.8v-3.5M637.5,932.8v3.5"/>
<path d="M696.2,1221.8v-3.5M696.2,932.8v3.5"/>
<path d="M754.9,1221.8v-3.5M754.9,932.8v3.5"/>
</g>
<g font-family="'Liberation Sans', Arial, sans-serif" font-size="21.65" fill="#000" stroke="#000" stroke-width="0.3">
<text transform="translate(514.7,961.7) scale(0.92,1)" text-anchor="end">1.5</text>
<text transform="translate(514.7,998.1) scale(0.92,1)" text-anchor="end">1</text>
<text transform="translate(514.7,1034.5) scale(0.92,1)" text-anchor="end">0.5</text>
<text transform="translate(514.7,1070.9) scale(0.92,1)" text-anchor="end">0</text>
<text transform="translate(514.7,1107.3) scale(0.92,1)" text-anchor="end">-0.5</text>
<text transform="translate(514.7,1143.7) scale(0.92,1)" text-anchor="end">-1</text>
<text transform="translate(514.7,1180.1) scale(0.92,1)" text-anchor="end">-1.5</text>
<text transform="translate(514.7,1216.5) scale(0.92,1)" text-anchor="end">-2</text>
<text transform="translate(520,1245.3999999999999) scale(0.92,1)" text-anchor="middle">270</text>
<text transform="translate(578.7,1245.3999999999999) scale(0.92,1)" text-anchor="middle">280</text>
<text transform="translate(637.5,1245.3999999999999) scale(0.92,1)" text-anchor="middle">290</text>
<text transform="translate(696.2,1245.3999999999999) scale(0.92,1)" text-anchor="middle">300</text>
<text transform="translate(754.9,1245.3999999999999) scale(0.92,1)" text-anchor="middle">310</text>
</g>
<rect x="825.4" y="933.7" width="148.0" height="113.59999999999991" fill="#fff" stroke="#b8b8b8" stroke-width="1.3"/>
<g font-family="'Liberation Sans', Arial, sans-serif" font-size="21.3" fill="#000" stroke="#000" stroke-width="0.3">
<path d="M837.1,950.5H899.2" stroke="#00ff00" stroke-width="4.3" fill="none"/>
<rect x="862.05" y="945.15" width="10.7" height="10.7" fill="none" stroke="#00ff00" stroke-width="4.3"/>
<text transform="translate(906.9,957.4) scale(0.9345,1)" text-anchor="start">EKF</text>
<path d="M837.1,977.2H899.2" stroke="#0000ff" stroke-width="4.3" fill="none"/>
<circle cx="867.4" cy="977.2" r="5.2" fill="none" stroke="#0000ff" stroke-width="4"/>
<text transform="translate(906.9,984.7) scale(0.9625,1)" text-anchor="start">IEKF</text>
<path d="M837.1,1002.8H899.2" stroke="#ff0000" stroke-width="4.3" fill="none"/>
<circle cx="867.4" cy="1002.8" r="5.4" fill="#ff0000" stroke="none"/>
<text transform="translate(906.9,1012.3) scale(0.9485,1)" text-anchor="start">AEKF</text>
<path d="M837.1,1029.8H899.2" stroke="#ffff00" stroke-width="4.3" fill="none"/>
<circle cx="867.4" cy="1029.8" r="3" fill="#ffff00" stroke="none"/>
<text transform="translate(906.9,1039.6) scale(0.9766,1)" text-anchor="start">AIEKF</text>
</g>
<text x="517" y="1774" text-anchor="middle" font-family="'Liberation Serif', 'Times New Roman', serif" font-weight="bold" font-size="39.5">(b)</text>
</g>
</svg>
</body></html>
